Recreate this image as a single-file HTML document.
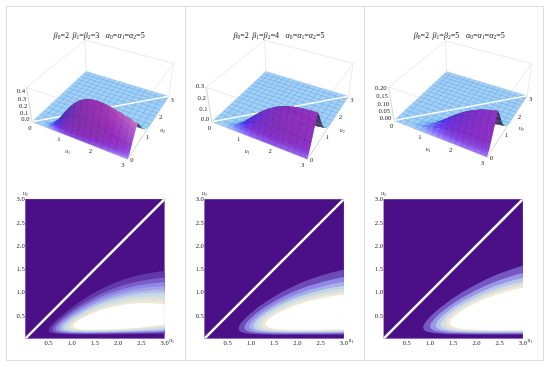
<!DOCTYPE html>
<html><head><meta charset="utf-8"><title>figure</title>
<style>
html,body{margin:0;padding:0;background:#fff;}
body{width:550px;height:367px;overflow:hidden;}
svg{display:block;}
text{font-family:"Liberation Serif","DejaVu Serif",serif;fill:#262626;}
.tk{font-size:6.6px;}
.al{font-size:5.8px;}
.tt{font-size:8.1px;fill:#222;}
.sb{font-size:5.6px;}
.t3{font-size:6.7px;}
</style></head><body>
<svg width="550" height="367" viewBox="0 0 550 367">
<rect width="550" height="367" fill="#fff"/>
<g fill="none" stroke="#dedede" stroke-width="1">
<rect x="6.5" y="6.5" width="537" height="354"/>
<line x1="185.5" y1="6.5" x2="185.5" y2="360.5"/><line x1="364.5" y1="6.5" x2="364.5" y2="360.5"/>
</g>
<line x1="537.8" y1="7" x2="537.8" y2="360" stroke="#f3f3f3" stroke-width="1"/>
<g id="c1"><clipPath id="cp1"><rect x="25.3" y="199.1" width="139.3" height="139.5"/></clipPath>
<rect x="25.3" y="199.1" width="139.3" height="139.5" fill="#4b0f87"/>
<g clip-path="url(#cp1)">
<path d="M67.3,334.2 81,334.4 102,334.4 132.8,334.1 167.4,333.6 167.4,270.6 161.5,271.2 155.8,272 149.9,273 144.6,274 139.3,275.1 133.9,276.5 128.6,278 123.9,279.5 119.1,281.1 114.4,283 109.7,285 104.6,287.3 99.9,289.7 95.2,292.3 90.7,294.8 86,297.8 79.8,301.8 73.6,306.2 67.9,310.5 62.3,314.9 57.6,319 53.7,322.6 52,324.4 50.8,325.8 49.9,327 49.2,328.1 48.8,329 48.6,329.9 48.6,330.5 48.8,331 49.2,331.6 49.5,331.9 50.2,332.3 51.1,332.7 52.2,333 53.4,333.3 57,333.7 61.7,334.1 67.3,334.2Z" fill="#6237a7"/>
<path d="M75.7,333.7 91,333.7 113.2,333.6 139.3,333.2 167.4,332.6 167.4,277.4 160.9,278 155,278.6 149,279.5 143.4,280.4 137.8,281.5 132.5,282.7 127.1,284 122.1,285.5 116.8,287.2 112,289 107.3,290.9 102.3,293.1 97.8,295.2 92.8,297.8 88.1,300.4 83.3,303.2 77.7,306.8 71.8,310.8 66.1,315 61.7,318.5 58,321.7 56.5,323.2 55.1,324.7 54.1,325.8 53.3,327 52.8,327.8 52.5,328.7 52.4,329.3 52.4,329.9 52.7,330.5 53.2,331 53.7,331.4 54.6,331.9 55.7,332.2 56.7,332.4 59.6,332.9 63.8,333.3 69.1,333.5 75.7,333.7Z" fill="#795fc8"/>
<path d="M75.7,333.1 82.7,333.2 91.3,333.2 113.8,333 141.6,332.5 167.4,331.8 167.4,282.1 161.8,282.5 155.8,283 150.2,283.6 144.6,284.4 139.3,285.3 134.2,286.2 129.2,287.4 123.9,288.7 118.8,290.2 114.1,291.7 109.4,293.4 104.9,295.1 100.2,297.2 95.8,299.2 91.3,301.5 86.9,303.8 81.2,307.1 76.2,310.3 70.6,314 65.9,317.5 62,320.6 60.4,322 58.8,323.5 57.7,324.7 56.8,325.8 56,327 55.6,327.8 55.4,328.4 55.4,329 55.5,329.6 55.8,330.2 56.4,330.7 57,331 57.7,331.3 58.7,331.7 61.5,332.2 65,332.6 69.7,332.9 75.7,333.1Z" fill="#9087e8"/>
<path d="M74.3,332.5 81.2,332.7 90.1,332.7 100.8,332.6 113.2,332.5 141,331.8 154.7,331.4 167.4,330.9 167.4,285.9 161.8,286.2 156.4,286.6 151.1,287 146.1,287.6 141,288.3 136,289.1 131.3,290 126.5,291.1 121.8,292.2 117.4,293.5 112.9,294.9 108.5,296.4 104,298.1 99.9,299.8 95.5,301.8 91,303.9 85.7,306.7 80.1,309.9 74.7,313.2 70,316.4 65.9,319.5 62.4,322.3 61.2,323.5 60.1,324.7 59.1,325.8 58.6,326.7 58.2,327.6 58,328.1 58,328.7 58.2,329.1 58.4,329.6 59,330.2 59.5,330.5 60.2,330.8 61.1,331.1 62.3,331.4 65.5,331.9 69.4,332.3 74.3,332.5Z" fill="#a1a2e8"/>
<path d="M84.3,332.2 92.2,332.2 101.7,332.2 123.6,331.7 146.1,331 167.4,330.1 167.4,289.3 161.5,289.5 155.8,289.7 150.2,290.1 144.9,290.7 139.6,291.4 134.5,292.1 129.5,293.1 124.8,294.1 120,295.2 115,296.6 110.3,298.1 105.5,299.8 101.1,301.5 96.6,303.3 92.2,305.3 87.5,307.7 82.1,310.6 77.1,313.5 72.4,316.5 68.2,319.5 65,322 63.7,323.2 62.6,324.4 61.6,325.5 61,326.4 60.6,327.3 60.5,327.8 60.6,328.4 60.8,329 61.3,329.6 61.8,329.9 62.3,330.2 63.2,330.5 64.1,330.8 65.6,331.1 68.8,331.6 73,331.9 78,332.1 84.3,332.2Z" fill="#b2bde9"/>
<path d="M79.7,331.6 87.2,331.8 96.6,331.7 107.6,331.6 120,331.3 132.8,330.9 144.9,330.4 156.1,329.8 167.4,329.1 167.4,292.4 162.1,292.4 157,292.5 152,292.8 147,293.2 141.9,293.6 137.2,294.2 132.8,294.9 128,295.7 123.6,296.7 119.1,297.7 114.7,298.9 110.6,300.1 106.1,301.6 102,303.1 97.8,304.7 93.7,306.5 88.6,308.8 83.6,311.4 78.6,314.3 74.1,317 70.3,319.6 67.2,322 65.9,323.2 64.7,324.4 64,325.2 63.4,326.1 63.2,326.7 63,327.3 63,327.8 63.2,328.4 63.5,328.9 64,329.3 64.7,329.7 65.6,330.1 67.6,330.6 70.6,331 74.4,331.4 79.7,331.6Z" fill="#c2d8e9"/>
<path d="M78.7,331 86.3,331.3 95.8,331.3 107.6,331.1 120.5,330.8 134.2,330.2 146.5,329.6 157,328.9 167.4,328.1 167.4,295.4 162.6,295.3 157.9,295.3 153.2,295.4 148.4,295.6 143.7,295.9 139.3,296.4 134.8,296.9 130.4,297.5 125.9,298.3 121.8,299.2 117.7,300.1 113.5,301.2 109.4,302.4 105.2,303.7 101.4,305.1 97.2,306.7 92.2,308.8 87.5,311.1 82.7,313.5 78.3,316 74.2,318.5 70.9,320.9 69.4,322 68.2,323.1 67.2,324.1 66.4,324.9 65.9,325.8 65.6,326.4 65.4,327 65.4,327.6 65.7,328.1 65.9,328.4 66.4,328.9 67.1,329.3 68.8,329.9 71.5,330.4 74.4,330.8 78.7,331Z" fill="#d2dde2"/>
<path d="M86.2,330.8 94.6,330.8 104.6,330.7 115.9,330.4 128,329.9 138.9,329.3 149.3,328.6 158.4,327.8 167.4,326.9 167.4,298.4 162.6,298.1 157.9,298 153.2,298 148.4,298.1 143.7,298.3 139.3,298.6 134.5,299.1 130.1,299.7 125.6,300.4 121.5,301.2 117.1,302.2 112.9,303.2 108.8,304.4 104.6,305.7 100.5,307.1 96.3,308.7 91.3,310.8 86.6,313 81.8,315.5 77.7,317.9 74,320.3 71.3,322.3 70.3,323.2 69.4,324.1 68.7,324.9 68.2,325.8 68,326.4 67.9,327 68.1,327.6 68.3,327.8 68.8,328.4 69.3,328.7 70,329 71.2,329.4 73.4,329.9 76.8,330.3 81,330.6 86.2,330.8Z" fill="#e1e2db"/>
<path d="M85.4,330.2 94,330.3 104.3,330.2 116.5,329.8 128.9,329.2 140.4,328.4 150.6,327.6 158.7,326.7 167.4,325.5 167.4,301.5 163.2,301 159.1,300.8 155,300.6 150.5,300.5 146.1,300.6 141.6,300.8 137.2,301.1 133,301.5 128.9,302 124.8,302.6 120.6,303.3 116.5,304.2 112.6,305.1 108.5,306.2 104.6,307.4 100.5,308.8 95.8,310.5 91,312.5 86.6,314.6 82.2,316.8 78.3,319.1 75.1,321.2 72.9,322.9 72,323.8 71.3,324.7 70.9,325.2 70.7,325.8 70.6,326.4 70.6,327 70.9,327.4 71.3,327.8 71.8,328.2 72.7,328.6 74.4,329.1 77.2,329.6 80.7,329.9 85.4,330.2Z" fill="#f0e7d5"/>
<path d="M86.6,329.6 90.7,329.7 95.5,329.7 106.7,329.5 119.8,329 132.2,328.2 143.3,327.3 152.3,326.2 157.3,325.5 160.9,324.9 164,324.4 167.4,323.6 167.4,304.9 163.8,304.3 160,303.8 156.1,303.4 152.3,303.2 148.4,303 144.3,303 140.2,303.1 136,303.3 131.9,303.7 128,304.1 123.9,304.7 120,305.3 115.9,306.1 112,307 108.2,308 104.3,309.1 99.3,310.8 94.6,312.6 90,314.5 85.7,316.5 81.8,318.5 78.5,320.6 76.1,322.3 75.1,323.2 74.3,324.1 73.8,324.7 73.5,325.2 73.4,325.8 73.4,326.4 73.7,327 73.9,327.3 74.3,327.6 75,328 75.9,328.3 76.8,328.5 79.3,329 82.4,329.3 86.6,329.6Z" fill="#ffffff"/>
<line x1="25.3" y1="338.6" x2="164.6" y2="199.1" stroke="#fff" stroke-width="2.5"/>
</g>
<text x="48.5" y="345.0" text-anchor="middle" class="tk">0.5</text>
<text x="24.8" y="317.6" text-anchor="end" class="tk">0.5</text>
<text x="71.7" y="345.0" text-anchor="middle" class="tk">1.0</text>
<text x="24.8" y="294.3" text-anchor="end" class="tk">1.0</text>
<text x="94.9" y="345.0" text-anchor="middle" class="tk">1.5</text>
<text x="24.8" y="271.1" text-anchor="end" class="tk">1.5</text>
<text x="118.2" y="345.0" text-anchor="middle" class="tk">2.0</text>
<text x="24.8" y="247.8" text-anchor="end" class="tk">2.0</text>
<text x="141.4" y="345.0" text-anchor="middle" class="tk">2.5</text>
<text x="24.8" y="224.6" text-anchor="end" class="tk">2.5</text>
<text x="164.6" y="345.0" text-anchor="middle" class="tk">3.0</text>
<text x="24.8" y="201.3" text-anchor="end" class="tk">3.0</text>
<text x="22.9" y="194.6" class="al"><tspan font-style="italic">u</tspan><tspan dy="1" font-size="3.9">2</tspan></text>
<text x="169.2" y="341.5" class="al"><tspan font-style="italic">u</tspan><tspan dy="1" font-size="3.9">1</tspan></text></g>
<g id="c2"><clipPath id="cp2"><rect x="204.4" y="199.2" width="139.5" height="139.4"/></clipPath>
<rect x="204.4" y="199.2" width="139.5" height="139.4" fill="#4b0f87"/>
<g clip-path="url(#cp2)">
<path d="M265.3,334.5 277.6,334.7 294.5,334.8 317.9,334.7 346.7,334.5 346.7,269.2 340.2,270.5 333.1,272.2 326.5,274 320.6,275.7 314.4,277.8 308.4,279.9 302.8,282.1 296.6,284.7 291,287.4 285.3,290.2 280,293.1 274.4,296.4 268.7,299.9 263.7,303.2 258.6,306.8 253.9,310.5 250.1,313.7 246.6,316.8 243.8,319.7 241.5,322.3 240.7,323.5 239.9,324.7 239.3,325.8 238.9,326.7 238.7,327.6 238.6,328.4 238.6,329.3 238.8,329.9 239.1,330.5 239.7,331 240.3,331.5 241,331.9 241.8,332.2 242.9,332.6 245.6,333.2 249.2,333.7 253.3,334.1 258.9,334.3 265.3,334.5Z" fill="#6d4bb7"/>
<path d="M274,333.7 285.9,333.8 301.6,333.8 321.2,333.7 346.7,333.5 346.7,276.6 340.2,277.8 333.4,279.2 327.1,280.7 320.6,282.4 314.4,284.2 308.4,286.1 302.5,288.2 297.2,290.3 291.3,292.8 285.9,295.3 280.3,298.1 275,301 269.9,303.9 264.9,307.1 260.4,310.2 256.3,313.3 253,316 250.2,318.6 248,320.9 247,322 246.1,323.2 245.4,324.4 245,325.2 244.6,326.1 244.4,327 244.4,327.9 244.5,328.4 244.7,329 245.2,329.6 245.6,330 246.2,330.5 247.1,330.9 248.1,331.3 250.3,332 253.5,332.5 257.2,332.9 261.6,333.2 267.2,333.5 274,333.7Z" fill="#9087e8"/>
<path d="M274.8,332.8 286.8,333 302.2,333 322.1,332.9 346.7,332.6 346.7,281.5 340.2,282.6 333.9,283.8 328,285 322.1,286.4 316.5,287.9 310.5,289.6 305.2,291.4 299.9,293.2 294.5,295.3 289.2,297.5 284.1,299.8 279.4,302.1 274.4,304.8 269.9,307.4 265.8,310 261.9,312.6 258.4,315.3 255.5,317.7 253,320 251.2,322 250.4,323.2 249.9,324.1 249.4,325 249.2,325.8 249.1,326.7 249.1,327.3 249.3,327.9 249.6,328.4 250.1,329 250.5,329.3 251.2,329.8 252,330.2 253,330.6 254.2,330.9 256.9,331.5 260.1,331.9 264,332.3 269,332.6 274.8,332.8Z" fill="#a9afe9"/>
<path d="M286.1,332.2 297.5,332.3 311.1,332.2 327.7,332.1 346.7,331.8 346.7,285.4 339.9,286.5 333.4,287.6 327.1,288.8 321.2,290.2 315.3,291.7 309.9,293.2 304.3,294.9 298.7,296.8 293,299 288,301 283,303.3 278.2,305.6 273.5,308.2 269,310.8 265.2,313.3 261.5,315.9 258.7,318.3 256.6,320.3 255.1,322 254.5,322.9 253.9,323.8 253.6,324.7 253.4,325.2 253.3,326.1 253.4,326.7 253.6,327.3 254,327.9 254.5,328.4 254.9,328.7 255.7,329.2 256.6,329.5 258.6,330.2 261.4,330.8 264.6,331.2 268.7,331.6 273.5,331.9 279.4,332.1 286.1,332.2Z" fill="#c2d8e9"/>
<path d="M282.8,331.3 294.2,331.5 308.4,331.5 325.9,331.3 346.7,330.9 346.7,288.7 340.5,289.6 334.5,290.5 328.6,291.6 323,292.8 317.6,294 312.3,295.4 307,296.9 302.2,298.4 297.2,300.1 292.4,301.8 288,303.6 283.5,305.6 279.4,307.6 275.2,309.8 271.4,312 267.9,314.2 265,316.2 262.4,318.3 260.3,320.3 258.8,322 257.9,323.5 257.5,324.4 257.4,325 257.4,325.5 257.5,326.1 257.7,326.7 258.1,327.3 258.6,327.7 259.2,328.1 260.1,328.6 261,329 263.2,329.6 265.8,330.1 268.7,330.5 272.9,330.9 277.3,331.1 282.8,331.3Z" fill="#d9e0df"/>
<path d="M295.2,330.8 305.5,330.8 317.6,330.7 331.3,330.5 346.7,330.1 346.7,291.7 340.2,292.5 334.2,293.4 328.6,294.4 322.7,295.5 317.3,296.7 311.7,298.1 306.4,299.6 301.3,301.1 296.3,302.8 291.6,304.6 286.8,306.5 282.4,308.5 278.2,310.6 274.3,312.8 270.8,314.9 267.6,317.1 265.5,318.9 263.7,320.6 262.5,322 262,322.9 261.7,323.5 261.6,324.1 261.5,324.7 261.5,325.2 261.7,325.8 262.1,326.4 262.6,327 263.1,327.3 264,327.8 265.6,328.4 267.9,329 270.8,329.5 274.1,329.9 277.9,330.2 283,330.5 288.6,330.7 295.2,330.8Z" fill="#f0e7d5"/>
<path d="M292.7,329.9 303.1,330 315.9,329.9 330.7,329.6 346.7,329.2 346.7,294.4 341.1,295 335.4,295.8 330.1,296.6 324.8,297.6 319.4,298.7 314.4,299.8 309.6,301 304.9,302.3 300.1,303.8 295.7,305.3 291.3,307 287.1,308.7 283.3,310.4 279.7,312.2 276.1,314.1 273.2,315.9 270.7,317.7 269,319.1 267.5,320.6 266.4,322 265.8,323.2 265.7,323.8 265.7,324.4 265.8,325 266.1,325.5 266.6,326.1 267,326.4 267.5,326.8 268.4,327.2 270.3,327.9 272.8,328.4 275.2,328.8 278.8,329.2 282.7,329.5 287.4,329.7 292.7,329.9Z" fill="#ffffff"/>
<line x1="204.4" y1="338.6" x2="343.9" y2="199.2" stroke="#fff" stroke-width="2.5"/>
</g>
<text x="227.7" y="345.0" text-anchor="middle" class="tk">0.5</text>
<text x="203.9" y="317.6" text-anchor="end" class="tk">0.5</text>
<text x="250.9" y="345.0" text-anchor="middle" class="tk">1.0</text>
<text x="203.9" y="294.3" text-anchor="end" class="tk">1.0</text>
<text x="274.1" y="345.0" text-anchor="middle" class="tk">1.5</text>
<text x="203.9" y="271.1" text-anchor="end" class="tk">1.5</text>
<text x="297.4" y="345.0" text-anchor="middle" class="tk">2.0</text>
<text x="203.9" y="247.9" text-anchor="end" class="tk">2.0</text>
<text x="320.6" y="345.0" text-anchor="middle" class="tk">2.5</text>
<text x="203.9" y="224.6" text-anchor="end" class="tk">2.5</text>
<text x="343.9" y="345.0" text-anchor="middle" class="tk">3.0</text>
<text x="203.9" y="201.4" text-anchor="end" class="tk">3.0</text>
<text x="202.0" y="194.7" class="al"><tspan font-style="italic">u</tspan><tspan dy="1" font-size="3.9">2</tspan></text>
<text x="348.5" y="341.5" class="al"><tspan font-style="italic">u</tspan><tspan dy="1" font-size="3.9">1</tspan></text></g>
<g id="c3"><clipPath id="cp3"><rect x="383.6" y="199.2" width="139.3" height="139.4"/></clipPath>
<rect x="383.6" y="199.2" width="139.3" height="139.4" fill="#4b0f87"/>
<g clip-path="url(#cp3)">
<path d="M478,334.5 498.5,334.6 525.7,334.4 525.7,264.9 518.3,267.1 510.9,269.4 503.8,271.9 496.4,274.8 489.6,277.8 482.8,280.9 476,284.4 469.1,288.2 461.7,292.6 454.9,296.9 448.7,301.3 442.5,305.9 439.5,308.3 436.9,310.5 434.5,312.5 432.1,314.8 430,316.8 428.1,318.9 426.7,320.6 425.4,322.3 424.3,324.1 423.9,325 423.5,325.8 423.3,326.7 423.2,327.3 423.3,328.1 423.4,328.7 423.7,329.3 424.1,329.9 424.7,330.5 425.1,330.8 425.9,331.2 426.9,331.6 429.2,332.3 431.9,332.8 435.4,333.3 439.5,333.6 444.6,333.9 450.8,334.2 458.5,334.3 478,334.5Z" fill="#7457c1"/>
<path d="M469,333.4 479.8,333.5 492.8,333.5 525.7,333.4 525.7,272.3 518.9,274 512.1,276 505.6,278 499,280.3 492.8,282.7 486.6,285.3 480.7,288 474.8,290.8 468.9,294 462.6,297.5 457,300.9 451.7,304.5 446.4,308.3 441.9,311.8 438.1,315.1 436.3,316.8 434.9,318.3 433.1,320.3 431.6,322.3 430.7,324.1 430.4,325 430.3,325.8 430.3,326.7 430.4,327.3 430.6,327.9 431,328.4 431.9,329.3 432.7,329.8 433.5,330.2 435.4,330.9 438.1,331.5 441.3,332 445.2,332.4 449.6,332.7 455.2,333 461.7,333.2 469,333.4Z" fill="#9a97e8"/>
<path d="M473.8,332.5 483.9,332.6 496.1,332.6 525.7,332.5 525.7,277.1 519.2,278.7 512.7,280.5 506.1,282.4 499.9,284.4 494,286.5 488.1,288.9 482.2,291.4 476.5,294 470.6,296.9 465.3,299.8 460,302.9 454.9,306.1 450.2,309.4 446.2,312.5 442.7,315.4 441.2,316.8 439.8,318.3 438,320.3 436.9,322 436.4,322.9 436,323.8 435.8,324.7 435.8,325.2 435.8,325.8 436,326.4 436.2,327 436.6,327.6 437.6,328.4 438.4,328.9 439.3,329.3 441.3,330 444,330.6 446.9,331.1 450.8,331.5 455.2,331.8 460.6,332.1 466.8,332.3 473.8,332.5Z" fill="#b8c8e9"/>
<path d="M475.2,331.6 485.1,331.8 497,331.8 510.6,331.8 525.7,331.6 525.7,281 519.5,282.4 513.5,283.9 507.6,285.5 501.7,287.3 495.8,289.3 490.2,291.4 484.5,293.7 479.5,295.9 474.2,298.4 469.1,300.9 464.1,303.7 459.4,306.5 454.9,309.4 451.1,312.2 447.8,314.8 445,317.4 443.2,319.4 441.9,321.2 441.1,322.6 440.9,323.5 440.8,324.1 440.7,324.7 440.8,325.2 441,325.8 441.4,326.4 442.2,327.3 442.8,327.7 443.6,328.1 445.5,328.9 447.8,329.5 450.8,330.1 454.1,330.5 458.2,330.9 462.9,331.2 468.6,331.4 475.2,331.6Z" fill="#d5dee1"/>
<path d="M476.4,330.8 486,330.9 497.6,331 510.9,331 525.7,330.8 525.7,284.2 519.8,285.5 514.1,286.8 508.2,288.4 502.9,290 497.6,291.7 492.5,293.4 487.2,295.5 482.2,297.5 477.1,299.8 472.4,302.1 467.7,304.5 463.5,306.9 459.4,309.5 455.8,311.9 452.8,314.2 450.1,316.5 448.3,318.3 446.9,320 446,321.5 445.7,322.3 445.5,322.9 445.4,323.5 445.5,324.1 445.6,324.7 445.8,325.2 446.2,325.8 446.8,326.4 448.1,327.2 449.6,327.9 452,328.6 454.6,329.1 457.9,329.6 461.5,330 465.9,330.3 470.6,330.6 476.4,330.8Z" fill="#f0e7d5"/>
<path d="M495.5,330.2 509.7,330.1 525.7,329.9 525.7,287.1 519.8,288.3 513.5,289.8 507.6,291.3 502,292.9 496.7,294.6 491.1,296.6 485.7,298.6 480.7,300.8 475.7,303.1 470.6,305.6 466.2,308 462,310.6 458.4,313 455.5,315.4 454.2,316.5 453,317.7 451.9,318.9 451.3,319.7 450.5,321.2 450.1,322.3 450,322.9 450.1,323.5 450.2,324.1 450.5,324.7 451.3,325.5 452,326 452.6,326.4 453.5,326.8 454.6,327.2 456.9,327.9 459.8,328.4 462.9,328.9 466.8,329.3 471.2,329.6 476.3,329.8 481.9,330 495.5,330.2Z" fill="#ffffff"/>
<line x1="383.6" y1="338.6" x2="522.9" y2="199.2" stroke="#fff" stroke-width="2.5"/>
</g>
<text x="406.8" y="345.0" text-anchor="middle" class="tk">0.5</text>
<text x="383.1" y="317.6" text-anchor="end" class="tk">0.5</text>
<text x="430.0" y="345.0" text-anchor="middle" class="tk">1.0</text>
<text x="383.1" y="294.3" text-anchor="end" class="tk">1.0</text>
<text x="453.2" y="345.0" text-anchor="middle" class="tk">1.5</text>
<text x="383.1" y="271.1" text-anchor="end" class="tk">1.5</text>
<text x="476.5" y="345.0" text-anchor="middle" class="tk">2.0</text>
<text x="383.1" y="247.9" text-anchor="end" class="tk">2.0</text>
<text x="499.7" y="345.0" text-anchor="middle" class="tk">2.5</text>
<text x="383.1" y="224.6" text-anchor="end" class="tk">2.5</text>
<text x="522.9" y="345.0" text-anchor="middle" class="tk">3.0</text>
<text x="383.1" y="201.4" text-anchor="end" class="tk">3.0</text>
<text x="381.2" y="194.7" class="al"><tspan font-style="italic">u</tspan><tspan dy="1" font-size="3.9">2</tspan></text>
<text x="527.5" y="341.5" class="al"><tspan font-style="italic">u</tspan><tspan dy="1" font-size="3.9">1</tspan></text></g>
<g id="s1"><line x1="32.0" y1="121.8" x2="127.7" y2="159.3" stroke="#d6d6d6" stroke-width="0.5"/>
<line x1="127.7" y1="159.3" x2="168.9" y2="96.2" stroke="#d6d6d6" stroke-width="0.5"/>
<line x1="168.9" y1="96.2" x2="86.1" y2="71.3" stroke="#d6d6d6" stroke-width="0.5"/>
<line x1="86.1" y1="71.3" x2="32.0" y2="121.8" stroke="#d6d6d6" stroke-width="0.5"/>
<line x1="32.0" y1="121.8" x2="26.5" y2="87.3" stroke="#d6d6d6" stroke-width="0.5"/>
<line x1="86.1" y1="71.3" x2="85.0" y2="40.1" stroke="#d6d6d6" stroke-width="0.5"/>
<line x1="168.9" y1="96.2" x2="173.4" y2="63.3" stroke="#d6d6d6" stroke-width="0.5"/>
<line x1="26.5" y1="87.3" x2="85.0" y2="40.1" stroke="#d6d6d6" stroke-width="0.5"/>
<line x1="85.0" y1="40.1" x2="173.4" y2="63.3" stroke="#d6d6d6" stroke-width="0.5"/>
<line x1="127.7" y1="159.3" x2="129.8" y2="123.2" stroke="#d6d6d6" stroke-width="0.5"/>
<line x1="26.5" y1="87.3" x2="129.8" y2="123.2" stroke="#d6d6d6" stroke-width="0.5"/>
<line x1="129.8" y1="123.2" x2="173.4" y2="63.3" stroke="#d6d6d6" stroke-width="0.5"/>
<path d="M32,121.8 127.7,159.3 127.9,159.1 73.8,138.1 58.4,132 51.6,129.2 50.4,128.7 50.2,128.5 49.3,127.8 48.8,127.1 48.4,126.4 48.1,125.8 48.1,125.2 48.1,124.6 49,124.1 50.4,123.5 52,122.9 54.1,122.3 59,121.4 64.8,120.6 71.8,120 78.9,119.6 86.6,119.4 94.5,119.5 101.1,119.7 108.3,120.1 114.6,120.7 121.2,121.5 128,122.6 135.1,123.9 141.5,125.2 148.9,126.9 168.9,96.2 86.1,71.3 32,121.8Z" fill="#9dd0fb" fill-rule="evenodd"/>
<line x1="32.0" y1="121.8" x2="168.9" y2="96.2" stroke="#fff" stroke-width="1.5"/>
<defs><linearGradient id="g1_50" gradientUnits="userSpaceOnUse" x1="147.3" x2="149.9" y1="0" y2="0"><stop offset="0" stop-color="#94d5fa"/><stop offset="1" stop-color="#95d6fa"/></linearGradient><linearGradient id="g1_49" gradientUnits="userSpaceOnUse" x1="139.0" x2="149.3" y1="0" y2="0"><stop offset="0" stop-color="#9dd0fb"/><stop offset="0.0493" stop-color="#91d5fa"/><stop offset="1" stop-color="#92d7fa"/></linearGradient><linearGradient id="g1_48" gradientUnits="userSpaceOnUse" x1="131.8" x2="148.7" y1="0" y2="0"><stop offset="0" stop-color="#9dd0fb"/><stop offset="0.0296" stop-color="#9dd0fb"/><stop offset="0.0593" stop-color="#8ed4fa"/><stop offset="1" stop-color="#8fd9fa"/></linearGradient><linearGradient id="g1_47" gradientUnits="userSpaceOnUse" x1="125.6" x2="148.0" y1="0" y2="0"><stop offset="0" stop-color="#9dd0fb"/><stop offset="0.0221" stop-color="#9dd0fb"/><stop offset="0.0442" stop-color="#8ed1fb"/><stop offset="0.0663" stop-color="#8bd4fa"/><stop offset="1" stop-color="#8cdafa"/></linearGradient><linearGradient id="g1_46" gradientUnits="userSpaceOnUse" x1="120.4" x2="147.4" y1="0" y2="0"><stop offset="0" stop-color="#9dd0fb"/><stop offset="0.0182" stop-color="#9dd0fb"/><stop offset="0.0364" stop-color="#89d3fa"/><stop offset="0.482" stop-color="#85d6fa"/><stop offset="1" stop-color="#88dbfa"/></linearGradient><linearGradient id="g1_45" gradientUnits="userSpaceOnUse" x1="115.3" x2="146.8" y1="0" y2="0"><stop offset="0" stop-color="#9dd0fb"/><stop offset="0.0155" stop-color="#9dd0fb"/><stop offset="0.0309" stop-color="#86d2fa"/><stop offset="0.124" stop-color="#83d3fa"/><stop offset="0.522" stop-color="#7fd6fa"/><stop offset="1" stop-color="#84dbfa"/></linearGradient><linearGradient id="g1_44" gradientUnits="userSpaceOnUse" x1="110.7" x2="146.2" y1="0" y2="0"><stop offset="0" stop-color="#9dd0fb"/><stop offset="0.0136" stop-color="#9dd0fb"/><stop offset="0.0272" stop-color="#87cffb"/><stop offset="0.0409" stop-color="#82d1fb"/><stop offset="0.206" stop-color="#7bd2fa"/><stop offset="0.546" stop-color="#78d5fa"/><stop offset="1" stop-color="#7fdaf4"/></linearGradient><linearGradient id="g1_43" gradientUnits="userSpaceOnUse" x1="106.5" x2="145.6" y1="0" y2="0"><stop offset="0" stop-color="#9dd0fb"/><stop offset="0.0123" stop-color="#9dd0fb"/><stop offset="0.0246" stop-color="#80d0fb"/><stop offset="0.174" stop-color="#76d0fb"/><stop offset="0.351" stop-color="#76d0fa"/><stop offset="0.651" stop-color="#77d3ef"/><stop offset="1" stop-color="#7ad9eb"/></linearGradient><linearGradient id="g1_42" gradientUnits="userSpaceOnUse" x1="102.4" x2="145.0" y1="0" y2="0"><stop offset="0" stop-color="#9dd0fb"/><stop offset="0.0112" stop-color="#9dd0fb"/><stop offset="0.0224" stop-color="#7ecffb"/><stop offset="0.102" stop-color="#75cefb"/><stop offset="0.25" stop-color="#75ccfb"/><stop offset="0.438" stop-color="#75cded"/><stop offset="0.63" stop-color="#76cfe5"/><stop offset="1" stop-color="#78d7e2"/></linearGradient><linearGradient id="g1_41" gradientUnits="userSpaceOnUse" x1="98.7" x2="144.4" y1="0" y2="0"><stop offset="0" stop-color="#9dd0fb"/><stop offset="0.0104" stop-color="#9dd0fb"/><stop offset="0.0208" stop-color="#7bcdfb"/><stop offset="0.0522" stop-color="#76cdfb"/><stop offset="0.19" stop-color="#74c9fa"/><stop offset="0.374" stop-color="#73c7e8"/><stop offset="0.385" stop-color="#432b5c"/><stop offset="1" stop-color="#432b5c"/></linearGradient><linearGradient id="g1_40" gradientUnits="userSpaceOnUse" x1="95.1" x2="143.8" y1="0" y2="0"><stop offset="0" stop-color="#9dd0fb"/><stop offset="0.00972" stop-color="#9dd0fb"/><stop offset="0.0194" stop-color="#78ccfb"/><stop offset="0.0291" stop-color="#76ccfb"/><stop offset="0.147" stop-color="#73c6fb"/><stop offset="0.257" stop-color="#72c2eb"/><stop offset="0.267" stop-color="#432b5c"/><stop offset="1" stop-color="#432b5c"/></linearGradient><linearGradient id="g1_39" gradientUnits="userSpaceOnUse" x1="91.5" x2="143.3" y1="0" y2="0"><stop offset="0" stop-color="#9dd0fb"/><stop offset="0.0091" stop-color="#9dd0fb"/><stop offset="0.0182" stop-color="#77ccfb"/><stop offset="0.0273" stop-color="#75cbfb"/><stop offset="0.119" stop-color="#72c3fb"/><stop offset="0.193" stop-color="#71beed"/><stop offset="0.203" stop-color="#432b5c"/><stop offset="1" stop-color="#432b5c"/></linearGradient><linearGradient id="g1_38" gradientUnits="userSpaceOnUse" x1="89.4" x2="142.8" y1="0" y2="0"><stop offset="0" stop-color="#9dd0fb"/><stop offset="0.00878" stop-color="#76cbfb"/><stop offset="0.0971" stop-color="#72c1fb"/><stop offset="0.151" stop-color="#70bcee"/><stop offset="0.16" stop-color="#432b5c"/><stop offset="1" stop-color="#432b5c"/></linearGradient><linearGradient id="g1_37" gradientUnits="userSpaceOnUse" x1="87.6" x2="142.5" y1="0" y2="0"><stop offset="0" stop-color="#9dd0fb"/><stop offset="0.00853" stop-color="#76cbfb"/><stop offset="0.0855" stop-color="#71c1fb"/><stop offset="0.137" stop-color="#70bbef"/><stop offset="0.146" stop-color="#432b5c"/><stop offset="1" stop-color="#432b5c"/></linearGradient><linearGradient id="g1_36" gradientUnits="userSpaceOnUse" x1="86.3" x2="142.3" y1="0" y2="0"><stop offset="0" stop-color="#78cbfb"/><stop offset="0.00833" stop-color="#74cafb"/><stop offset="0.0753" stop-color="#71c0fb"/><stop offset="0.117" stop-color="#6fbaf0"/><stop offset="0.126" stop-color="#432b5c"/><stop offset="1" stop-color="#432b5c"/></linearGradient><linearGradient id="g1_35" gradientUnits="userSpaceOnUse" x1="84.4" x2="142.0" y1="0" y2="0"><stop offset="0" stop-color="#9dd0fb"/><stop offset="0.00809" stop-color="#75cafb"/><stop offset="0.073" stop-color="#71bffb"/><stop offset="0.114" stop-color="#6fb8ef"/><stop offset="0.122" stop-color="#432b5c"/><stop offset="1" stop-color="#432b5c"/></linearGradient><linearGradient id="g1_34" gradientUnits="userSpaceOnUse" x1="82.6" x2="141.7" y1="0" y2="0"><stop offset="0" stop-color="#9dd0fb"/><stop offset="0.00788" stop-color="#77cafb"/><stop offset="0.0709" stop-color="#71befb"/><stop offset="0.103" stop-color="#6fb7f2"/><stop offset="0.111" stop-color="#432b5c"/><stop offset="1" stop-color="#432b5c"/></linearGradient><linearGradient id="g1_33" gradientUnits="userSpaceOnUse" x1="81.3" x2="141.4" y1="0" y2="0"><stop offset="0" stop-color="#9cd2fa"/><stop offset="0.0077" stop-color="#75cafb"/><stop offset="0.0695" stop-color="#70bcfa"/><stop offset="0.0928" stop-color="#6eb6f2"/><stop offset="0.101" stop-color="#432b5c"/><stop offset="1" stop-color="#432b5c"/></linearGradient><linearGradient id="g1_32" gradientUnits="userSpaceOnUse" x1="79.4" x2="141.1" y1="0" y2="0"><stop offset="0" stop-color="#9dd0fb"/><stop offset="0.00751" stop-color="#78cafb"/><stop offset="0.015" stop-color="#74c9fb"/><stop offset="0.0676" stop-color="#70bbfb"/><stop offset="0.0902" stop-color="#6eb5f2"/><stop offset="0.0978" stop-color="#432b5c"/><stop offset="1" stop-color="#432b5c"/></linearGradient><linearGradient id="g1_31" gradientUnits="userSpaceOnUse" x1="78.1" x2="140.8" y1="0" y2="0"><stop offset="0" stop-color="#9ad2fa"/><stop offset="0.00735" stop-color="#76cafb"/><stop offset="0.0589" stop-color="#70bbfb"/><stop offset="0.081" stop-color="#6eb4f3"/><stop offset="0.0884" stop-color="#432b5c"/><stop offset="1" stop-color="#432b5c"/></linearGradient><linearGradient id="g1_30" gradientUnits="userSpaceOnUse" x1="76.3" x2="140.5" y1="0" y2="0"><stop offset="0" stop-color="#9dd0fb"/><stop offset="0.00718" stop-color="#7acbfb"/><stop offset="0.0143" stop-color="#75c9fb"/><stop offset="0.0645" stop-color="#6fb9fb"/><stop offset="0.0789" stop-color="#6eb4f4"/><stop offset="0.0861" stop-color="#432b5c"/><stop offset="1" stop-color="#432b5c"/></linearGradient><linearGradient id="g1_29" gradientUnits="userSpaceOnUse" x1="74.9" x2="140.2" y1="0" y2="0"><stop offset="0" stop-color="#9dd0fb"/><stop offset="0.00703" stop-color="#79cafb"/><stop offset="0.0141" stop-color="#74c8fb"/><stop offset="0.0562" stop-color="#6fbafb"/><stop offset="0.0774" stop-color="#6db1f2"/><stop offset="0.0844" stop-color="#432b5c"/><stop offset="1" stop-color="#432b5c"/></linearGradient><linearGradient id="g1_28" gradientUnits="userSpaceOnUse" x1="73.5" x2="139.9" y1="0" y2="0"><stop offset="0" stop-color="#7ecbfb"/><stop offset="0.0138" stop-color="#74c8fb"/><stop offset="0.0552" stop-color="#6fb8fb"/><stop offset="0.069" stop-color="#6db2f4"/><stop offset="0.0759" stop-color="#432b5c"/><stop offset="1" stop-color="#432b5c"/></linearGradient><linearGradient id="g1_27" gradientUnits="userSpaceOnUse" x1="71.7" x2="139.6" y1="0" y2="0"><stop offset="0" stop-color="#9dd0fb"/><stop offset="0.00675" stop-color="#7dcbfb"/><stop offset="0.0135" stop-color="#77c9fb"/><stop offset="0.0202" stop-color="#73c7fb"/><stop offset="0.0539" stop-color="#6fb9fb"/><stop offset="0.0673" stop-color="#6db2f6"/><stop offset="0.0741" stop-color="#432b5c"/><stop offset="1" stop-color="#432b5c"/></linearGradient><linearGradient id="g1_26" gradientUnits="userSpaceOnUse" x1="70.3" x2="139.3" y1="0" y2="0"><stop offset="0" stop-color="#8dcefb"/><stop offset="0.00662" stop-color="#7dcbfb"/><stop offset="0.0198" stop-color="#73c7fb"/><stop offset="0.0529" stop-color="#6fb7fb"/><stop offset="0.0661" stop-color="#6cb0f5"/><stop offset="0.0727" stop-color="#432b5c"/><stop offset="1" stop-color="#432b5c"/></linearGradient><linearGradient id="g1_25" gradientUnits="userSpaceOnUse" x1="69.0" x2="139.0" y1="0" y2="0"><stop offset="0" stop-color="#83ccfb"/><stop offset="0.0195" stop-color="#73c6fb"/><stop offset="0.052" stop-color="#6eb6fb"/><stop offset="0.065" stop-color="#6caef4"/><stop offset="0.0715" stop-color="#432b5c"/><stop offset="1" stop-color="#432b5c"/></linearGradient><linearGradient id="g1_24" gradientUnits="userSpaceOnUse" x1="67.6" x2="138.7" y1="0" y2="0"><stop offset="0" stop-color="#84ccfb"/><stop offset="0.0192" stop-color="#73c6fb"/><stop offset="0.0511" stop-color="#6eb4fb"/><stop offset="0.0575" stop-color="#6cb0f8"/><stop offset="0.0639" stop-color="#432b5c"/><stop offset="1" stop-color="#432b5c"/></linearGradient><linearGradient id="g1_23" gradientUnits="userSpaceOnUse" x1="66.2" x2="138.4" y1="0" y2="0"><stop offset="0" stop-color="#84ccfb"/><stop offset="0.0189" stop-color="#73c6fb"/><stop offset="0.0503" stop-color="#6db3fb"/><stop offset="0.0565" stop-color="#6caff7"/><stop offset="0.0628" stop-color="#432b5c"/><stop offset="0.992" stop-color="#432b5c"/><stop offset="1" stop-color="#b6f0b2"/></linearGradient><linearGradient id="g1_22" gradientUnits="userSpaceOnUse" x1="64.9" x2="138.1" y1="0" y2="0"><stop offset="0" stop-color="#85ccfb"/><stop offset="0.0186" stop-color="#73c5fb"/><stop offset="0.0494" stop-color="#6db2fb"/><stop offset="0.0556" stop-color="#6cadf7"/><stop offset="0.0617" stop-color="#432b5c"/><stop offset="0.962" stop-color="#432b5c"/><stop offset="0.969" stop-color="#9ce9c1"/><stop offset="0.992" stop-color="#a1ebc5"/><stop offset="1" stop-color="#d0f8b1"/></linearGradient><linearGradient id="g1_21" gradientUnits="userSpaceOnUse" x1="63.5" x2="137.7" y1="0" y2="0"><stop offset="0" stop-color="#86ccfb"/><stop offset="0.0183" stop-color="#73c5fb"/><stop offset="0.0487" stop-color="#6db1fc"/><stop offset="0.0547" stop-color="#6bacf8"/><stop offset="0.0608" stop-color="#432b5c"/><stop offset="0.901" stop-color="#432b5c"/><stop offset="0.909" stop-color="#9de9c1"/><stop offset="0.992" stop-color="#b4f5d2"/><stop offset="1" stop-color="#f7fba7"/></linearGradient><linearGradient id="g1_20" gradientUnits="userSpaceOnUse" x1="62.1" x2="137.4" y1="0" y2="0"><stop offset="0" stop-color="#88cdfb"/><stop offset="0.018" stop-color="#73c6fb"/><stop offset="0.0479" stop-color="#6cb0fc"/><stop offset="0.0539" stop-color="#6babf8"/><stop offset="0.0598" stop-color="#432b5c"/><stop offset="0.836" stop-color="#432b5c"/><stop offset="0.843" stop-color="#9ce8c0"/><stop offset="0.94" stop-color="#c4fadd"/><stop offset="0.97" stop-color="#d6fcea"/><stop offset="0.978" stop-color="#daf8f4"/><stop offset="0.985" stop-color="#eda1d6"/><stop offset="0.993" stop-color="#b95ac7"/><stop offset="1" stop-color="#ffa563"/></linearGradient><linearGradient id="g1_19" gradientUnits="userSpaceOnUse" x1="60.8" x2="136.9" y1="0" y2="0"><stop offset="0" stop-color="#8acdfb"/><stop offset="0.0178" stop-color="#74c6fb"/><stop offset="0.0532" stop-color="#6babf9"/><stop offset="0.059" stop-color="#432b5c"/><stop offset="0.773" stop-color="#432b5c"/><stop offset="0.78" stop-color="#9ce9c2"/><stop offset="0.824" stop-color="#b5f5d4"/><stop offset="0.854" stop-color="#cdfce2"/><stop offset="0.861" stop-color="#d2fce9"/><stop offset="0.868" stop-color="#e6c8f7"/><stop offset="0.876" stop-color="#bb5ac4"/><stop offset="0.883" stop-color="#c060c7"/><stop offset="0.993" stop-color="#c36acf"/><stop offset="1" stop-color="#ff959e"/></linearGradient><linearGradient id="g1_18" gradientUnits="userSpaceOnUse" x1="59.4" x2="136.4" y1="0" y2="0"><stop offset="0" stop-color="#8ccdfb"/><stop offset="0.0234" stop-color="#72c3fb"/><stop offset="0.0525" stop-color="#6baafb"/><stop offset="0.0582" stop-color="#432b5c"/><stop offset="0.704" stop-color="#432b5c"/><stop offset="0.711" stop-color="#99e8c6"/><stop offset="0.747" stop-color="#b8f7dd"/><stop offset="0.755" stop-color="#c5fae3"/><stop offset="0.762" stop-color="#d7faf0"/><stop offset="0.769" stop-color="#b661d2"/><stop offset="0.776" stop-color="#b751be"/><stop offset="0.993" stop-color="#c067cf"/><stop offset="1" stop-color="#eb82b8"/></linearGradient><linearGradient id="g1_17" gradientUnits="userSpaceOnUse" x1="58.0" x2="135.9" y1="0" y2="0"><stop offset="0" stop-color="#8ecdfb"/><stop offset="0.0231" stop-color="#72c4fb"/><stop offset="0.0518" stop-color="#6babfc"/><stop offset="0.0575" stop-color="#69a4f7"/><stop offset="0.0631" stop-color="#432b5c"/><stop offset="0.63" stop-color="#432b5c"/><stop offset="0.637" stop-color="#90e4c9"/><stop offset="0.651" stop-color="#a0edd6"/><stop offset="0.665" stop-color="#b8f6e7"/><stop offset="0.672" stop-color="#d3a8f7"/><stop offset="0.679" stop-color="#a93ab2"/><stop offset="0.694" stop-color="#ae45ba"/><stop offset="0.701" stop-color="#b148ba"/><stop offset="0.993" stop-color="#bc63cf"/><stop offset="1" stop-color="#d875c2"/></linearGradient><linearGradient id="g1_16" gradientUnits="userSpaceOnUse" x1="57.1" x2="135.5" y1="0" y2="0"><stop offset="0" stop-color="#8bccfb"/><stop offset="0.0172" stop-color="#74c4fb"/><stop offset="0.0513" stop-color="#69a5f9"/><stop offset="0.0569" stop-color="#432b5c"/><stop offset="0.562" stop-color="#432b5c"/><stop offset="0.569" stop-color="#8ae2d9"/><stop offset="0.576" stop-color="#99eade"/><stop offset="0.583" stop-color="#c3effa"/><stop offset="0.59" stop-color="#a734ad"/><stop offset="0.597" stop-color="#ab3cb2"/><stop offset="0.604" stop-color="#a539b6"/><stop offset="0.611" stop-color="#a53ab7"/><stop offset="0.766" stop-color="#af49be"/><stop offset="0.993" stop-color="#b960cf"/><stop offset="1" stop-color="#cb6cc7"/></linearGradient><linearGradient id="g1_15" gradientUnits="userSpaceOnUse" x1="55.7" x2="135.0" y1="0" y2="0"><stop offset="0" stop-color="#8dcdfb"/><stop offset="0.0227" stop-color="#72c2fb"/><stop offset="0.0507" stop-color="#69a6fc"/><stop offset="0.0562" stop-color="#432b5c"/><stop offset="0.491" stop-color="#432b5c"/><stop offset="0.498" stop-color="#78d7e9"/><stop offset="0.505" stop-color="#a3defa"/><stop offset="0.512" stop-color="#9930aa"/><stop offset="0.519" stop-color="#9930b4"/><stop offset="0.532" stop-color="#a133b3"/><stop offset="0.539" stop-color="#9e31b4"/><stop offset="0.769" stop-color="#ab45bd"/><stop offset="0.993" stop-color="#b55cce"/><stop offset="1" stop-color="#c264ca"/></linearGradient><linearGradient id="g1_14" gradientUnits="userSpaceOnUse" x1="54.3" x2="134.5" y1="0" y2="0"><stop offset="0" stop-color="#90cdfb"/><stop offset="0.0224" stop-color="#73c3fb"/><stop offset="0.0391" stop-color="#6eb4fb"/><stop offset="0.0556" stop-color="#68a1fa"/><stop offset="0.0611" stop-color="#432b5c"/><stop offset="0.423" stop-color="#432b5c"/><stop offset="0.43" stop-color="#72c3fb"/><stop offset="0.436" stop-color="#aa3fb6"/><stop offset="0.443" stop-color="#9130b0"/><stop offset="0.45" stop-color="#9230b3"/><stop offset="0.559" stop-color="#9e30b3"/><stop offset="0.758" stop-color="#a740bc"/><stop offset="0.993" stop-color="#b158ce"/><stop offset="1" stop-color="#ba5ecc"/></linearGradient><linearGradient id="g1_13" gradientUnits="userSpaceOnUse" x1="53.4" x2="134.0" y1="0" y2="0"><stop offset="0" stop-color="#8eccfb"/><stop offset="0.0222" stop-color="#71c1fb"/><stop offset="0.0497" stop-color="#68a3fc"/><stop offset="0.0551" stop-color="#669bf8"/><stop offset="0.0605" stop-color="#432b5c"/><stop offset="0.362" stop-color="#432b5c"/><stop offset="0.368" stop-color="#7430bb"/><stop offset="0.375" stop-color="#8730b3"/><stop offset="0.381" stop-color="#8c30b2"/><stop offset="0.388" stop-color="#8930b3"/><stop offset="0.488" stop-color="#9630b1"/><stop offset="0.602" stop-color="#9e30b3"/><stop offset="0.773" stop-color="#a43ebc"/><stop offset="0.993" stop-color="#ad54ce"/><stop offset="1" stop-color="#b358cc"/></linearGradient><linearGradient id="g1_12" gradientUnits="userSpaceOnUse" x1="52.5" x2="133.6" y1="0" y2="0"><stop offset="0" stop-color="#8dcbfb"/><stop offset="0.0221" stop-color="#71bffb"/><stop offset="0.0493" stop-color="#679efc"/><stop offset="0.0547" stop-color="#432b5c"/><stop offset="0.297" stop-color="#432b5c"/><stop offset="0.303" stop-color="#5460fe"/><stop offset="0.309" stop-color="#6d30b5"/><stop offset="0.328" stop-color="#7e30b5"/><stop offset="0.334" stop-color="#7d30b5"/><stop offset="0.386" stop-color="#8830b2"/><stop offset="0.491" stop-color="#9430b0"/><stop offset="0.646" stop-color="#9d30b4"/><stop offset="0.849" stop-color="#a341c1"/><stop offset="0.993" stop-color="#a951cd"/><stop offset="1" stop-color="#ad53cd"/></linearGradient><linearGradient id="g1_11" gradientUnits="userSpaceOnUse" x1="51.6" x2="133.1" y1="0" y2="0"><stop offset="0" stop-color="#8bcbfb"/><stop offset="0.0165" stop-color="#73c1fb"/><stop offset="0.0328" stop-color="#6cb1fc"/><stop offset="0.0489" stop-color="#669afc"/><stop offset="0.0542" stop-color="#432b5c"/><stop offset="0.242" stop-color="#432b5c"/><stop offset="0.248" stop-color="#4b3ff8"/><stop offset="0.254" stop-color="#6f30ba"/><stop offset="0.26" stop-color="#6b30bb"/><stop offset="0.278" stop-color="#6c30ba"/><stop offset="0.296" stop-color="#7530b7"/><stop offset="0.359" stop-color="#8230b2"/><stop offset="0.495" stop-color="#9230af"/><stop offset="0.681" stop-color="#9c30b5"/><stop offset="1" stop-color="#a84fcd"/></linearGradient><linearGradient id="g1_10" gradientUnits="userSpaceOnUse" x1="50.2" x2="132.6" y1="0" y2="0"><stop offset="0" stop-color="#90ccfb"/><stop offset="0.0109" stop-color="#84c7fb"/><stop offset="0.0217" stop-color="#71c0fb"/><stop offset="0.0378" stop-color="#6caefc"/><stop offset="0.0537" stop-color="#6596fc"/><stop offset="0.0589" stop-color="#432b5c"/><stop offset="0.201" stop-color="#432b5c"/><stop offset="0.206" stop-color="#4b30df"/><stop offset="0.212" stop-color="#5730c2"/><stop offset="0.306" stop-color="#7730b5"/><stop offset="0.418" stop-color="#8930af"/><stop offset="0.554" stop-color="#9430af"/><stop offset="0.718" stop-color="#9b30b6"/><stop offset="1" stop-color="#a34bcd"/></linearGradient><linearGradient id="g1_9" gradientUnits="userSpaceOnUse" x1="49.2" x2="132.1" y1="0" y2="0"><stop offset="0" stop-color="#90ccfb"/><stop offset="0.0216" stop-color="#71bffb"/><stop offset="0.0376" stop-color="#6bacfc"/><stop offset="0.0585" stop-color="#618bfa"/><stop offset="0.0637" stop-color="#432b5c"/><stop offset="0.158" stop-color="#432b5c"/><stop offset="0.164" stop-color="#4b30ed"/><stop offset="0.169" stop-color="#4b30ce"/><stop offset="0.185" stop-color="#4b30cb"/><stop offset="0.224" stop-color="#5e30c1"/><stop offset="0.276" stop-color="#7030b7"/><stop offset="0.379" stop-color="#8430af"/><stop offset="0.551" stop-color="#9230ae"/><stop offset="0.753" stop-color="#9930b8"/><stop offset="1" stop-color="#9f48cd"/></linearGradient><linearGradient id="g1_8" gradientUnits="userSpaceOnUse" x1="48.3" x2="131.6" y1="0" y2="0"><stop offset="0" stop-color="#90cbfb"/><stop offset="0.0215" stop-color="#71befb"/><stop offset="0.0374" stop-color="#6babfc"/><stop offset="0.0582" stop-color="#6189fd"/><stop offset="0.0633" stop-color="#432b5c"/><stop offset="0.123" stop-color="#432b5c"/><stop offset="0.128" stop-color="#4b30f1"/><stop offset="0.133" stop-color="#4b30de"/><stop offset="0.175" stop-color="#4b30ce"/><stop offset="0.208" stop-color="#5b30c4"/><stop offset="0.282" stop-color="#7330b6"/><stop offset="0.378" stop-color="#8330ae"/><stop offset="0.561" stop-color="#9130ae"/><stop offset="0.781" stop-color="#9730ba"/><stop offset="1" stop-color="#9b45ce"/></linearGradient><linearGradient id="g1_7" gradientUnits="userSpaceOnUse" x1="47.8" x2="131.2" y1="0" y2="0"><stop offset="0" stop-color="#8cc9fb"/><stop offset="0.0214" stop-color="#6fb8fb"/><stop offset="0.0372" stop-color="#68a3fc"/><stop offset="0.063" stop-color="#5b77fc"/><stop offset="0.0681" stop-color="#432b5c"/><stop offset="0.0881" stop-color="#432b5c"/><stop offset="0.0932" stop-color="#4b30f3"/><stop offset="0.0983" stop-color="#4b30f5"/><stop offset="0.161" stop-color="#4b30d3"/><stop offset="0.21" stop-color="#6130c2"/><stop offset="0.278" stop-color="#7530b5"/><stop offset="0.368" stop-color="#8230ae"/><stop offset="0.555" stop-color="#8f30ae"/><stop offset="0.794" stop-color="#9530bc"/><stop offset="1" stop-color="#9843cf"/></linearGradient><linearGradient id="g1_6" gradientUnits="userSpaceOnUse" x1="46.9" x2="130.7" y1="0" y2="0"><stop offset="0" stop-color="#8ec9fb"/><stop offset="0.0213" stop-color="#6fb9fb"/><stop offset="0.0371" stop-color="#69a4fc"/><stop offset="0.0577" stop-color="#5d7ffd"/><stop offset="0.0628" stop-color="#5769fe"/><stop offset="0.068" stop-color="#525afe"/><stop offset="0.0937" stop-color="#4b38ff"/><stop offset="0.104" stop-color="#4b30f8"/><stop offset="0.146" stop-color="#4b30dd"/><stop offset="0.21" stop-color="#6630c3"/><stop offset="0.278" stop-color="#7730b5"/><stop offset="0.361" stop-color="#8230af"/><stop offset="0.552" stop-color="#8d30af"/><stop offset="0.802" stop-color="#9330be"/><stop offset="1" stop-color="#9643d1"/></linearGradient><linearGradient id="g1_5" gradientUnits="userSpaceOnUse" x1="46.4" x2="130.2" y1="0" y2="0"><stop offset="0" stop-color="#8bc7fb"/><stop offset="0.0213" stop-color="#6eb4fb"/><stop offset="0.0318" stop-color="#69a4fc"/><stop offset="0.0528" stop-color="#5d7dfd"/><stop offset="0.0789" stop-color="#5155fe"/><stop offset="0.0997" stop-color="#4b3cfe"/><stop offset="0.115" stop-color="#4b30f2"/><stop offset="0.126" stop-color="#4c30eb"/><stop offset="0.163" stop-color="#5c30d5"/><stop offset="0.218" stop-color="#6d30c1"/><stop offset="0.286" stop-color="#7a30b5"/><stop offset="0.369" stop-color="#8330af"/><stop offset="0.56" stop-color="#8c30b1"/><stop offset="0.796" stop-color="#9130c0"/><stop offset="1" stop-color="#9444d4"/></linearGradient><linearGradient id="g1_4" gradientUnits="userSpaceOnUse" x1="45.4" x2="129.7" y1="0" y2="0"><stop offset="0" stop-color="#8fc9fb"/><stop offset="0.0106" stop-color="#8ac0fb"/><stop offset="0.0371" stop-color="#73a5fc"/><stop offset="0.0582" stop-color="#6188fd"/><stop offset="0.0897" stop-color="#525afe"/><stop offset="0.111" stop-color="#5041fd"/><stop offset="0.137" stop-color="#5930e9"/><stop offset="0.18" stop-color="#6830d2"/><stop offset="0.235" stop-color="#7430c0"/><stop offset="0.304" stop-color="#7e30b6"/><stop offset="0.392" stop-color="#8530b1"/><stop offset="0.563" stop-color="#8c30b4"/><stop offset="0.771" stop-color="#9030c2"/><stop offset="1" stop-color="#9448d8"/></linearGradient><linearGradient id="g1_3" gradientUnits="userSpaceOnUse" x1="44.9" x2="129.3" y1="0" y2="0"><stop offset="0" stop-color="#94c8fb"/><stop offset="0.0213" stop-color="#87bbfb"/><stop offset="0.0373" stop-color="#7dadfc"/><stop offset="0.0638" stop-color="#6c8cfd"/><stop offset="0.085" stop-color="#646ffe"/><stop offset="0.112" stop-color="#604fff"/><stop offset="0.133" stop-color="#623df1"/><stop offset="0.16" stop-color="#6930e0"/><stop offset="0.204" stop-color="#7330cd"/><stop offset="0.26" stop-color="#7c30bf"/><stop offset="0.329" stop-color="#8230b8"/><stop offset="0.418" stop-color="#8730b5"/><stop offset="0.558" stop-color="#8b30b9"/><stop offset="0.72" stop-color="#8e30c4"/><stop offset="1" stop-color="#954fdf"/></linearGradient><linearGradient id="g1_2" gradientUnits="userSpaceOnUse" x1="44.9" x2="128.8" y1="0" y2="0"><stop offset="0" stop-color="#94c8fb"/><stop offset="0.0215" stop-color="#8bbcfb"/><stop offset="0.043" stop-color="#81aafc"/><stop offset="0.0806" stop-color="#747ffd"/><stop offset="0.118" stop-color="#6f56fe"/><stop offset="0.151" stop-color="#703fea"/><stop offset="0.195" stop-color="#7830d6"/><stop offset="0.241" stop-color="#7e30c9"/><stop offset="0.298" stop-color="#8230c1"/><stop offset="0.458" stop-color="#8930bd"/><stop offset="0.631" stop-color="#8d31c5"/><stop offset="0.803" stop-color="#8f41d5"/><stop offset="1" stop-color="#975be9"/></linearGradient><linearGradient id="g1_1" gradientUnits="userSpaceOnUse" x1="44.9" x2="128.4" y1="0" y2="0"><stop offset="0" stop-color="#96c8fb"/><stop offset="0.0217" stop-color="#8fbefb"/><stop offset="0.0434" stop-color="#89affc"/><stop offset="0.125" stop-color="#7d62fe"/><stop offset="0.153" stop-color="#7d50f1"/><stop offset="0.198" stop-color="#7e3ddf"/><stop offset="0.267" stop-color="#8332cf"/><stop offset="0.396" stop-color="#8930c7"/><stop offset="0.579" stop-color="#8c39cf"/><stop offset="0.744" stop-color="#9049dc"/><stop offset="1" stop-color="#9a6cf5"/></linearGradient><linearGradient id="g1_0" gradientUnits="userSpaceOnUse" x1="44.8" x2="128.0" y1="0" y2="0"><stop offset="0" stop-color="#98c9fb"/><stop offset="0.0438" stop-color="#91b6fb"/><stop offset="0.149" stop-color="#8a6bfe"/><stop offset="0.172" stop-color="#895ff6"/><stop offset="0.229" stop-color="#884de6"/><stop offset="0.305" stop-color="#8943dc"/><stop offset="0.412" stop-color="#8b42d9"/><stop offset="0.553" stop-color="#8f4bdf"/><stop offset="0.906" stop-color="#9c77fd"/><stop offset="1" stop-color="#9f84fd"/></linearGradient></defs>
<g><path d="M147,124.9 149.6,125.7 150.4,124.5 147.9,123.6Z" fill="url(#g1_50)"/>
<path d="M138.7,123.2 149,126.4 149.8,125.4 139.6,122Z" fill="url(#g1_49)"/>
<path d="M131.4,121.9 148.4,127.1 149.2,126.2 138.4,122.8 132.3,120.7Z" fill="url(#g1_48)"/>
<path d="M125.2,121 137.9,124.7 147.7,127.8 148.6,126.9 131.7,121.7 126.2,119.8Z" fill="url(#g1_47)"/>
<path d="M120.1,120.4 135.7,124.8 147.1,128.3 147.9,127.6 126,120.9 121,119.2Z" fill="url(#g1_46)"/>
<path d="M114.9,119.8 133.5,124.8 146.5,128.7 147.3,128.1 135.9,124.6 120.3,120.1 115.9,118.6Z" fill="url(#g1_45)"/>
<path d="M110.3,119.4 131.3,124.8 138.5,126.8 145.9,129.1 146.7,128.6 133.7,124.7 115.7,119.7 111.3,118.2Z" fill="url(#g1_44)"/>
<path d="M106.1,119.1 122.9,123 129,124.6 136.8,126.7 145.3,129.3 146.1,129 139.3,126.9 132,124.8 111,119.3 107.2,117.9Z" fill="url(#g1_43)"/>
<path d="M102,118.9 107.3,120.1 120.7,122.8 127.3,124.4 135.7,126.6 144.7,129.3 145.5,129.2 138.6,127.1 131.9,125.2 124.2,123.2 107.4,119.1 103.1,117.7Z" fill="url(#g1_42)"/>
<path d="M98.3,118.8 104.1,120 118.5,122.5 125.1,123.9 129.8,125 134.5,126.3 144.1,129.3 144.9,129.3 137,126.9 129.6,124.9 121.5,122.9 104.7,119.3 102.8,118.8 99.4,117.6Z" fill="url(#g1_41)"/>
<path d="M94.7,118.7 100.9,119.9 116.2,122 123.4,123.4 128.1,124.4 132.8,125.7 138.2,127.3 143.5,129 144.3,129.3 135.8,126.7 127.4,124.4 119.2,122.6 102,119.3 99.1,118.7 95.8,117.5Z" fill="url(#g1_40)"/>
<path d="M91,118.6 93.9,119.2 96.7,119.6 112.4,121.2 117,121.8 121.2,122.5 126.4,123.7 131.7,125.1 137,126.7 143,128.7 143.8,129.1 134.1,126.1 129.4,124.8 125.2,123.8 121.1,123 116.5,122.1 103.1,120.1 98.8,119.3 95.5,118.6 92.1,117.5Z" fill="url(#g1_39)"/>
<path d="M89.2,118.6 92,119.2 95.4,119.6 111.1,120.8 115.6,121.4 120.3,122.1 125.5,123.2 130.8,124.6 136.7,126.4 142.7,128.5 143.1,128.8 137.7,126.9 132.3,125.3 127,123.9 122.3,122.8 117.7,122 113.1,121.3 100.2,120 96.4,119.5 91.7,118.6 89.8,118Z" fill="url(#g1_38)"/>
<path d="M87.4,118.6 90.2,119.1 93.5,119.6 97.3,119.8 105.7,120.2 110.2,120.4 114.8,120.9 119.4,121.6 124.7,122.7 130.5,124.2 136.4,126.1 142.4,128.2 142.8,128.5 136.8,126.5 131.5,124.9 126.2,123.5 120.9,122.3 116.3,121.5 111.7,121 98.9,119.9 95,119.5 90.3,118.7 89.4,118.5 88,118Z" fill="url(#g1_37)"/>
<path d="M86,118.7 88.8,119.2 92.1,119.5 96,119.7 104.3,119.8 108.8,120 113.4,120.4 118,121 123.3,122 129.1,123.5 135.6,125.5 142.1,127.9 142.5,128.3 136.5,126.2 130.6,124.4 125.3,123 120.1,121.9 115.4,121.1 110.8,120.6 106.3,120.3 97.5,119.8 93.7,119.5 89.4,118.9 87.5,118.5 86.6,118.1Z" fill="url(#g1_36)"/>
<path d="M84.2,118.7 87.5,119.2 90.8,119.5 94.1,119.6 102.9,119.4 107.4,119.5 112.5,119.8 117.1,120.4 122.9,121.5 128.8,123.1 135.3,125.2 141.8,127.6 142.2,128 135.7,125.7 129.8,123.8 123.9,122.3 118.7,121.2 114,120.6 109.4,120.2 104.9,119.9 96.1,119.8 92.3,119.5 89.9,119.3 87.6,118.9 86.2,118.6 84.8,118.1Z" fill="url(#g1_35)"/>
<path d="M82.4,118.7 85.7,119.2 89.4,119.5 92.7,119.5 102,119 106.5,119 111.6,119.2 116.3,119.7 122,120.8 127.9,122.4 134.4,124.5 141.5,127.3 141.9,127.7 135.4,125.3 128.9,123.2 123,121.7 117.8,120.7 113.1,120 108,119.7 103.5,119.6 94.7,119.6 90.5,119.5 88.1,119.2 85.8,118.9 84.4,118.6 83,118.1Z" fill="url(#g1_34)"/>
<path d="M81,118.7 84.3,119.3 88,119.5 91.3,119.4 100.6,118.6 105.1,118.4 110.2,118.5 114.8,119 117.5,119.4 120.6,120 123.8,120.8 127.1,121.7 133.6,123.9 141.3,126.9 141.6,127.4 134.5,124.7 128.6,122.7 122.7,121.2 116.9,120 112.2,119.4 107.1,119.2 102.6,119.2 92.9,119.5 89.1,119.5 86.7,119.3 84.9,119 83,118.7 81.6,118.2Z" fill="url(#g1_33)"/>
<path d="M79.2,118.7 82.5,119.3 86.2,119.5 89.9,119.2 99.2,118.1 103.7,117.8 108.8,117.8 113.9,118.2 116.6,118.6 119.8,119.2 123,120 126.2,120.9 129.4,122 133.3,123.4 141,126.6 141.4,127.1 133.7,124 127.2,121.9 121.3,120.3 115.5,119.3 110.8,118.8 105.7,118.6 101.2,118.7 91.5,119.4 87.7,119.5 85.4,119.3 83,119 81.2,118.6 79.8,118.2Z" fill="url(#g1_32)"/>
<path d="M77.9,118.8 81.1,119.4 82.9,119.5 84.8,119.5 88.6,119.1 97.7,117.6 102.2,117.1 107.3,117 109.9,117.1 112.5,117.3 115.7,117.7 118.9,118.4 122.1,119.2 125.3,120.1 128.6,121.2 132.4,122.7 140.7,126.2 141.1,126.7 133.4,123.6 126.9,121.3 123.6,120.4 120.4,119.6 117.2,118.9 114.6,118.5 109.4,118 104.3,118 99.8,118.3 90.1,119.3 86.3,119.5 84,119.4 82.1,119.2 79.8,118.7 78.4,118.3Z" fill="url(#g1_31)"/>
<path d="M76,118.8 77.9,119.2 79.7,119.4 81.6,119.5 83.4,119.4 87.2,119 96.3,117.1 100.8,116.4 103.8,116.2 106.4,116.1 109,116.2 111.6,116.4 114.8,116.9 118,117.5 121.2,118.3 124.4,119.3 128.3,120.6 132.1,122.1 140.4,125.8 140.8,126.3 133.1,123.1 129.2,121.6 126,120.5 122.7,119.6 119.5,118.8 116.3,118.1 113.2,117.6 110.6,117.4 108,117.2 102.9,117.3 98.4,117.8 88.7,119.2 85,119.5 82.6,119.4 80.3,119.2 78,118.7 76.6,118.2Z" fill="url(#g1_30)"/>
<path d="M74.7,118.9 76.5,119.3 78.3,119.5 80.2,119.5 82,119.4 85.8,118.8 94.9,116.6 99.4,115.7 102.4,115.4 105,115.2 107.6,115.3 110.2,115.4 113.4,115.8 116.6,116.4 119.8,117.2 123.6,118.4 127.4,119.8 131.2,121.3 135.6,123.3 140.1,125.4 140.5,125.9 132.2,122.3 128.4,120.8 125.1,119.7 121.9,118.7 118.6,117.9 115.4,117.2 112.3,116.8 109.7,116.5 107.1,116.4 104.5,116.5 101.4,116.7 97,117.3 87.3,119.1 83.6,119.5 81.3,119.5 78.9,119.3 76.6,118.8 75.3,118.4Z" fill="url(#g1_29)"/>
<path d="M73.3,119.1 75.1,119.4 77,119.6 78.8,119.6 80.6,119.4 84.4,118.7 93.4,116 98.4,114.9 101.5,114.5 104,114.3 106.6,114.3 109.3,114.4 112.4,114.8 115.6,115.4 118.9,116.3 122.7,117.5 126.5,118.9 130.4,120.5 134.8,122.6 139.8,125 140.2,125.6 131.9,121.8 128,120.2 124.2,118.8 120.4,117.7 117.2,116.8 114,116.2 110.8,115.8 108.2,115.6 105.6,115.5 103.1,115.7 100,116 95.5,116.7 85.9,118.9 82.2,119.5 79.9,119.5 78,119.4 75.7,119 73.9,118.5Z" fill="url(#g1_28)"/>
<path d="M71.5,119.1 73.3,119.4 75.1,119.6 77,119.7 78.8,119.5 80.6,119.1 83,118.5 92,115.4 94.5,114.7 97,114.1 100,113.5 102.6,113.3 105.2,113.2 108.3,113.4 111.5,113.8 114.7,114.4 118,115.3 121.8,116.5 125.6,118 130,119.9 134.5,122.1 139.5,124.7 139.9,125.2 135.4,123 131,121 127.2,119.4 123.3,117.9 119.5,116.7 116.3,115.9 113.1,115.2 109.9,114.8 107.3,114.6 104.7,114.6 102.1,114.8 99.1,115.1 94.1,116.2 84.5,118.8 82.2,119.3 80.3,119.5 78,119.6 76.2,119.5 73.9,119 72.1,118.5Z" fill="url(#g1_27)"/>
<path d="M70.1,119.2 71.9,119.6 73.8,119.7 75.6,119.7 77.4,119.5 79.2,119.1 81.5,118.4 90.6,114.8 93,113.9 95.5,113.2 98.5,112.6 101.1,112.3 103.7,112.1 106.9,112.2 110.1,112.6 113.8,113.3 117.1,114.2 120.9,115.5 124.7,117.1 129.2,119.1 133.6,121.3 139.2,124.3 139.6,124.8 134.6,122.3 130.1,120.1 125.7,118.3 121.9,116.8 118.1,115.6 114.9,114.7 111.7,114.1 108.5,113.7 105.8,113.6 103.2,113.6 100.7,113.8 97.6,114.3 95.1,114.9 92.7,115.6 83.1,118.7 80.8,119.2 79,119.5 76.7,119.6 74.8,119.5 72.6,119.2 70.7,118.6Z" fill="url(#g1_26)"/>
<path d="M68.8,119.3 70.6,119.7 72.4,119.8 74.2,119.8 76,119.5 77.8,119 79.7,118.4 89.6,113.9 92,113 94.5,112.2 97.6,111.5 100.2,111.1 102.8,111 105.9,111.1 109.1,111.4 112.9,112.2 116.2,113.2 120,114.5 123.8,116.2 128.3,118.3 133.3,120.9 138.9,124 139.3,124.5 134.3,121.8 129.8,119.6 125.4,117.6 121.6,116 117.7,114.7 114.5,113.8 110.7,113 107.5,112.6 104.4,112.5 101.8,112.6 99.2,112.9 96.2,113.5 93.7,114.1 91.2,114.9 81.7,118.5 79.4,119.2 77.6,119.5 75.3,119.7 73.5,119.6 71.2,119.3 69.4,118.7Z" fill="url(#g1_25)"/>
<path d="M67.4,119.4 69.2,119.8 71,119.9 72.8,119.9 74.6,119.5 76.4,119 78.3,118.3 80.6,117.2 88.1,113.3 90.6,112.2 93.1,111.3 96.1,110.5 98.7,110 101.3,109.8 104.4,109.8 107.6,110.2 111.4,111 115.2,112.1 119.1,113.5 123.5,115.5 127.9,117.7 132.9,120.5 138.6,123.8 139,124.1 133.4,121 128.4,118.5 124,116.4 120.1,114.8 116.3,113.5 113,112.6 109.3,111.8 106.1,111.5 102.9,111.4 100.3,111.5 97.7,111.9 94.7,112.6 92.2,113.4 89.8,114.3 80.3,118.4 78.5,119 76.6,119.5 74.4,119.8 72.6,119.8 70.3,119.5 68,118.9Z" fill="url(#g1_24)"/>
<path d="M66,119.5 68.3,120 70.1,120 71.9,119.9 73.7,119.4 75.5,118.8 77.3,117.9 86.7,112.6 89.1,111.4 91.6,110.3 94.6,109.4 97.2,108.9 99.8,108.6 103,108.6 106.2,108.9 109.9,109.6 113.8,110.8 117.6,112.3 122,114.3 126.5,116.6 132.1,119.8 138.2,123.6 138.7,123.8 133.1,120.6 128,117.9 123.6,115.7 119.7,114 115.9,112.6 112.1,111.4 108.3,110.6 105.1,110.3 102,110.2 99.4,110.4 96.8,110.8 93.7,111.6 91.2,112.4 88.8,113.4 78.9,118.2 77.1,118.9 75.3,119.5 73,119.9 71.2,119.9 68.9,119.6 66.6,119Z" fill="url(#g1_23)"/>
<path d="M64.6,119.7 66.9,120.1 68.7,120.2 70.5,120 72.3,119.5 74.1,118.7 75.9,117.8 85.2,111.9 87.6,110.5 90.1,109.4 93.1,108.3 96.2,107.6 98.8,107.3 102,107.3 105.2,107.6 109,108.5 112.8,109.7 117.2,111.5 121.7,113.7 126.1,116.1 131.7,119.5 137.9,123.5 138.3,123.6 132.2,119.9 127.1,117.1 122.7,114.8 118.3,112.8 114.4,111.3 110.6,110.1 106.8,109.4 103.6,109 100.5,109 97.9,109.2 95.3,109.7 92.2,110.6 89.8,111.6 87.3,112.7 77.5,118.1 75.7,118.9 73.9,119.5 71.6,119.9 69.8,120 67.5,119.7 65.3,119.1Z" fill="url(#g1_22)"/>
<path d="M63.3,119.8 65.5,120.2 67.3,120.3 69.1,120.1 70.9,119.5 72.7,118.7 74.5,117.7 83.7,111.1 86.1,109.7 88.6,108.4 91.6,107.2 94.7,106.4 97.3,106 100.5,106 103.7,106.3 107.5,107.1 111.3,108.4 115.7,110.3 120.2,112.5 125.2,115.4 130.8,119 137.5,123.5 138,123.5 131.8,119.6 126.2,116.3 121.8,113.9 117.4,111.8 113.5,110.2 109.7,109 105.9,108.1 102.7,107.7 99.5,107.7 96.9,108 93.8,108.6 90.8,109.6 88.3,110.7 85.8,112 78.3,116.7 76.1,118 74.3,118.9 72.5,119.6 70.2,120 68.4,120.1 66.2,119.9 63.9,119.2Z" fill="url(#g1_21)"/>
<path d="M61.9,119.9 64.2,120.4 65.9,120.4 67.7,120.2 69.5,119.6 71.3,118.7 73,117.6 75.3,115.9 82.2,110.4 85.1,108.5 87.6,107.1 90.6,105.9 93.2,105.2 96.3,104.7 99.5,104.7 101.1,104.8 103.2,105.2 105.4,105.7 107.6,106.3 112,108 116.4,110.2 122.6,113.8 129.9,118.7 131.5,119.9 137.1,124.7 137.7,123.5 131.5,119.4 125.9,115.9 120.9,113 116.4,110.8 112,108.9 108.2,107.6 104.4,106.8 101.2,106.4 98,106.4 95.4,106.8 92.3,107.5 89.3,108.7 86.8,109.9 84.4,111.3 76.9,116.5 74.6,117.9 72.9,118.9 71.1,119.6 68.8,120.2 67.1,120.3 64.8,120 62.5,119.4Z" fill="url(#g1_20)"/>
<path d="M60.5,120.1 62.8,120.5 64.6,120.6 66.3,120.3 68.1,119.7 69.9,118.7 71.6,117.5 73.8,115.7 80.7,109.8 83.6,107.6 86,106.2 89.1,104.8 92.1,103.8 93.7,103.5 95.3,103.4 98.5,103.4 100.6,103.7 102.8,104.1 105,104.7 107.2,105.5 111.6,107.4 116.6,110.2 120,112.3 122.7,114.2 129.4,120.2 136.6,126.3 137.3,124.1 134.5,121.7 127.7,117.1 121.6,113.2 116,110.1 111.6,108.1 107.8,106.6 103.9,105.6 101.8,105.3 100.2,105.1 97,105.1 93.8,105.5 91.3,106.2 88.2,107.4 85.8,108.7 82.9,110.6 75.5,116.2 73.2,117.8 71.4,118.9 69.7,119.7 67.5,120.3 65.7,120.4 63.4,120.1 61.2,119.5Z" fill="url(#g1_19)"/>
<path d="M59.2,120.2 61.4,120.7 62.7,120.8 63.6,120.7 65.4,120.3 66.3,120 67.6,119.3 69.3,118.2 71.1,116.8 77.8,110.4 80.6,107.9 83.5,105.8 86.5,104.1 89,103.1 91.6,102.4 94.3,102.1 95.9,102.1 97.5,102.2 99.1,102.4 101.3,102.9 102.9,103.3 105.1,104.1 107.3,105.1 109.5,106.1 111.7,107.4 114,108.7 114.5,109.1 120.6,114.7 126.7,120.1 131.2,123.9 136.2,128 136.8,125.8 130.7,120.5 125.7,116.1 121.8,113.4 117.3,110.6 112.3,107.9 109.5,106.6 107.3,105.8 105.1,105 103,104.5 100.8,104 99.2,103.9 96,103.8 92.8,104.2 89.7,105.1 86.7,106.4 84.3,107.9 81.4,109.9 74,116 71.8,117.8 70,118.9 68.3,119.8 67,120.2 66.1,120.4 64.3,120.5 62.1,120.3 59.8,119.6Z" fill="url(#g1_18)"/>
<path d="M57.8,120.3 60,120.8 61.4,120.9 62.3,120.9 64,120.5 64.9,120.2 66.2,119.5 67.9,118.2 69.6,116.7 76.3,109.9 79.1,107.2 82,104.9 85,103.1 87.5,102 90.1,101.3 92.7,100.9 94.3,100.9 95.9,101 98.6,101.5 101.3,102.3 104.6,103.7 106.9,104.9 116.8,113.9 123.5,119.7 129.6,124.8 135.7,129.7 136.3,127.4 128.5,120.9 123,116 117.4,110.9 116.3,110.1 113.6,108.4 111.3,107.1 106.9,105 104.7,104.2 102.5,103.5 100.3,103 98.2,102.6 95,102.5 93.4,102.7 91.8,102.9 90.3,103.3 88.7,103.8 85.7,105.2 83.2,106.7 80.3,108.8 78,110.9 72.6,115.9 70.4,117.7 68.6,119 66.9,119.9 65.1,120.5 64.2,120.6 62.9,120.7 60.7,120.4 58.4,119.8Z" fill="url(#g1_17)"/>
<path d="M56.9,120.6 59.1,121.1 60.4,121.1 61.3,121 63.1,120.5 63.9,120.1 65.2,119.3 66.9,118 68.6,116.3 74.8,109.4 77.6,106.6 80.5,104.1 81.9,103.1 83.4,102.2 85.9,101 88.5,100.3 91.1,99.9 92.7,99.9 94.4,100.1 96,100.4 97.6,100.8 99.2,101.5 99.8,101.9 105.3,106.5 122.4,121.2 129.1,126.7 135.2,131.4 135.9,129.1 130.3,124.6 124.2,119.4 109.2,106.1 105.9,104.3 102.6,102.9 99.3,101.9 96.6,101.5 95,101.3 93.4,101.3 91.8,101.5 90.3,101.7 88.7,102.2 87.2,102.7 85.7,103.4 84.2,104.2 81.7,105.8 78.8,108.2 76.5,110.3 71.1,115.8 69.4,117.4 67.2,119.1 65.5,120 63.7,120.7 62,120.9 59.8,120.7 57.5,120Z" fill="url(#g1_16)"/>
<path d="M55.5,120.8 57.7,121.3 59.5,121.3 61.2,120.9 63,120.1 64.7,118.9 66.4,117.3 68.1,115.4 72.9,109.6 75.1,107 77.5,104.7 79.9,102.7 81.4,101.7 82.9,100.9 84.4,100.2 85.9,99.7 87.5,99.4 89.1,99.2 90.1,99.2 91.7,99.4 92.3,99.5 92.8,99.8 96.1,102.1 99.4,104.6 103.8,108.1 122,123.3 128.6,128.6 134.8,133.2 135.4,130.8 128.7,125.6 122,120 102.2,102.7 100.5,101.9 98.9,101.3 96.7,100.7 95.1,100.4 93.5,100.3 91.9,100.3 90.3,100.4 88.7,100.7 87.1,101.1 85.6,101.7 84.1,102.4 82.6,103.3 80.2,105 77.3,107.6 75,109.9 70.1,115.3 68,117.4 65.8,119.2 64.1,120.2 62.4,120.8 60.6,121.1 59.7,121 58.4,120.8 56.1,120.2Z" fill="url(#g1_15)"/>
<path d="M54.1,120.9 56.3,121.5 57.7,121.5 58.5,121.5 60.3,121 62,120.1 63.7,118.7 65.4,117 67.1,115 72.7,107.8 75,105.2 76.9,103.4 79.3,101.5 81.3,100.3 82.8,99.7 83.9,99.4 84.9,99.1 85.9,99 88.6,100.4 91.3,102 94,103.8 97.3,106.1 102.8,110.4 121.5,125.4 128.1,130.5 134.3,135 134.9,132.6 128.8,127.9 122.1,122.6 103.9,107.2 98.4,102.8 95.7,100.7 94.6,100 93,99.6 90.3,99.4 88.7,99.5 87.1,99.8 85.6,100.2 84.1,100.8 82.6,101.6 81.1,102.5 78.6,104.4 75.8,107 73.5,109.5 68.7,115.2 66.6,117.5 64.9,119 63.1,120.2 61.4,120.9 60.5,121.2 59.2,121.3 58.3,121.2 57,121 54.7,120.3Z" fill="url(#g1_14)"/>
<path d="M53.2,121.2 55.4,121.7 56.7,121.8 57.6,121.7 59.3,121.1 61,120.1 62.7,118.6 64.4,116.7 70.8,108.2 72.6,106 74,104.5 75.9,102.7 77.3,101.6 79.3,100.5 79.8,100.3 80.3,100.3 83.4,101.2 86.6,102.6 90.4,104.7 94.2,107.1 101.2,112.3 121.6,128 127.7,132.5 133.8,136.8 134.4,134.3 128.3,129.8 121.6,124.7 103.5,109.9 98,105.5 93.1,102 88.2,99 87.1,99 85.6,99.2 84.5,99.4 83,100 80.5,101.2 78.1,103 76.2,104.7 73.8,107.2 71.6,109.8 67.3,115.3 65.6,117.2 63.9,118.9 62.2,120.2 60.5,121 59.6,121.3 58.3,121.5 57.4,121.4 56.1,121.3 53.8,120.6Z" fill="url(#g1_13)"/>
<path d="M52.2,121.5 54,121.9 55.8,122 56.7,121.9 57.5,121.6 59.2,120.8 60.9,119.4 62.5,117.6 64.2,115.5 69.8,107.8 71.6,105.6 73.4,103.8 74.4,103 74.9,103 76.9,102.9 79.4,103.3 82.5,104.1 85.7,105.5 89.4,107.4 93.2,109.8 100.2,114.7 121.1,130.2 127.2,134.5 133.3,138.6 134,136.1 127.8,131.8 121.7,127.2 115.1,122.1 101.9,111.7 95.4,106.8 91.6,104.3 87.8,102.1 84.6,100.6 82,99.6 80.5,100.1 78.5,101.2 76.5,102.7 74.6,104.4 73.3,105.9 71.4,108 66.3,114.9 64.6,117 62.9,118.8 61.2,120.2 59.5,121.2 58.7,121.5 57.3,121.7 56.5,121.7 55.1,121.5 52.9,120.9Z" fill="url(#g1_12)"/>
<path d="M51.3,121.8 53.5,122.3 55.3,122.2 56.1,122 57,121.6 58.7,120.6 59.9,119.4 61.6,117.5 67.4,109.4 69.2,107.3 69.7,107 72.1,106.2 74,106 76.5,106 79.1,106.4 82.2,107.3 85.3,108.6 89.1,110.6 92.8,112.9 99.8,117.6 120,132 126.7,136.5 132.8,140.5 133.5,138 127.3,133.8 121.2,129.4 100.4,113.7 93.3,108.7 89.6,106.3 85.8,104.4 82.7,103 79.5,102.2 76.5,101.8 75.5,102.4 74.1,103.5 72.2,105.4 70.4,107.5 64.8,115.2 63.2,117.3 61.5,119.1 59.8,120.5 58.1,121.5 57.3,121.7 56.4,121.9 55.5,121.9 54.2,121.8 52,121.2Z" fill="url(#g1_11)"/>
<path d="M49.9,122 52.2,122.5 53.9,122.5 54.8,122.4 55.6,122.1 56.9,121.4 58.1,120.4 59.8,118.6 64.7,112 66.1,111.1 67.9,110.2 70.3,109.4 71.7,109.1 73.2,109 75.7,109 78.7,109.6 81.8,110.6 85,111.9 88.7,113.8 92.4,116 99.4,120.5 119.6,134.2 126.2,138.5 132.4,142.3 133,139.8 126.9,135.8 120.8,131.6 100,116.6 92.9,111.8 89.2,109.5 85.5,107.5 82.3,106.2 79.2,105.3 77.2,105 75.1,104.9 73.7,105 71.2,105.4 70.3,106.3 68.5,108.5 63.4,115.6 61.8,117.7 60.1,119.5 58.9,120.6 57.2,121.6 56.3,122 55,122.2 53.3,122.1 50.6,121.3Z" fill="url(#g1_10)"/>
<path d="M49,122.3 50.8,122.7 52.5,122.9 53.8,122.7 55.1,122.1 56.4,121.3 57.6,120.3 58.8,118.9 60.9,116.5 62.6,115.2 64.4,114.2 66.2,113.3 67.6,112.8 70,112.2 72.4,112 74.9,112.1 77.9,112.7 81,113.7 84.1,115 87.8,116.8 91.5,118.9 98.4,123.1 119.1,136.5 125.7,140.6 131.9,144.2 132.5,141.7 126.4,137.8 119.7,133.4 99.5,119.5 92.5,114.9 88.8,112.7 85.1,110.8 82,109.4 78.9,108.5 75.8,107.9 73.3,107.9 71.9,108.1 70.4,108.4 68,109.3 66.7,110 66.2,110.4 60.4,118.3 58.7,120.1 57.1,121.4 56.2,121.9 55.4,122.2 54.5,122.4 53.7,122.5 51.9,122.3 49.6,121.6Z" fill="url(#g1_9)"/>
<path d="M48.1,122.6 49.4,122.9 50.7,123.2 52,123.2 53.3,122.9 55,122 57.5,120 61.8,117.5 64.5,116.3 67.3,115.4 69.7,115.1 72.1,115 74.6,115.3 77.6,116 80.7,117 83.8,118.3 87.4,120.1 91.1,122.1 97.5,125.8 118.1,138.5 124.7,142.3 131.4,146.1 132.1,143.6 125.9,139.9 119.3,135.7 98.6,122.1 91.6,117.7 87.9,115.6 84.2,113.8 81.1,112.5 78.5,111.7 75.5,111.1 73,110.9 71.5,111 70.1,111.2 67.7,111.9 65.4,112.9 62.3,114.8 59.8,118 58.2,119.9 56.5,121.3 55.3,122.1 54,122.6 53.1,122.7 52.3,122.8 50.5,122.5 48.7,122Z" fill="url(#g1_8)"/>
<path d="M47.6,123 49.8,123.5 51.1,123.5 52,123.4 55.4,122.1 61.9,119.3 64.2,118.6 66.5,118.2 68.9,118 71.8,118.1 74.3,118.5 77.3,119.3 79.8,120.1 82.9,121.4 86.5,123.1 90.2,125 97.1,128.8 117.6,140.7 130.9,148 131.6,145.5 124.9,141.6 118.2,137.6 98.2,125.1 91.2,121 87.5,118.9 83.9,117.1 80.8,115.8 77.7,114.8 74.7,114.2 72.2,114 69.8,114.1 67.4,114.5 64.6,115.4 61.5,117.1 58.5,119 56,121.4 54.8,122.2 53.9,122.6 52.6,123 51.3,123.1 50,122.9 48.2,122.4Z" fill="url(#g1_7)"/>
<path d="M46.6,123.3 48,123.7 49.3,123.9 52.3,123.8 54.9,123.3 61.6,121.4 63.9,121 66.2,120.8 68.6,120.8 71,121.1 73.5,121.5 76.5,122.3 79,123.2 82,124.4 85.7,126.1 89.3,127.9 96.1,131.5 116.6,142.7 130.5,149.9 131.1,147.4 117.8,139.9 97.2,127.8 90.3,123.9 86.7,121.9 83,120.2 79.9,119 77.4,118.1 74.4,117.4 71.9,117 69.5,116.9 67.1,117.2 64.8,117.7 62,118.6 55.1,121.9 53.8,122.6 52.6,123.2 51.7,123.3 50.4,123.4 49.1,123.2 47.3,122.7Z" fill="url(#g1_6)"/>
<path d="M46.1,123.8 49.2,124.5 51.9,124.6 54.1,124.4 61.2,123.4 63.6,123.3 65.9,123.3 68.3,123.6 70.7,124 73.2,124.6 76.1,125.5 81.7,127.6 88.9,130.9 116.1,144.9 130,151.7 130.6,149.3 117.3,142.2 96.3,130.5 89.4,126.8 85.8,124.9 82.2,123.3 79.1,122.1 76.6,121.2 73.6,120.4 71.1,120 68.7,119.8 66.3,119.9 64,120.1 61.7,120.7 55.1,122.9 52.5,123.5 50.8,123.8 49.5,123.8 48.1,123.6 46.8,123.2Z" fill="url(#g1_5)"/>
<path d="M45.2,124.1 48.3,125 51,125.4 53.7,125.5 60.4,125.4 62.8,125.5 65.1,125.7 67.5,126.1 69.9,126.6 72.4,127.3 75.3,128.3 80.9,130.4 88,133.6 115.1,146.7 129.5,153.5 130.1,151.1 116.3,144.1 95.3,133.1 89.1,129.9 81.8,126.5 78.8,125.3 76.3,124.4 73.3,123.5 70.8,123 68.4,122.6 66,122.4 63.7,122.5 61.4,122.7 54.2,124.1 51.6,124.3 49.9,124.3 48.5,124.2 47.2,123.9 45.9,123.5Z" fill="url(#g1_4)"/>
<path d="M44.7,124.7 47.8,125.6 50.5,126.2 60.1,127.2 64.8,128 69.6,129.2 74.5,130.8 80,132.9 86.6,135.8 114.1,148.4 129.1,155.1 129.7,152.9 115.3,146 88.2,132.6 81,129.4 75.4,127.2 70.5,125.8 68.1,125.3 65.7,124.9 63.3,124.7 61,124.7 53.8,125.1 51.2,125.1 48.5,124.8 45.4,124Z" fill="url(#g1_3)"/>
<path d="M44.6,125.3 47.4,126.2 50.1,126.9 59.2,128.7 63.5,129.7 68.3,131.1 73.7,133 79.1,135.1 85.2,137.7 112.6,149.7 128.6,156.5 129.2,154.5 114.3,147.7 87.3,135.1 80.6,132.2 75.1,130 69.7,128.3 64.9,127.2 60.2,126.6 53.4,126.2 50.7,125.9 48,125.4 45.3,124.6Z" fill="url(#g1_2)"/>
<path d="M44.6,126 49.1,127.5 58.4,130 62.6,131.3 67.4,132.9 72.3,134.7 83.3,139.1 110.5,150.5 128.2,157.8 128.8,156.1 113.3,149.3 85.9,137.1 79.8,134.5 74.3,132.4 68.9,130.5 64.1,129.2 59.4,128.2 50.2,126.6 47.5,126 45.3,125.3Z" fill="url(#g1_1)"/>
<path d="M44.6,126.7 127.7,159.3 128.3,157.4 111.2,150.2 83.9,138.6 72.9,134.2 67.6,132.2 62.8,130.7 58.5,129.5 49.8,127.4 45.2,126Z" fill="url(#g1_0)"/></g>
<path d="M37.3,123.9 40.5,120.8M42.1,119.3 90.8,72.7M36,118 40.3,119.6M42.4,120.5 46.7,122.1 48.9,122.8 50.6,123.2 52,123.2 53.4,122.8 54.4,122.4 55.7,121.5 57.4,120.1 61.9,117.4 64.1,116.4 66.3,115.7 67.4,115.4 68.9,115.1 71.6,115 74.4,115.3 77.6,116 80.5,116.9 83.8,118.3 87.1,119.9 90.9,122 97.7,126 118.1,138.5 124.7,142.3 131.4,146.1M42.7,126 49.8,119.1M51.3,117.6 95.6,74.1M40,114.3 49.5,117.9M51.6,118.7 56.7,120.6M95.9,100.4 98,101 99.4,101.5 105.1,106.3 116.6,116.2 122.8,121.5 129,126.6 135.2,131.4M48.2,128.1 48.5,127.6 51.2,123.7 53.6,122.2 54.9,121.2 56.5,119.9 58.9,117.4M60.4,115.9 100.4,75.6M43.8,110.8 58.6,116.2M135.4,121.9 138.6,123.8M53.8,130.3 54,129.3 55.1,126.4 57.1,120.3M83.8,99.3 105.3,77.1M47.6,107.3 63.6,113.1M59.5,132.5 59.6,131 60,129.5 60.6,126.9 62.8,114.2M90.9,99.1 110.2,78.6M51.2,103.8 66.8,109.4M65.2,134.8 65.3,132.9 65.9,130.1 66.6,125.3 68.6,108.3M96.6,100.5 115.2,80.1M54.8,100.5 70.3,106M142.2,128.1 145.6,129.2M71,137.1 71.2,135.1 71.7,132 72.3,128 74.4,106.9 74.8,103.8 75,102.7M102,102.3 120.3,81.6M58.2,97.3 74.3,102.8M139.7,124.9 148,127.5M76.9,139.4 77.1,137.4 77.7,134.2 78.4,128.6 80.5,107.9 81.5,99.7M106.8,104.7 125.4,83.1M61.6,94.1 79.6,100.2M126,116 150.5,124.4M82.9,141.7 83.1,139.9 83.7,136.7 84.5,131.1 87,108.8 88.2,99M112.7,106.1 130.6,84.7M64.9,91 89.1,99.1M108.1,105.5 111,106.5M113.3,107.2 153.1,120.5M89,144.1 89.2,142.4 89.9,139.4 90.7,134 93.6,110.9 95.2,100.1M116.6,110.1 120,105.9M121.1,104.6 135.9,86.3M68.2,88 119.4,104.9M121.7,105.6 155.5,116.8M95.2,146.6 95.5,145 96.1,142.1 97,137.1 100.1,115.5 101.8,105.1 102.2,102.6 102.5,102.8M121.6,113 128.3,104.4M129.4,103 141.2,87.9M71.3,85.1 127.7,103.3M130,104.1 157.9,113.1M101.5,149 101.8,147.6 102.7,143.9 103.4,140.3 106.7,120.3 108.6,109.3 109.1,106.8 109.3,106.1 109.6,106.2M126.4,116.2 136.5,102.8M137.5,101.5 146.6,89.5M74.4,82.2 135.9,101.8M138.2,102.5 160.2,109.6M107.9,151.5 108.2,150.3 109.1,146.8 109.8,143.5 113.7,122.6 116.2,110.4 116.5,110.1 116.9,110.4M131.6,119.2 144.7,101.3M145.6,100 152.1,91.2M77.4,79.4 144,100.3M146.3,101 162.5,106.1M114.4,154.1 114.7,153 115.6,149.7 116.3,146.7 120.4,127.6 123.1,115.4 123.4,114.5 123.6,114.5 124,114.7M136.7,122.5 152.7,99.8M153.6,98.5 157.6,92.8M80.4,76.6 152,98.8M154.3,99.5 164.7,102.7M121,156.6 122.2,152.7 122.9,149.9 127.3,131.4 130.3,119.4 130.5,119 130.7,119 131.1,119.1 131.5,119.4M140.8,126.4 142.1,125.2 143.5,123.6 160.7,98.3M161.5,97 163.3,94.5M83.3,73.9 160,97.3M162.2,98 166.8,99.4" stroke="#0b1f4a" stroke-opacity="0.32" stroke-width="0.4" fill="none"/>
<line x1="32.0" y1="121.8" x2="127.7" y2="159.3" stroke="#c2c2c2" stroke-width="0.5"/>
<line x1="127.7" y1="159.3" x2="168.9" y2="96.2" stroke="#c2c2c2" stroke-width="0.5"/>
<line x1="32.0" y1="121.8" x2="26.5" y2="87.3" stroke="#c2c2c2" stroke-width="0.5"/>
<line x1="127.7" y1="159.3" x2="129.8" y2="123.2" stroke="#ffffff" stroke-width="0.4" stroke-opacity="0.1"/>
<line x1="26.5" y1="87.3" x2="129.8" y2="123.2" stroke="#ffffff" stroke-width="0.4" stroke-opacity="0.1"/>
<line x1="129.8" y1="123.2" x2="173.4" y2="63.3" stroke="#ffffff" stroke-width="0.4" stroke-opacity="0.1"/>
<text x="29.8" y="129.5" text-anchor="middle" class="t3">0</text>
<text x="131.9" y="162.1" text-anchor="middle" class="t3">0</text>
<text x="58.9" y="140.9" text-anchor="middle" class="t3">1</text>
<text x="147.4" y="138.9" text-anchor="middle" class="t3">1</text>
<text x="90.4" y="153.2" text-anchor="middle" class="t3">2</text>
<text x="160.7" y="119.4" text-anchor="middle" class="t3">2</text>
<text x="122.9" y="166.7" text-anchor="middle" class="t3">3</text>
<text x="172.2" y="101.5" text-anchor="middle" class="t3">3</text>
<text x="67.6" y="153.0" text-anchor="middle" class="al"><tspan font-style="italic">u</tspan><tspan dy="1" font-size="3.9">1</tspan></text>
<text x="162.6" y="131.6" text-anchor="middle" class="al"><tspan font-style="italic">u</tspan><tspan dy="1" font-size="3.9">2</tspan></text>
<text x="29.5" y="121.2" text-anchor="end" class="t3">0.0</text>
<text x="28.4" y="114.5" text-anchor="end" class="t3">0.1</text>
<text x="27.3" y="107.6" text-anchor="end" class="t3">0.2</text>
<text x="26.2" y="100.5" text-anchor="end" class="t3">0.3</text>
<text x="25.1" y="93.2" text-anchor="end" class="t3">0.4</text>
<text x="53.6" y="37.7" class="tt"><tspan font-style="italic">β</tspan><tspan class="sb" dy="1.4">0</tspan><tspan dy="-1.4">=</tspan>2</text><text x="72.4" y="37.7" class="tt"><tspan font-style="italic">β</tspan><tspan class="sb" dy="1.4">1</tspan><tspan dy="-1.4">=</tspan><tspan font-style="italic">β</tspan><tspan class="sb" dy="1.4">2</tspan><tspan dy="-1.4">=</tspan>3</text><text x="105.8" y="37.7" class="tt"><tspan font-style="italic">α</tspan><tspan class="sb" dy="1.4">0</tspan><tspan dy="-1.4">=</tspan><tspan font-style="italic">α</tspan><tspan class="sb" dy="1.4">1</tspan><tspan dy="-1.4">=</tspan><tspan font-style="italic">α</tspan><tspan class="sb" dy="1.4">2</tspan><tspan dy="-1.4">=</tspan>5</text></g>
<g id="s2"><line x1="211.7" y1="121.8" x2="307.4" y2="159.3" stroke="#d6d6d6" stroke-width="0.5"/>
<line x1="307.4" y1="159.3" x2="348.6" y2="96.2" stroke="#d6d6d6" stroke-width="0.5"/>
<line x1="348.6" y1="96.2" x2="265.8" y2="71.3" stroke="#d6d6d6" stroke-width="0.5"/>
<line x1="265.8" y1="71.3" x2="211.7" y2="121.8" stroke="#d6d6d6" stroke-width="0.5"/>
<line x1="211.7" y1="121.8" x2="206.2" y2="87.3" stroke="#d6d6d6" stroke-width="0.5"/>
<line x1="265.8" y1="71.3" x2="264.7" y2="40.1" stroke="#d6d6d6" stroke-width="0.5"/>
<line x1="348.6" y1="96.2" x2="353.1" y2="63.3" stroke="#d6d6d6" stroke-width="0.5"/>
<line x1="206.2" y1="87.3" x2="264.7" y2="40.1" stroke="#d6d6d6" stroke-width="0.5"/>
<line x1="264.7" y1="40.1" x2="353.1" y2="63.3" stroke="#d6d6d6" stroke-width="0.5"/>
<line x1="307.4" y1="159.3" x2="309.5" y2="123.2" stroke="#d6d6d6" stroke-width="0.5"/>
<line x1="206.2" y1="87.3" x2="309.5" y2="123.2" stroke="#d6d6d6" stroke-width="0.5"/>
<line x1="309.5" y1="123.2" x2="353.1" y2="63.3" stroke="#d6d6d6" stroke-width="0.5"/>
<path d="M211.7,121.8 307.4,159.3 307.5,159.2 245.1,134.8 237.2,131.6 232.8,129.8 232.3,129.6 232,129.3 231.4,128.6 230.9,127.8 230.6,127.1 230.5,126.5 230.5,125.9 230.6,125.4 231.4,124.8 232.8,124.2 234.7,123.5 236.4,123 240.5,122.1 245.5,121.3 251.7,120.5 257.7,120.1 264.3,119.8 271.6,119.8 278.3,119.9 285.2,120.2 292.4,120.6 299.4,121.3 306.1,122.1 313.7,123.1 321.7,124.4 329.3,125.8 348.6,96.2 265.8,71.3 211.7,121.8Z" fill="#9dd0fb" fill-rule="evenodd"/>
<line x1="211.7" y1="121.8" x2="348.6" y2="96.2" stroke="#fff" stroke-width="1.5"/>
<defs><linearGradient id="g2_51" gradientUnits="userSpaceOnUse" x1="328.7" x2="330.2" y1="0" y2="0"><stop offset="0" stop-color="#9dd0fb"/><stop offset="0.332" stop-color="#91d5fa"/><stop offset="1" stop-color="#91d5fa"/></linearGradient><linearGradient id="g2_50" gradientUnits="userSpaceOnUse" x1="321.4" x2="329.6" y1="0" y2="0"><stop offset="0" stop-color="#9dd0fb"/><stop offset="0.0617" stop-color="#9dd0fb"/><stop offset="0.124" stop-color="#8fd4fa"/><stop offset="1" stop-color="#8ed6fa"/></linearGradient><linearGradient id="g2_49" gradientUnits="userSpaceOnUse" x1="315.2" x2="329.0" y1="0" y2="0"><stop offset="0" stop-color="#9dd0fb"/><stop offset="0.0363" stop-color="#9dd0fb"/><stop offset="0.0727" stop-color="#8ed4fa"/><stop offset="1" stop-color="#8ad6fa"/></linearGradient><linearGradient id="g2_48" gradientUnits="userSpaceOnUse" x1="309.5" x2="328.4" y1="0" y2="0"><stop offset="0" stop-color="#9dd0fb"/><stop offset="0.0263" stop-color="#9dd0fb"/><stop offset="0.0527" stop-color="#8dd3fa"/><stop offset="1" stop-color="#85d7fa"/></linearGradient><linearGradient id="g2_47" gradientUnits="userSpaceOnUse" x1="304.3" x2="327.8" y1="0" y2="0"><stop offset="0" stop-color="#9dd0fb"/><stop offset="0.021" stop-color="#9bd4fa"/><stop offset="0.0421" stop-color="#8bd3fa"/><stop offset="1" stop-color="#7fd6fa"/></linearGradient><linearGradient id="g2_46" gradientUnits="userSpaceOnUse" x1="299.1" x2="327.2" y1="0" y2="0"><stop offset="0" stop-color="#9dd0fb"/><stop offset="0.0175" stop-color="#9dd0fb"/><stop offset="0.035" stop-color="#8ad2fa"/><stop offset="0.481" stop-color="#7fd4fa"/><stop offset="1" stop-color="#79d5fa"/></linearGradient><linearGradient id="g2_45" gradientUnits="userSpaceOnUse" x1="294.5" x2="326.6" y1="0" y2="0"><stop offset="0" stop-color="#9dd0fb"/><stop offset="0.0152" stop-color="#9dd0fb"/><stop offset="0.0304" stop-color="#89d2fb"/><stop offset="0.215" stop-color="#81d2fa"/><stop offset="0.576" stop-color="#77d2fa"/><stop offset="0.721" stop-color="#77d3fa"/><stop offset="1" stop-color="#77d3f3"/></linearGradient><linearGradient id="g2_44" gradientUnits="userSpaceOnUse" x1="290.4" x2="326.0" y1="0" y2="0"><stop offset="0" stop-color="#9dd0fb"/><stop offset="0.0136" stop-color="#99d3fa"/><stop offset="0.0272" stop-color="#87d1fb"/><stop offset="0.346" stop-color="#76d1fb"/><stop offset="0.53" stop-color="#76d0fb"/><stop offset="1" stop-color="#76d0e9"/></linearGradient><linearGradient id="g2_43" gradientUnits="userSpaceOnUse" x1="286.2" x2="325.4" y1="0" y2="0"><stop offset="0" stop-color="#9dd0fb"/><stop offset="0.0246" stop-color="#86d0fb"/><stop offset="0.236" stop-color="#76cffb"/><stop offset="0.415" stop-color="#75cefb"/><stop offset="0.864" stop-color="#75cce4"/><stop offset="0.877" stop-color="#432b5c"/><stop offset="1" stop-color="#432b5c"/></linearGradient><linearGradient id="g2_42" gradientUnits="userSpaceOnUse" x1="282.1" x2="324.8" y1="0" y2="0"><stop offset="0" stop-color="#9dd0fb"/><stop offset="0.0112" stop-color="#9dd0fb"/><stop offset="0.0224" stop-color="#86d0fb"/><stop offset="0.169" stop-color="#76cefb"/><stop offset="0.331" stop-color="#75cbfb"/><stop offset="0.604" stop-color="#74c8e7"/><stop offset="0.616" stop-color="#432b5c"/><stop offset="1" stop-color="#432b5c"/></linearGradient><linearGradient id="g2_41" gradientUnits="userSpaceOnUse" x1="278.4" x2="324.3" y1="0" y2="0"><stop offset="0" stop-color="#9dd0fb"/><stop offset="0.0104" stop-color="#8acefb"/><stop offset="0.0208" stop-color="#85cffb"/><stop offset="0.136" stop-color="#75cdfb"/><stop offset="0.275" stop-color="#74c9fb"/><stop offset="0.449" stop-color="#73c5e9"/><stop offset="0.46" stop-color="#432b5c"/><stop offset="1" stop-color="#432b5c"/></linearGradient><linearGradient id="g2_40" gradientUnits="userSpaceOnUse" x1="274.8" x2="323.7" y1="0" y2="0"><stop offset="0" stop-color="#9dd0fb"/><stop offset="0.00968" stop-color="#86cffb"/><stop offset="0.107" stop-color="#75ccfb"/><stop offset="0.236" stop-color="#73c6fa"/><stop offset="0.357" stop-color="#72c2eb"/><stop offset="0.367" stop-color="#432b5c"/><stop offset="1" stop-color="#432b5c"/></linearGradient><linearGradient id="g2_39" gradientUnits="userSpaceOnUse" x1="271.2" x2="323.2" y1="0" y2="0"><stop offset="0" stop-color="#9dd0fb"/><stop offset="0.00906" stop-color="#97d1fb"/><stop offset="0.0181" stop-color="#85cffb"/><stop offset="0.0909" stop-color="#75cbfb"/><stop offset="0.202" stop-color="#72c4fb"/><stop offset="0.286" stop-color="#71bfed"/><stop offset="0.296" stop-color="#432b5c"/><stop offset="1" stop-color="#432b5c"/></linearGradient><linearGradient id="g2_38" gradientUnits="userSpaceOnUse" x1="269.1" x2="322.8" y1="0" y2="0"><stop offset="0" stop-color="#87cffb"/><stop offset="0.0703" stop-color="#75cbfb"/><stop offset="0.168" stop-color="#72c3fb"/><stop offset="0.249" stop-color="#70bded"/><stop offset="0.259" stop-color="#432b5c"/><stop offset="1" stop-color="#432b5c"/></linearGradient><linearGradient id="g2_37" gradientUnits="userSpaceOnUse" x1="267.8" x2="322.5" y1="0" y2="0"><stop offset="0" stop-color="#86cefb"/><stop offset="0.0601" stop-color="#75cbfb"/><stop offset="0.156" stop-color="#72c2fb"/><stop offset="0.217" stop-color="#70bcef"/><stop offset="0.226" stop-color="#432b5c"/><stop offset="1" stop-color="#432b5c"/></linearGradient><linearGradient id="g2_36" gradientUnits="userSpaceOnUse" x1="266.0" x2="322.2" y1="0" y2="0"><stop offset="0" stop-color="#87cefb"/><stop offset="0.0583" stop-color="#75cafb"/><stop offset="0.151" stop-color="#71c1fb"/><stop offset="0.202" stop-color="#70bbf0"/><stop offset="0.211" stop-color="#432b5c"/><stop offset="1" stop-color="#432b5c"/></linearGradient><linearGradient id="g2_35" gradientUnits="userSpaceOnUse" x1="264.1" x2="322.0" y1="0" y2="0"><stop offset="0" stop-color="#88cffb"/><stop offset="0.0647" stop-color="#74c9fb"/><stop offset="0.146" stop-color="#71bffb"/><stop offset="0.196" stop-color="#6fb9ef"/><stop offset="0.204" stop-color="#432b5c"/><stop offset="1" stop-color="#432b5c"/></linearGradient><linearGradient id="g2_34" gradientUnits="userSpaceOnUse" x1="262.8" x2="321.7" y1="0" y2="0"><stop offset="0" stop-color="#87cefb"/><stop offset="0.0554" stop-color="#74c9fb"/><stop offset="0.135" stop-color="#71befb"/><stop offset="0.176" stop-color="#6fb9f0"/><stop offset="0.184" stop-color="#432b5c"/><stop offset="1" stop-color="#432b5c"/></linearGradient><linearGradient id="g2_33" gradientUnits="userSpaceOnUse" x1="261.0" x2="321.5" y1="0" y2="0"><stop offset="0" stop-color="#89cefb"/><stop offset="0.0538" stop-color="#74c9fb"/><stop offset="0.131" stop-color="#70bdfb"/><stop offset="0.171" stop-color="#6eb7f0"/><stop offset="0.178" stop-color="#432b5c"/><stop offset="1" stop-color="#432b5c"/></linearGradient><linearGradient id="g2_32" gradientUnits="userSpaceOnUse" x1="259.6" x2="321.2" y1="0" y2="0"><stop offset="0" stop-color="#89cefb"/><stop offset="0.0528" stop-color="#74c8fb"/><stop offset="0.121" stop-color="#70bdfb"/><stop offset="0.152" stop-color="#6eb7f2"/><stop offset="0.16" stop-color="#432b5c"/><stop offset="1" stop-color="#432b5c"/></linearGradient><linearGradient id="g2_31" gradientUnits="userSpaceOnUse" x1="258.2" x2="321.0" y1="0" y2="0"><stop offset="0" stop-color="#88cefb"/><stop offset="0.0443" stop-color="#74c9fb"/><stop offset="0.111" stop-color="#70bcfb"/><stop offset="0.141" stop-color="#6eb6f2"/><stop offset="0.149" stop-color="#432b5c"/><stop offset="1" stop-color="#432b5c"/></linearGradient><linearGradient id="g2_30" gradientUnits="userSpaceOnUse" x1="256.4" x2="320.7" y1="0" y2="0"><stop offset="0" stop-color="#8bcefb"/><stop offset="0.0504" stop-color="#74c8fb"/><stop offset="0.116" stop-color="#6fbafb"/><stop offset="0.137" stop-color="#6eb5f3"/><stop offset="0.145" stop-color="#432b5c"/><stop offset="1" stop-color="#432b5c"/></linearGradient><linearGradient id="g2_29" gradientUnits="userSpaceOnUse" x1="255.1" x2="320.4" y1="0" y2="0"><stop offset="0" stop-color="#8acefb"/><stop offset="0.0423" stop-color="#74c8fb"/><stop offset="0.106" stop-color="#6fbafb"/><stop offset="0.135" stop-color="#6db2f1"/><stop offset="0.142" stop-color="#432b5c"/><stop offset="1" stop-color="#432b5c"/></linearGradient><linearGradient id="g2_28" gradientUnits="userSpaceOnUse" x1="253.7" x2="320.2" y1="0" y2="0"><stop offset="0" stop-color="#8acefb"/><stop offset="0.0416" stop-color="#73c8fb"/><stop offset="0.104" stop-color="#6fb8fb"/><stop offset="0.125" stop-color="#6db2f2"/><stop offset="0.132" stop-color="#432b5c"/><stop offset="1" stop-color="#432b5c"/></linearGradient><linearGradient id="g2_27" gradientUnits="userSpaceOnUse" x1="251.9" x2="319.9" y1="0" y2="0"><stop offset="0" stop-color="#8dcefb"/><stop offset="0.0473" stop-color="#73c7fb"/><stop offset="0.102" stop-color="#6fb8fb"/><stop offset="0.122" stop-color="#6db2f4"/><stop offset="0.129" stop-color="#432b5c"/><stop offset="1" stop-color="#432b5c"/></linearGradient><linearGradient id="g2_26" gradientUnits="userSpaceOnUse" x1="250.5" x2="319.7" y1="0" y2="0"><stop offset="0" stop-color="#8ecefb"/><stop offset="0.0465" stop-color="#73c6fb"/><stop offset="0.0997" stop-color="#6eb6fb"/><stop offset="0.12" stop-color="#6caff3"/><stop offset="0.126" stop-color="#432b5c"/><stop offset="1" stop-color="#432b5c"/></linearGradient><linearGradient id="g2_25" gradientUnits="userSpaceOnUse" x1="249.1" x2="319.4" y1="0" y2="0"><stop offset="0" stop-color="#8ecefb"/><stop offset="0.0457" stop-color="#73c6fb"/><stop offset="0.098" stop-color="#6eb5fb"/><stop offset="0.111" stop-color="#6cb0f5"/><stop offset="0.118" stop-color="#432b5c"/><stop offset="1" stop-color="#432b5c"/></linearGradient><linearGradient id="g2_24" gradientUnits="userSpaceOnUse" x1="247.8" x2="319.1" y1="0" y2="0"><stop offset="0" stop-color="#8ecefb"/><stop offset="0.0449" stop-color="#73c5fb"/><stop offset="0.0963" stop-color="#6db3fb"/><stop offset="0.109" stop-color="#6caef5"/><stop offset="0.116" stop-color="#432b5c"/><stop offset="1" stop-color="#432b5c"/></linearGradient><linearGradient id="g2_23" gradientUnits="userSpaceOnUse" x1="246.4" x2="318.8" y1="0" y2="0"><stop offset="0" stop-color="#8fcefb"/><stop offset="0.0441" stop-color="#73c5fb"/><stop offset="0.0946" stop-color="#6db2fb"/><stop offset="0.107" stop-color="#6bacf4"/><stop offset="0.114" stop-color="#432b5c"/><stop offset="1" stop-color="#432b5c"/></linearGradient><linearGradient id="g2_22" gradientUnits="userSpaceOnUse" x1="245.0" x2="318.5" y1="0" y2="0"><stop offset="0" stop-color="#90cefb"/><stop offset="0.0434" stop-color="#73c5fb"/><stop offset="0.0931" stop-color="#6cb0fb"/><stop offset="0.106" stop-color="#6baaf4"/><stop offset="0.112" stop-color="#432b5c"/><stop offset="1" stop-color="#432b5c"/></linearGradient><linearGradient id="g2_21" gradientUnits="userSpaceOnUse" x1="244.1" x2="318.2" y1="0" y2="0"><stop offset="0" stop-color="#8dcdfb"/><stop offset="0.0369" stop-color="#73c5fb"/><stop offset="0.086" stop-color="#6caffc"/><stop offset="0.0983" stop-color="#6aa9f5"/><stop offset="0.104" stop-color="#432b5c"/><stop offset="1" stop-color="#432b5c"/></linearGradient><linearGradient id="g2_20" gradientUnits="userSpaceOnUse" x1="242.8" x2="317.9" y1="0" y2="0"><stop offset="0" stop-color="#8fcdfb"/><stop offset="0.0363" stop-color="#73c5fb"/><stop offset="0.0847" stop-color="#6caefc"/><stop offset="0.0967" stop-color="#6aa8f5"/><stop offset="0.103" stop-color="#432b5c"/><stop offset="0.992" stop-color="#432b5c"/><stop offset="1" stop-color="#a7efd0"/></linearGradient><linearGradient id="g2_19" gradientUnits="userSpaceOnUse" x1="241.4" x2="317.4" y1="0" y2="0"><stop offset="0" stop-color="#90cdfb"/><stop offset="0.0358" stop-color="#74c5fb"/><stop offset="0.0835" stop-color="#6cadfc"/><stop offset="0.0954" stop-color="#69a7f6"/><stop offset="0.101" stop-color="#432b5c"/><stop offset="0.855" stop-color="#432b5c"/><stop offset="0.862" stop-color="#76d2e0"/><stop offset="0.885" stop-color="#7ddaf2"/><stop offset="0.893" stop-color="#7ed9f9"/><stop offset="0.901" stop-color="#9bdbfa"/><stop offset="0.908" stop-color="#933ccc"/><stop offset="0.916" stop-color="#9630af"/><stop offset="0.923" stop-color="#9533c0"/><stop offset="0.992" stop-color="#9635c1"/><stop offset="1" stop-color="#b54ab7"/></linearGradient><linearGradient id="g2_18" gradientUnits="userSpaceOnUse" x1="240.0" x2="316.9" y1="0" y2="0"><stop offset="0" stop-color="#91cefb"/><stop offset="0.0413" stop-color="#72c3fb"/><stop offset="0.0942" stop-color="#69a6f8"/><stop offset="0.1" stop-color="#432b5c"/><stop offset="0.745" stop-color="#432b5c"/><stop offset="0.753" stop-color="#75ccec"/><stop offset="0.76" stop-color="#75cdf7"/><stop offset="0.768" stop-color="#80d1fb"/><stop offset="0.775" stop-color="#823ddb"/><stop offset="0.783" stop-color="#9030b4"/><stop offset="0.79" stop-color="#8d30be"/><stop offset="0.797" stop-color="#9330be"/><stop offset="0.805" stop-color="#9030bf"/><stop offset="0.992" stop-color="#9533c0"/><stop offset="1" stop-color="#a03bbd"/></linearGradient><linearGradient id="g2_17" gradientUnits="userSpaceOnUse" x1="239.1" x2="316.4" y1="0" y2="0"><stop offset="0" stop-color="#90cdfb"/><stop offset="0.0352" stop-color="#72c3fb"/><stop offset="0.0877" stop-color="#69a6fa"/><stop offset="0.0935" stop-color="#432b5c"/><stop offset="0.639" stop-color="#432b5c"/><stop offset="0.646" stop-color="#6fbaf2"/><stop offset="0.653" stop-color="#70befb"/><stop offset="0.66" stop-color="#7859fc"/><stop offset="0.668" stop-color="#8a30b8"/><stop offset="0.682" stop-color="#8c30bf"/><stop offset="0.992" stop-color="#9432c0"/><stop offset="1" stop-color="#9a36be"/></linearGradient><linearGradient id="g2_16" gradientUnits="userSpaceOnUse" x1="237.7" x2="315.8" y1="0" y2="0"><stop offset="0" stop-color="#91cdfb"/><stop offset="0.0406" stop-color="#72c2fb"/><stop offset="0.0866" stop-color="#69a5fc"/><stop offset="0.0924" stop-color="#68a2f8"/><stop offset="0.0981" stop-color="#432b5c"/><stop offset="0.552" stop-color="#432b5c"/><stop offset="0.559" stop-color="#69a6fc"/><stop offset="0.566" stop-color="#653ef0"/><stop offset="0.573" stop-color="#8230b9"/><stop offset="0.58" stop-color="#8830bf"/><stop offset="0.594" stop-color="#8430c0"/><stop offset="0.693" stop-color="#8c30be"/><stop offset="0.993" stop-color="#9331bf"/><stop offset="1" stop-color="#9733be"/></linearGradient><linearGradient id="g2_15" gradientUnits="userSpaceOnUse" x1="236.8" x2="315.3" y1="0" y2="0"><stop offset="0" stop-color="#90cdfb"/><stop offset="0.0346" stop-color="#72c2fb"/><stop offset="0.0804" stop-color="#69a6fc"/><stop offset="0.0917" stop-color="#679ef7"/><stop offset="0.0974" stop-color="#432b5c"/><stop offset="0.474" stop-color="#432b5c"/><stop offset="0.48" stop-color="#5535f1"/><stop offset="0.487" stop-color="#8230b1"/><stop offset="0.494" stop-color="#7730c3"/><stop offset="0.508" stop-color="#8030c2"/><stop offset="0.514" stop-color="#7d30c2"/><stop offset="0.528" stop-color="#8230c1"/><stop offset="0.71" stop-color="#8c30bd"/><stop offset="1" stop-color="#9531be"/></linearGradient><linearGradient id="g2_14" gradientUnits="userSpaceOnUse" x1="235.9" x2="314.8" y1="0" y2="0"><stop offset="0" stop-color="#8fccfb"/><stop offset="0.0344" stop-color="#71c1fb"/><stop offset="0.0855" stop-color="#679efb"/><stop offset="0.0911" stop-color="#432b5c"/><stop offset="0.398" stop-color="#432b5c"/><stop offset="0.405" stop-color="#5c7bfd"/><stop offset="0.411" stop-color="#7d30bb"/><stop offset="0.418" stop-color="#7a30c3"/><stop offset="0.424" stop-color="#7530c6"/><stop offset="0.431" stop-color="#7730c6"/><stop offset="0.532" stop-color="#8230c0"/><stop offset="0.642" stop-color="#8830bd"/><stop offset="1" stop-color="#9330be"/></linearGradient><linearGradient id="g2_13" gradientUnits="userSpaceOnUse" x1="234.5" x2="314.2" y1="0" y2="0"><stop offset="0" stop-color="#92cdfb"/><stop offset="0.0396" stop-color="#71bffb"/><stop offset="0.0901" stop-color="#669bfb"/><stop offset="0.0956" stop-color="#432b5c"/><stop offset="0.342" stop-color="#432b5c"/><stop offset="0.349" stop-color="#5430d1"/><stop offset="0.355" stop-color="#6630cd"/><stop offset="0.368" stop-color="#6f30cb"/><stop offset="0.374" stop-color="#6c30cb"/><stop offset="0.393" stop-color="#7130c9"/><stop offset="0.491" stop-color="#7e30c1"/><stop offset="0.702" stop-color="#8b30bb"/><stop offset="1" stop-color="#9230bd"/></linearGradient><linearGradient id="g2_12" gradientUnits="userSpaceOnUse" x1="233.5" x2="313.7" y1="0" y2="0"><stop offset="0" stop-color="#91ccfb"/><stop offset="0.0169" stop-color="#84c8fb"/><stop offset="0.0338" stop-color="#73c1fb"/><stop offset="0.0839" stop-color="#669dfc"/><stop offset="0.095" stop-color="#6494f8"/><stop offset="0.101" stop-color="#432b5c"/><stop offset="0.286" stop-color="#432b5c"/><stop offset="0.292" stop-color="#6e37e4"/><stop offset="0.298" stop-color="#6330d1"/><stop offset="0.31" stop-color="#5e30d3"/><stop offset="0.335" stop-color="#6930cf"/><stop offset="0.495" stop-color="#7f30c0"/><stop offset="0.704" stop-color="#8a30bb"/><stop offset="1" stop-color="#9130bd"/></linearGradient><linearGradient id="g2_11" gradientUnits="userSpaceOnUse" x1="232.6" x2="313.2" y1="0" y2="0"><stop offset="0" stop-color="#91ccfb"/><stop offset="0.0168" stop-color="#84c7fb"/><stop offset="0.0336" stop-color="#72c0fb"/><stop offset="0.0944" stop-color="#6391fa"/><stop offset="0.0999" stop-color="#432b5c"/><stop offset="0.238" stop-color="#432b5c"/><stop offset="0.244" stop-color="#7039e4"/><stop offset="0.249" stop-color="#5530db"/><stop offset="0.267" stop-color="#5630db"/><stop offset="0.291" stop-color="#6030d6"/><stop offset="0.34" stop-color="#6c30cd"/><stop offset="0.499" stop-color="#8030bf"/><stop offset="0.707" stop-color="#8a30ba"/><stop offset="1" stop-color="#9030be"/></linearGradient><linearGradient id="g2_10" gradientUnits="userSpaceOnUse" x1="231.7" x2="312.6" y1="0" y2="0"><stop offset="0" stop-color="#91ccfb"/><stop offset="0.0167" stop-color="#84c7fb"/><stop offset="0.0334" stop-color="#71bffb"/><stop offset="0.0992" stop-color="#618bfa"/><stop offset="0.105" stop-color="#432b5c"/><stop offset="0.192" stop-color="#432b5c"/><stop offset="0.197" stop-color="#4e4bff"/><stop offset="0.203" stop-color="#4b30ec"/><stop offset="0.214" stop-color="#4b30e9"/><stop offset="0.309" stop-color="#6730d2"/><stop offset="0.433" stop-color="#7b30c3"/><stop offset="0.655" stop-color="#8830bb"/><stop offset="1" stop-color="#8f30be"/></linearGradient><linearGradient id="g2_9" gradientUnits="userSpaceOnUse" x1="230.7" x2="312.1" y1="0" y2="0"><stop offset="0" stop-color="#91ccfb"/><stop offset="0.0166" stop-color="#84c7fb"/><stop offset="0.0332" stop-color="#72befb"/><stop offset="0.109" stop-color="#5e81fb"/><stop offset="0.115" stop-color="#432b5c"/><stop offset="0.147" stop-color="#432b5c"/><stop offset="0.153" stop-color="#5667fa"/><stop offset="0.158" stop-color="#5461fe"/><stop offset="0.163" stop-color="#4b38fc"/><stop offset="0.186" stop-color="#4b30f3"/><stop offset="0.203" stop-color="#4b30ed"/><stop offset="0.308" stop-color="#6a30d2"/><stop offset="0.456" stop-color="#7e30c1"/><stop offset="0.678" stop-color="#8930bb"/><stop offset="1" stop-color="#8e30bf"/></linearGradient><linearGradient id="g2_8" gradientUnits="userSpaceOnUse" x1="229.8" x2="311.6" y1="0" y2="0"><stop offset="0" stop-color="#92ccfb"/><stop offset="0.0385" stop-color="#6fbafb"/><stop offset="0.114" stop-color="#5c7afd"/><stop offset="0.12" stop-color="#5a75fd"/><stop offset="0.125" stop-color="#5769fe"/><stop offset="0.13" stop-color="#4c45ff"/><stop offset="0.141" stop-color="#4d49ff"/><stop offset="0.163" stop-color="#4b3dfe"/><stop offset="0.186" stop-color="#4b35f5"/><stop offset="0.203" stop-color="#5130ef"/><stop offset="0.26" stop-color="#6230dd"/><stop offset="0.319" stop-color="#6f30d0"/><stop offset="0.467" stop-color="#8030c0"/><stop offset="0.68" stop-color="#8930bb"/><stop offset="1" stop-color="#8e30c0"/></linearGradient><linearGradient id="g2_7" gradientUnits="userSpaceOnUse" x1="229.3" x2="311.1" y1="0" y2="0"><stop offset="0" stop-color="#8fcafb"/><stop offset="0.0165" stop-color="#82c4fb"/><stop offset="0.033" stop-color="#6fbafb"/><stop offset="0.0711" stop-color="#669bfc"/><stop offset="0.0873" stop-color="#6088fd"/><stop offset="0.0927" stop-color="#586efe"/><stop offset="0.0982" stop-color="#5972fd"/><stop offset="0.126" stop-color="#5157fe"/><stop offset="0.159" stop-color="#4c44ff"/><stop offset="0.221" stop-color="#5d30e8"/><stop offset="0.326" stop-color="#7330cf"/><stop offset="0.474" stop-color="#8130c0"/><stop offset="0.681" stop-color="#8930bc"/><stop offset="1" stop-color="#8d30c2"/></linearGradient><linearGradient id="g2_6" gradientUnits="userSpaceOnUse" x1="228.4" x2="310.6" y1="0" y2="0"><stop offset="0" stop-color="#91cafb"/><stop offset="0.0219" stop-color="#7fc2fb"/><stop offset="0.0383" stop-color="#6eb7fb"/><stop offset="0.06" stop-color="#6aa7fc"/><stop offset="0.0655" stop-color="#6ea3fc"/><stop offset="0.0709" stop-color="#6494fc"/><stop offset="0.0873" stop-color="#5e81fd"/><stop offset="0.137" stop-color="#535afe"/><stop offset="0.17" stop-color="#5647fe"/><stop offset="0.204" stop-color="#5d3af1"/><stop offset="0.249" stop-color="#6930e1"/><stop offset="0.356" stop-color="#7930cc"/><stop offset="0.497" stop-color="#8330c1"/><stop offset="0.703" stop-color="#8930be"/><stop offset="1" stop-color="#8d30c4"/></linearGradient><linearGradient id="g2_5" gradientUnits="userSpaceOnUse" x1="227.9" x2="310.1" y1="0" y2="0"><stop offset="0" stop-color="#8fc9fb"/><stop offset="0.0274" stop-color="#7abdfb"/><stop offset="0.0329" stop-color="#8cbcfb"/><stop offset="0.0384" stop-color="#78b0fc"/><stop offset="0.0438" stop-color="#74aafc"/><stop offset="0.0603" stop-color="#71a1fc"/><stop offset="0.0877" stop-color="#6488fd"/><stop offset="0.121" stop-color="#5e6efe"/><stop offset="0.171" stop-color="#604eff"/><stop offset="0.193" stop-color="#6244f6"/><stop offset="0.268" stop-color="#7032de"/><stop offset="0.375" stop-color="#7d30cb"/><stop offset="0.517" stop-color="#8530c2"/><stop offset="0.717" stop-color="#8a30c1"/><stop offset="1" stop-color="#8c32c7"/></linearGradient><linearGradient id="g2_4" gradientUnits="userSpaceOnUse" x1="227.4" x2="309.6" y1="0" y2="0"><stop offset="0" stop-color="#8ec8fb"/><stop offset="0.0055" stop-color="#91c6fb"/><stop offset="0.055" stop-color="#7aa9fc"/><stop offset="0.0881" stop-color="#6e90fd"/><stop offset="0.121" stop-color="#6976fd"/><stop offset="0.177" stop-color="#6a53fe"/><stop offset="0.194" stop-color="#6b4bf8"/><stop offset="0.229" stop-color="#6e40ec"/><stop offset="0.275" stop-color="#7537df"/><stop offset="0.334" stop-color="#7c30d3"/><stop offset="0.382" stop-color="#8030cd"/><stop offset="0.525" stop-color="#8630c5"/><stop offset="0.83" stop-color="#8b30c6"/><stop offset="1" stop-color="#8c35cb"/></linearGradient><linearGradient id="g2_3" gradientUnits="userSpaceOnUse" x1="226.9" x2="309.1" y1="0" y2="0"><stop offset="0" stop-color="#93c8fb"/><stop offset="0.0386" stop-color="#86b8fb"/><stop offset="0.0939" stop-color="#7794fc"/><stop offset="0.144" stop-color="#7270fe"/><stop offset="0.184" stop-color="#735afe"/><stop offset="0.235" stop-color="#7647ed"/><stop offset="0.294" stop-color="#7b3bdf"/><stop offset="0.402" stop-color="#8332d0"/><stop offset="0.538" stop-color="#8730c9"/><stop offset="0.731" stop-color="#8a32ca"/><stop offset="1" stop-color="#8c3bd1"/></linearGradient><linearGradient id="g2_2" gradientUnits="userSpaceOnUse" x1="226.4" x2="308.6" y1="0" y2="0"><stop offset="0" stop-color="#95c9fb"/><stop offset="0.0443" stop-color="#8ab9fb"/><stop offset="0.0943" stop-color="#809cfc"/><stop offset="0.15" stop-color="#7c78fd"/><stop offset="0.196" stop-color="#7c61fe"/><stop offset="0.248" stop-color="#7e4fef"/><stop offset="0.313" stop-color="#8041e1"/><stop offset="0.421" stop-color="#8539d5"/><stop offset="0.558" stop-color="#8837d0"/><stop offset="1" stop-color="#8d43d8"/></linearGradient><linearGradient id="g2_1" gradientUnits="userSpaceOnUse" x1="226.4" x2="308.2" y1="0" y2="0"><stop offset="0" stop-color="#96c9fb"/><stop offset="0.0558" stop-color="#8cb6fb"/><stop offset="0.163" stop-color="#857cfd"/><stop offset="0.21" stop-color="#8568fe"/><stop offset="0.268" stop-color="#8656f1"/><stop offset="0.34" stop-color="#864ae5"/><stop offset="0.444" stop-color="#8843dc"/><stop offset="0.582" stop-color="#8a41d9"/><stop offset="1" stop-color="#904fe2"/></linearGradient><linearGradient id="g2_0" gradientUnits="userSpaceOnUse" x1="226.3" x2="307.7" y1="0" y2="0"><stop offset="0" stop-color="#97cafb"/><stop offset="0.062" stop-color="#90b8fb"/><stop offset="0.171" stop-color="#8d87fd"/><stop offset="0.224" stop-color="#8d73fd"/><stop offset="0.247" stop-color="#8d6cfe"/><stop offset="0.283" stop-color="#8d64f8"/><stop offset="0.355" stop-color="#8d59ee"/><stop offset="0.46" stop-color="#8e52e7"/><stop offset="0.593" stop-color="#8f51e4"/><stop offset="1" stop-color="#955fee"/></linearGradient></defs>
<g><path d="M328.4,124.2 329.9,124.7 330.8,123.5 329.2,123Z" fill="url(#g2_51)"/>
<path d="M321.1,122.9 329.3,125.4 330.1,124.4 322,121.7Z" fill="url(#g2_50)"/>
<path d="M314.8,122 328.7,126.1 329.5,125.2 321.3,122.7 315.7,120.8Z" fill="url(#g2_49)"/>
<path d="M309.1,121.2 328.1,126.7 328.9,125.9 315.1,121.7 310.1,120Z" fill="url(#g2_48)"/>
<path d="M303.9,120.6 327.5,127.2 328.3,126.5 309.4,121 304.9,119.4Z" fill="url(#g2_47)"/>
<path d="M298.8,120 307.2,122.4 326.9,127.6 327.7,127 305.2,120.7 299.8,118.8Z" fill="url(#g2_46)"/>
<path d="M294.1,119.6 303,122 326.3,127.9 327.1,127.5 302.5,120.8 299,119.8 295.1,118.4Z" fill="url(#g2_45)"/>
<path d="M290,119.4 299.3,121.8 325.7,128 326.5,127.8 299.8,120.9 294.9,119.5 291,118.2Z" fill="url(#g2_44)"/>
<path d="M285.8,119.1 290.2,120.3 295.6,121.5 315.5,125.8 325.1,128 325.9,128 297.1,121 290.2,119.1 286.9,117.9Z" fill="url(#g2_43)"/>
<path d="M281.7,118.9 286.5,120.1 291.9,121.3 313.3,125.4 324.6,127.8 325.3,128 316.8,126 293.9,120.9 286.1,118.9 282.8,117.7Z" fill="url(#g2_42)"/>
<path d="M278,118.8 282.8,120 288.2,121.1 311.1,124.9 317.5,126.1 324,127.4 324.8,127.9 314.6,125.7 297.1,122.2 290.7,120.8 282.9,118.9 279.1,117.6Z" fill="url(#g2_41)"/>
<path d="M274.4,118.7 279.2,119.9 284.5,120.9 289.9,121.7 302.6,123.3 309.4,124.3 316.4,125.4 323.4,126.8 324.2,127.6 312.4,125.2 293.9,122 287.5,120.8 279.8,118.9 278.3,118.5 275.5,117.5Z" fill="url(#g2_40)"/>
<path d="M270.7,118.6 275.5,119.8 280.8,120.7 286.1,121.3 299.8,122.6 307.2,123.4 315.2,124.6 322.9,126 323.6,127 317.1,125.7 310.1,124.5 290.2,121.6 284.3,120.7 280.4,119.9 276.6,119 274.7,118.5 271.8,117.5Z" fill="url(#g2_39)"/>
<path d="M268.9,118.6 274.1,119.8 279.4,120.7 284.8,121.2 298.4,122.2 305.8,122.9 314.4,124.1 322.6,125.5 323,126.2 315.3,124.8 307.3,123.6 300.4,122.8 286.8,121.4 280.9,120.6 274.7,119.5 271.4,118.7 269.5,118Z" fill="url(#g2_38)"/>
<path d="M267.6,118.7 272.3,119.8 277.5,120.6 282.9,121.1 297,121.8 304.9,122.4 313.5,123.5 322.4,125 322.7,125.7 314.5,124.2 306.4,123.1 299.1,122.4 284.9,121.2 279.5,120.6 276.2,120.1 273.3,119.6 270,118.8 268.1,118.2Z" fill="url(#g2_37)"/>
<path d="M265.7,118.7 270.4,119.8 275.7,120.5 281,120.9 296.1,121.4 304,121.9 308.9,122.4 313.2,122.9 322.1,124.4 322.5,125.2 314.2,123.7 305.5,122.6 297.7,122 283.5,121.1 277.7,120.6 274.3,120.1 271.5,119.5 268.2,118.7 266.3,118.1Z" fill="url(#g2_36)"/>
<path d="M263.9,118.7 266.7,119.4 269.1,119.9 274.3,120.5 279.6,120.8 294.2,120.9 302.6,121.3 307.5,121.7 312.4,122.2 316.8,122.9 321.9,123.7 322.2,124.6 313.3,123.1 309,122.6 304.2,122.1 296.3,121.5 281.6,121 275.8,120.5 272.5,120 269.6,119.5 266.4,118.7 264.5,118.1Z" fill="url(#g2_35)"/>
<path d="M262.6,118.8 265.4,119.5 268.2,120 271,120.4 273.9,120.6 279.2,120.7 294.9,120.4 299.6,120.5 304.4,120.8 308.8,121.2 312.6,121.6 317.1,122.3 321.6,123.1 321.9,124 316.9,123.1 312.5,122.4 308.1,121.9 303.3,121.5 294.9,121.1 279.8,120.8 274.4,120.5 271.6,120.2 268.8,119.7 265.5,118.9 263.1,118.2Z" fill="url(#g2_34)"/>
<path d="M260.7,118.8 263.5,119.5 266.3,120 269.2,120.3 272.5,120.5 277.8,120.5 293.5,119.8 298.7,119.9 303.6,120 307.9,120.4 312.3,120.9 316.8,121.5 321.3,122.3 321.7,123.3 316.6,122.4 312.2,121.8 307.3,121.2 302.4,120.9 294,120.6 278.4,120.7 272.6,120.4 269.7,120.1 266.9,119.7 263.6,118.9 261.3,118.2Z" fill="url(#g2_33)"/>
<path d="M259.4,118.9 262.2,119.6 265,120.1 267.8,120.4 271.1,120.5 276.4,120.3 286.9,119.5 292.1,119.2 297.3,119.1 302.2,119.2 307.1,119.6 311.5,120 316,120.6 321.1,121.5 321.4,122.6 315.8,121.6 310.8,120.9 305.9,120.4 301,120.2 296.8,120 292.6,120.1 276.5,120.6 271.2,120.4 268.4,120.2 265.6,119.7 262.7,119.1 260,118.3Z" fill="url(#g2_32)"/>
<path d="M258,119 260.8,119.7 263.6,120.1 266.4,120.4 269.7,120.4 275,120.1 285.5,119 290.6,118.6 295.9,118.4 301.3,118.4 306.2,118.7 310.6,119.1 315.7,119.8 320.8,120.7 321.2,121.8 315.5,120.8 310.5,120.2 305.5,119.7 300.1,119.4 295.9,119.4 291.1,119.5 275.1,120.5 272.2,120.5 269.4,120.4 266.5,120.2 263.7,119.7 260.9,119.1 258.6,118.4Z" fill="url(#g2_31)"/>
<path d="M256.2,119 259,119.7 261.8,120.2 264.6,120.4 267.9,120.4 273.1,120 284,118.5 289.2,118 294.5,117.6 299.8,117.5 304.8,117.7 309.8,118.1 314.9,118.8 320.6,119.8 320.9,121 315.2,120 309.6,119.3 304.7,118.9 299.2,118.7 295.5,118.7 291.3,118.8 286.1,119.2 274.7,120.3 271.3,120.4 268,120.4 265.2,120.2 262.3,119.8 259.6,119.2 256.8,118.4Z" fill="url(#g2_30)"/>
<path d="M254.8,119.1 257.6,119.8 260.4,120.2 263.2,120.4 266.5,120.4 271.7,119.8 282.6,118 287.8,117.3 293.6,116.8 299,116.6 303.9,116.8 309.5,117.2 314.6,117.9 320.3,118.9 320.7,120.1 315.5,119.2 310.4,118.5 305.4,118.1 301.1,117.9 295.7,117.9 290.4,118.1 285.2,118.6 273.3,120.1 268,120.4 264.7,120.4 261.4,120 258.7,119.5 255.4,118.5Z" fill="url(#g2_29)"/>
<path d="M253.5,119.2 256.2,119.9 259,120.3 261.8,120.5 265.1,120.4 267.4,120.1 270.3,119.7 281.2,117.5 286.3,116.6 292.1,115.9 297.5,115.7 303,115.8 308.6,116.2 314.3,117 320.1,118 320.4,119.3 314.7,118.2 309.6,117.5 304.6,117.1 299.6,116.9 294.2,117.1 288.4,117.5 283.3,118.2 271.9,119.9 266.6,120.4 263.3,120.4 260.5,120.2 257.3,119.6 254.1,118.7Z" fill="url(#g2_28)"/>
<path d="M251.6,119.2 254.9,120 257.6,120.4 260.4,120.5 263.2,120.4 265.6,120.1 268.4,119.6 279.7,116.9 285.4,115.8 291.2,115 296.6,114.7 302.1,114.7 307.7,115.1 313.4,115.9 319.8,117.1 320.1,118.4 314.4,117.3 309.3,116.6 303.7,116.1 298.7,116 293.3,116.2 287.5,116.8 281.8,117.6 270.5,119.8 267.6,120.2 264.8,120.4 261.5,120.4 258.7,120.2 255.5,119.6 252.2,118.6Z" fill="url(#g2_27)"/>
<path d="M250.3,119.3 253.5,120.1 256.3,120.5 259,120.6 261.8,120.4 264.2,120 267,119.4 278.3,116.4 283.4,115.2 289.2,114.2 291.9,113.9 295.1,113.7 300.7,113.6 306.8,114.1 313.1,114.9 319.5,116.2 319.9,117.4 314.1,116.3 308.4,115.5 302.8,115.1 297.3,115 291.9,115.3 286.1,116 280.4,117.1 269.1,119.6 266.2,120.1 263.4,120.4 260.1,120.5 257.3,120.3 254.1,119.7 250.9,118.8Z" fill="url(#g2_26)"/>
<path d="M248.9,119.5 252.1,120.3 254.9,120.6 257.6,120.7 260.4,120.4 262.7,120 265.6,119.3 276.8,115.8 282,114.4 287.7,113.3 291,112.9 293.7,112.7 296.4,112.6 299.8,112.6 302.6,112.7 306,113 312.3,113.9 319.3,115.3 319.6,116.5 313.2,115.3 307,114.4 301.3,114 295.8,114 289.9,114.5 284.1,115.4 278.4,116.6 267.6,119.4 264.8,120 262,120.4 258.7,120.6 256,120.4 252.7,119.8 249.5,118.9Z" fill="url(#g2_25)"/>
<path d="M247.5,119.6 250.7,120.4 253.5,120.7 256.2,120.7 259,120.4 261.3,119.9 264.2,119.1 275.4,115.2 281,113.6 284.1,112.8 286.8,112.3 290,111.9 292.7,111.6 295.5,111.5 298.8,111.5 301.6,111.6 305.1,111.9 308.5,112.4 312,112.9 319,114.5 319.3,115.6 312.9,114.3 306.6,113.4 300.4,113 294.9,113 291.6,113.2 288.9,113.5 283.1,114.5 277.5,115.9 265.7,119.4 262.9,120.1 260.6,120.4 257.3,120.7 254.6,120.5 251.4,119.9 248.2,119Z" fill="url(#g2_24)"/>
<path d="M246.2,119.7 249.4,120.5 252.1,120.9 254.9,120.8 257.6,120.5 259.9,119.9 262.7,119 273.4,114.9 279,113 282.1,112.1 285.3,111.5 288,111 291.3,110.7 294.6,110.5 297.4,110.5 300.7,110.6 304.1,110.9 307.6,111.4 311.1,112 314.6,112.7 318.7,113.8 319.1,114.8 312.1,113.3 305.7,112.3 302.3,112 299.5,111.9 296.2,111.9 293.4,112 290.7,112.2 287.5,112.6 284.8,113.1 281.7,113.8 276,115.4 264.3,119.3 261.5,120 259.2,120.5 256,120.8 253.2,120.6 250,120.1 246.8,119.1Z" fill="url(#g2_23)"/>
<path d="M244.8,119.8 248,120.7 250.7,121 253.5,120.9 256.2,120.5 258.5,119.9 261.3,118.9 272.4,114.2 278,112.1 281.2,111.2 284.4,110.5 287.6,109.9 290.3,109.6 293.1,109.5 296.4,109.4 299.8,109.6 303.2,109.9 306.7,110.4 310.7,111.2 314.3,112 318.4,113.1 318.8,114 311.8,112.4 308.3,111.8 304.8,111.3 301.4,111 298,110.8 294.7,110.8 291.9,111 289.2,111.3 286,111.7 282.8,112.4 279.7,113.2 274.1,115 262.9,119.2 260.1,120 257.8,120.5 254.6,120.8 251.8,120.8 248.6,120.2 245.4,119.3Z" fill="url(#g2_22)"/>
<path d="M243.9,120.1 246.6,120.8 249.4,121.1 252.1,121.1 254.8,120.6 257.1,119.9 259.9,118.8 271,113.6 274,112.4 276.5,111.4 279.7,110.5 282.8,109.7 285.5,109.1 288.8,108.7 292.1,108.5 295.5,108.5 298.9,108.7 302.3,109 305.7,109.6 309.8,110.4 313.9,111.5 318.1,112.7 318.5,113.3 314.4,112.2 310.9,111.4 307.4,110.8 303.9,110.3 300.5,110 297.1,109.8 294.3,109.8 291,110 287.7,110.3 285,110.8 281.8,111.5 278.7,112.3 273.1,114.3 261.5,119 258.7,120 256.4,120.5 254.5,120.8 253.2,121 250.4,120.9 247.7,120.5 244.5,119.6Z" fill="url(#g2_21)"/>
<path d="M242.5,120.3 245.2,121 248,121.3 250.7,121.2 253.4,120.7 255.7,119.9 258,119 269.5,113.2 272.5,111.8 275,110.8 278.2,109.7 281.3,108.9 284.6,108.2 287.8,107.8 291.2,107.6 295.1,107.7 298.5,107.9 302.5,108.5 307.1,109.4 311.2,110.5 315.9,112 317.7,113 318.2,112.8 314,111.6 310.5,110.7 306.5,109.9 303,109.4 299.6,109 296.2,108.8 292.8,108.8 289.5,109 286.8,109.3 283.5,109.9 280.4,110.7 277.2,111.6 274.7,112.5 271.6,113.8 260.1,119 257.3,120 255,120.6 253.2,120.9 251.8,121.1 249.1,121 246.3,120.6 243.1,119.7Z" fill="url(#g2_20)"/>
<path d="M241.1,120.4 243.9,121.1 246.6,121.5 249.3,121.3 252,120.8 254.3,120 256.6,119 268,112.8 271,111.3 274.1,110 277.7,108.8 280.9,107.9 284.1,107.3 287.4,107 291.9,106.9 295.8,107.1 300.4,107.8 304.4,108.7 309.6,111.3 317.2,115.4 317.8,112.6 313.7,111.3 309.6,110.1 305.5,109.2 302.1,108.6 298.6,108.2 294.7,107.9 291.3,107.9 288,108.1 285.3,108.5 282,109.1 278.9,109.9 275.7,111 272.7,112.2 269.6,113.5 258.6,118.9 255.9,120 253.6,120.7 250.9,121.2 248.1,121.2 246.8,121.1 245,120.7 241.8,119.8Z" fill="url(#g2_19)"/>
<path d="M239.8,120.5 242.5,121.3 245.2,121.6 246.6,121.6 247.9,121.5 250.6,120.9 252.9,120.1 255.1,119 266.5,112.4 270,110.6 273.1,109.3 276.7,108 279.9,107.2 283.1,106.7 287,106.4 289.2,106.4 291.5,106.5 293.7,106.7 294.8,106.9 299.9,109.3 305.1,111.8 316.6,117.8 317.3,114.5 308.6,109.8 305.1,108.9 300.5,107.9 296.5,107.4 292,107.1 288.1,107.2 284.8,107.6 281.6,108.1 278.4,108.9 274.7,110.2 271.7,111.4 268.7,112.8 257.2,118.9 254.5,120.1 252.2,120.8 249.5,121.3 246.8,121.4 244,121 240.4,120Z" fill="url(#g2_18)"/>
<path d="M238.8,120.8 241.6,121.5 244.3,121.8 246.5,121.7 247.9,121.5 249.2,121.1 251.5,120.2 253.7,119.1 265,112.2 268,110.5 271,109.1 274.7,107.8 277.8,106.9 281.1,106.4 284.3,106.1 286,106.2 291,108.1 296,110.2 304.6,114.3 316.1,120.2 316.8,116.9 306.4,111.5 301.8,109.2 297.8,107.4 295.6,107 292.7,106.6 289.9,106.5 287.1,106.5 283.3,106.9 280.1,107.5 276.9,108.3 273.2,109.6 270.2,111 267.2,112.5 255.8,118.9 253,120.2 250.8,121 248.1,121.5 246.7,121.6 245.4,121.6 242.7,121.2 239.5,120.2Z" fill="url(#g2_17)"/>
<path d="M237.5,121 240.2,121.7 242.9,122 244.2,122 245.6,121.9 246.9,121.6 248.3,121.1 250.5,120.2 252.7,118.9 262.6,112.6 265,111.1 267.5,109.8 270.6,108.5 273.1,107.6 275.8,106.9 277.9,106.6 280.6,107.2 285,108.6 288.9,110 293.3,111.8 297.8,113.8 302.9,116.3 315.6,122.7 316.3,119.4 304.7,113.4 299.6,110.9 295.1,108.8 288.9,106.3 288.4,106.2 285.6,106.2 282.3,106.4 278.5,107 275.4,107.9 271.7,109.2 268.7,110.6 265.7,112.1 256.6,117.6 253.9,119.2 251.6,120.3 249.4,121.1 248,121.5 246.7,121.7 245.3,121.8 244,121.7 241.3,121.3 238.1,120.4Z" fill="url(#g2_16)"/>
<path d="M236.5,121.3 239.3,122 240.6,122.2 242,122.3 243.3,122.2 244.6,122 246,121.7 247.3,121.2 249.5,120.1 251.8,118.8 260.1,113.2 264,110.8 267.5,109.1 269.6,108.3 271.1,107.9 274.8,108.4 279.1,109.4 283.5,110.8 288.4,112.6 294,114.9 299.6,117.5 306.4,120.8 315,125.2 315.7,121.8 304.2,115.9 295.7,111.9 291.8,110.2 287.9,108.7 285.2,107.7 280.8,106.3 278.1,106.6 275.4,107.1 272.3,108.1 269.2,109.3 266.7,110.6 263.7,112.2 252.9,119.1 250.7,120.3 248.4,121.2 247.1,121.6 245.7,121.8 244.4,122 243.1,122 240.4,121.6 237.2,120.7Z" fill="url(#g2_15)"/>
<path d="M235.6,121.6 238.3,122.3 240.6,122.5 242.8,122.4 245,121.8 247.2,120.9 249.5,119.6 251.7,118.2 258.6,113.3 261.1,111.8 263,110.8 265,109.9 268.6,110 272.8,110.6 277.1,111.5 281.9,113 286.8,114.7 292.4,117 298.5,119.8 305.9,123.3 314.5,127.7 315.2,124.3 307.1,120.2 300.9,117.1 295.2,114.5 290.2,112.3 285.8,110.6 281.4,109.2 277.1,108 273.4,107.4 271.8,107.7 269.7,108.4 267.7,109.2 265.2,110.5 260.8,113.1 252,119 249.7,120.2 247.5,121.2 246.1,121.7 244.8,122 243.5,122.2 242.1,122.2 240.8,122.1 239.4,121.9 236.3,121Z" fill="url(#g2_14)"/>
<path d="M234.2,121.7 236.9,122.5 239.2,122.7 241.4,122.6 243.2,122.3 245.4,121.4 248,120 250.3,118.5 256.2,114.3 259.1,112.6 259.6,112.4 260.6,112.3 263.1,112.2 265.6,112.2 268.2,112.4 272.4,113 276.6,114.1 281.5,115.6 286.4,117.4 291.9,119.6 298,122.4 305.4,125.9 314,130.2 314.7,126.8 305.5,122.2 298.1,118.6 291.4,115.6 285.9,113.4 281,111.7 276.1,110.4 271.9,109.6 267.2,109.1 264.7,110.1 261.7,111.7 258.4,113.8 250.5,119.2 248.3,120.5 246.1,121.5 244.7,121.9 243.4,122.2 242.1,122.4 240.7,122.4 239.4,122.3 238,122 234.9,121.1Z" fill="url(#g2_13)"/>
<path d="M233.3,122 235.6,122.7 237.4,123 239.1,123 240.9,122.8 243.1,122.2 245.8,120.9 248,119.5 254.3,115.2 257.2,114.7 260.7,114.4 263.7,114.4 267.3,114.7 271.5,115.4 275.7,116.5 280.5,118 285.4,119.8 290.9,122 297,124.8 304.3,128.2 313.4,132.7 314.1,129.3 305.6,125 298.2,121.5 292.1,118.7 286.5,116.4 281.6,114.6 276.8,113.2 272.5,112.2 268.4,111.6 264.8,111.4 261.2,111.5 259.3,112.6 257.4,113.8 250.9,118.3 248.2,120 245.6,121.4 243.4,122.2 241.1,122.6 238.9,122.6 236.7,122.2 234,121.4Z" fill="url(#g2_12)"/>
<path d="M232.4,122.3 234.6,123 236.9,123.3 238.6,123.3 240.4,123 242.2,122.4 244.4,121.4 249.7,118 251.6,117.5 254.4,116.9 257.3,116.6 260.3,116.5 263.3,116.6 266.9,117.1 271.1,117.9 275.3,119 280.1,120.6 284.9,122.4 290.4,124.7 296.5,127.4 312.9,135.2 313.6,131.8 304.5,127.3 297.2,123.9 291,121.1 285.5,118.9 280.7,117.1 275.8,115.6 271.6,114.5 268,113.9 264.4,113.6 261.3,113.6 258.4,113.9 255.9,114.3 253.6,115.8 248.6,119.3 246.4,120.7 243.7,122 241.5,122.7 239.8,122.9 237.5,122.8 235.3,122.4 233,121.7Z" fill="url(#g2_11)"/>
<path d="M231.4,122.6 233.7,123.3 235.5,123.6 237.3,123.6 238.6,123.5 239.9,123.2 241.7,122.5 243.4,121.7 245.6,120.5 246.1,120.3 250.7,119.2 254.5,118.7 257.5,118.6 260.4,118.7 263.4,119 266.5,119.4 270.1,120.2 274.3,121.4 279.1,123 284,124.8 289.4,127.1 295.5,129.7 312.4,137.6 313.1,134.3 296.7,126.5 290.6,123.8 285.1,121.5 280.2,119.7 275.4,118.1 271.2,117 267,116.2 263,115.8 259,115.8 255.5,116.1 251.7,116.9 251.2,117.1 246.7,120.1 244.1,121.6 241.9,122.5 239.7,123.1 237.9,123.2 236.1,123.1 234.3,122.7 232.1,122Z" fill="url(#g2_10)"/>
<path d="M230.5,122.9 232.3,123.5 233.7,123.8 235.4,123.9 236.8,123.9 239,123.5 242,122.4 246.1,121.5 249.8,120.9 253.7,120.6 256.6,120.6 259.5,120.8 262.6,121.2 265.6,121.7 269.7,122.7 273.9,124 278.7,125.6 283.5,127.4 288.9,129.7 295,132.3 311.9,140.1 312.6,136.8 295.6,128.8 289.6,126.2 284.1,123.9 279.3,122.1 274.5,120.5 270.3,119.4 266.6,118.6 262.6,118 259.1,117.9 255.6,118 252.3,118.4 249.9,118.9 247.1,119.6 244,121.4 242.3,122.3 240.1,123.1 238.3,123.4 237,123.5 235.2,123.4 233.4,123 231.2,122.3Z" fill="url(#g2_9)"/>
<path d="M229.6,123.3 232.7,124.1 234.1,124.3 235.4,124.3 236.7,124.2 238.5,123.9 247.1,122.7 250.4,122.5 253.3,122.5 256.2,122.6 259.2,122.9 262.2,123.4 265.2,124.1 268.8,125 273,126.3 277.7,128 282.5,129.8 294.5,134.9 311.3,142.5 312,139.2 295.2,131.4 289.1,128.8 283.7,126.5 278.8,124.7 274.1,123.1 269.9,121.9 265.7,120.9 262.7,120.4 259.7,120 256.7,119.9 254.3,119.9 250,120.4 245.8,121.2 243.1,121.9 241.3,122.7 239.6,123.3 237.4,123.8 236.1,123.8 234.3,123.7 232.5,123.3 230.2,122.6Z" fill="url(#g2_8)"/>
<path d="M229.1,123.7 231.8,124.4 234,124.7 238,124.7 247.6,124.2 250.5,124.2 252.9,124.3 255.3,124.5 258.3,125 261.3,125.6 264.3,126.3 268.4,127.4 272.6,128.8 277.3,130.5 282.1,132.3 293.5,137.1 310.8,144.8 311.5,141.6 294.7,134 283.2,129.1 278.4,127.3 273.7,125.6 269.5,124.3 265.4,123.3 262.3,122.6 259.3,122.2 256.3,121.9 253.4,121.8 250.1,121.9 246.8,122.3 240,123.4 237.8,123.9 236,124.1 234.7,124.2 232.9,123.9 229.7,123.1Z" fill="url(#g2_7)"/>
<path d="M228.1,124 230.8,124.8 234.9,125.4 238,125.5 246.8,125.6 249.6,125.8 252.5,126.1 257.9,127 263.9,128.5 267.5,129.6 271.7,131 281.1,134.5 293,139.5 310.3,147.1 311,144 293.7,136.2 282.3,131.4 277.5,129.6 272.7,127.9 268.6,126.6 264.5,125.5 261.4,124.8 258.4,124.2 255.5,123.9 253,123.7 250.1,123.6 247.3,123.6 239.1,124.3 234.6,124.5 233.3,124.5 231.9,124.3 228.8,123.4Z" fill="url(#g2_6)"/>
<path d="M227.6,124.5 231.3,125.5 234.4,126.1 237.6,126.4 245.9,127.1 251.6,127.8 257,128.9 263.1,130.6 271.3,133.3 280.7,136.9 292,141.6 309.8,149.2 310.5,146.3 293.2,138.7 281.8,133.9 272.3,130.3 268.2,129 264.1,127.7 258,126.3 252.6,125.5 249.8,125.2 246.9,125.1 238.2,125.2 235,125.1 231.5,124.7 228.3,123.9Z" fill="url(#g2_5)"/>
<path d="M227.2,125 230.3,126 233.9,126.8 245,128.4 250.8,129.4 256.7,130.8 262.7,132.6 270.3,135.3 279.8,138.9 291.6,143.8 309.3,151.3 310,148.5 292.7,141 280.9,136.1 271.4,132.5 267.3,131.1 263.2,129.8 257.2,128.2 251.8,127.2 246.1,126.6 237.7,126.1 234.6,125.8 231.4,125.3 227.8,124.4Z" fill="url(#g2_4)"/>
<path d="M226.7,125.5 229.8,126.5 233,127.4 244.6,129.7 250.4,131 255.8,132.5 261.8,134.4 269.4,137.1 278.8,140.8 290.6,145.6 308.9,153.2 309.5,150.6 291.7,143 279.9,138.1 270.5,134.5 262.8,131.9 256.8,130.2 251.4,128.9 245.6,128 234.1,126.5 230.5,125.8 227.3,124.8Z" fill="url(#g2_3)"/>
<path d="M226.2,126 229.4,127.1 232.6,128 243.7,130.8 249.5,132.3 254.9,134 260.9,136 268.5,138.8 277.9,142.5 308.4,155 309,152.6 290.7,144.9 279,140.1 269.6,136.4 261.9,133.7 255.9,131.9 250.5,130.5 244.8,129.2 233.2,127.1 230,126.3 226.8,125.3Z" fill="url(#g2_2)"/>
<path d="M226.1,126.7 232.1,128.7 248.1,133.4 254,135.3 260,137.4 267.6,140.3 276.9,144 307.9,156.6 308.6,154.4 278,141.8 268.6,138.2 261,135.4 255,133.4 249.6,131.8 243.9,130.4 232.7,127.8 229.5,126.9 226.8,126Z" fill="url(#g2_1)"/>
<path d="M226.1,127.4 307.4,159.3 308.1,156 277.1,143.4 267.7,139.7 260.1,136.9 254.1,134.8 248.3,132.9 243,131.4 232.2,128.4 226.8,126.7Z" fill="url(#g2_0)"/></g>
<path d="M217,123.9 220.2,120.8M221.8,119.3 270.5,72.7M215.7,118 220,119.6M222.1,120.5 227.5,122.5 230,123.4 232.2,124 234,124.3 235.4,124.3 236.4,124.2 238.6,123.8 247.3,122.7 249.9,122.5 252.2,122.5 255.7,122.6 258.9,122.9 262.1,123.4 265.7,124.2 269.4,125.2 273.6,126.5 278.3,128.2 283,130 288.6,132.3 294.7,135 311.3,142.5M222.4,126 229.5,119.1M231,117.6 275.3,74.1M219.7,114.3 229.2,117.9M231.3,118.7 235.7,120.4 238.2,121.2 240.4,121.8 242.5,122M274.8,107.1 276.5,106.8 278.2,106.6 283.5,108.1 288.8,109.9 294.1,112.1 300,114.8 306.8,118.2 315.6,122.7M227.9,128.1 228.2,127.7 230.8,124.9 234.7,121.3 238.6,117.4M240.1,115.9 280.1,75.6M223.5,110.8 238.3,116.2M240.5,117 247.4,119.5M233.5,130.3 233.7,129.5 234.9,127.6 236.9,124.4 237.7,123.8 240.6,122.2 242.1,121.1 244.3,119.1 247.7,115.7M249.1,114.2 285,77.1M227.3,107.3 247.3,114.5M249.5,115.3 252.4,116.4M239.2,132.5 239.3,131.2 240.7,128.1 243,122.1 243.2,121.8 243.5,121.7M258,112.6 289.9,78.6M230.9,103.8 256.2,112.9M244.9,134.8 245,133 245.7,131.1 246.6,128.2 249.1,118.6 249.3,118.3M268.9,108.6 294.9,80.1M234.5,100.5 263.2,110.6M324.6,127.8 325.4,128M250.7,137.1 250.8,134.9 251.5,132.7 252.3,129.3 255.4,114.6M277.8,106.5 300,81.6M237.9,97.3 269.6,108.2M322.8,125.5 327.8,127M256.6,139.4 256.8,137 257.6,133.7 258.5,129.7 261.7,111.5M285.3,106.1 305.1,83.1M241.3,94.1 277.8,106.5M321.2,121.3 330.2,124.3M262.6,141.7 262.8,139.2 263.4,136.7 264.3,132.6 268.3,109.1 268.5,108.7M292.4,106.1 310.3,84.7M244.6,91 290.7,106.5M319.5,116.1 332.8,120.5M268.7,144.1 268.9,141.6 269.8,138 270.7,133.5 275,107.3 275.2,107M298.6,107.3 299.7,105.9M300.8,104.6 315.6,86.3M247.9,88 299.1,104.9M301.4,105.6 335.2,116.8M274.9,146.6 275.1,144.1 276,140.4 276.9,135.9 281.7,107.5 281.9,106.2 282.2,106.3M304.6,108.7 308,104.4M309.1,103 320.9,87.9M251,85.1 307.4,103.3M309.7,104.1 337.6,113.1M281.2,149 281.5,146.6 282.4,142.9 283.5,137.2 288.1,111.1 288.8,107.1 289,106.3M310.7,110.2 316.2,102.8M317.2,101.5 326.3,89.5M254.1,82.2 315.6,101.8M317.9,102.5 339.9,109.6M287.6,151.5 287.9,149.2 289,144.5 290.2,138.6 296,107.1 296.3,107.1M316.5,112.1 324.4,101.3M325.3,100 331.8,91.2M257.1,79.4 323.7,100.3M326,101 342.2,106.1M294.1,154.1 294.4,151.8 295.6,147.2 297.1,140.2 303.1,109 303.3,108.4 303.6,108.6M320,117.5 332.4,99.8M333.3,98.5 337.3,92.8M260.1,76.6 331.7,98.8M334,99.5 344.4,102.7M300.7,156.6 301,154.5 302.2,150 303.8,143.2 310.3,111.2 310.5,110.3 310.7,110.4M322.2,124.6 323.6,123 340.4,98.3M341.2,97 343,94.5M263,73.9 339.7,97.3M341.9,98 346.5,99.4" stroke="#0b1f4a" stroke-opacity="0.32" stroke-width="0.4" fill="none"/>
<line x1="211.7" y1="121.8" x2="307.4" y2="159.3" stroke="#c2c2c2" stroke-width="0.5"/>
<line x1="307.4" y1="159.3" x2="348.6" y2="96.2" stroke="#c2c2c2" stroke-width="0.5"/>
<line x1="211.7" y1="121.8" x2="206.2" y2="87.3" stroke="#c2c2c2" stroke-width="0.5"/>
<line x1="307.4" y1="159.3" x2="309.5" y2="123.2" stroke="#ffffff" stroke-width="0.4" stroke-opacity="0.1"/>
<line x1="206.2" y1="87.3" x2="309.5" y2="123.2" stroke="#ffffff" stroke-width="0.4" stroke-opacity="0.1"/>
<line x1="309.5" y1="123.2" x2="353.1" y2="63.3" stroke="#ffffff" stroke-width="0.4" stroke-opacity="0.1"/>
<text x="209.5" y="129.5" text-anchor="middle" class="t3">0</text>
<text x="311.6" y="162.1" text-anchor="middle" class="t3">0</text>
<text x="238.6" y="140.9" text-anchor="middle" class="t3">1</text>
<text x="327.1" y="138.9" text-anchor="middle" class="t3">1</text>
<text x="270.1" y="153.2" text-anchor="middle" class="t3">2</text>
<text x="340.4" y="119.4" text-anchor="middle" class="t3">2</text>
<text x="302.6" y="166.7" text-anchor="middle" class="t3">3</text>
<text x="351.9" y="101.5" text-anchor="middle" class="t3">3</text>
<text x="247.3" y="153.0" text-anchor="middle" class="al"><tspan font-style="italic">u</tspan><tspan dy="1" font-size="3.9">1</tspan></text>
<text x="342.3" y="131.6" text-anchor="middle" class="al"><tspan font-style="italic">u</tspan><tspan dy="1" font-size="3.9">2</tspan></text>
<text x="209.2" y="121.2" text-anchor="end" class="t3">0.0</text>
<text x="207.5" y="110.7" text-anchor="end" class="t3">0.1</text>
<text x="205.8" y="99.7" text-anchor="end" class="t3">0.2</text>
<text x="204.0" y="88.2" text-anchor="end" class="t3">0.3</text>
<text x="233.4" y="37.7" class="tt"><tspan font-style="italic">β</tspan><tspan class="sb" dy="1.4">0</tspan><tspan dy="-1.4">=</tspan>2</text><text x="252.2" y="37.7" class="tt"><tspan font-style="italic">β</tspan><tspan class="sb" dy="1.4">1</tspan><tspan dy="-1.4">=</tspan><tspan font-style="italic">β</tspan><tspan class="sb" dy="1.4">2</tspan><tspan dy="-1.4">=</tspan>4</text><text x="285.6" y="37.7" class="tt"><tspan font-style="italic">α</tspan><tspan class="sb" dy="1.4">0</tspan><tspan dy="-1.4">=</tspan><tspan font-style="italic">α</tspan><tspan class="sb" dy="1.4">1</tspan><tspan dy="-1.4">=</tspan><tspan font-style="italic">α</tspan><tspan class="sb" dy="1.4">2</tspan><tspan dy="-1.4">=</tspan>5</text></g>
<g id="s3"><line x1="393.9" y1="120.6" x2="487.1" y2="157.2" stroke="#d6d6d6" stroke-width="0.5"/>
<line x1="487.1" y1="157.2" x2="527.3" y2="95.7" stroke="#d6d6d6" stroke-width="0.5"/>
<line x1="527.3" y1="95.7" x2="446.6" y2="71.4" stroke="#d6d6d6" stroke-width="0.5"/>
<line x1="446.6" y1="71.4" x2="393.9" y2="120.6" stroke="#d6d6d6" stroke-width="0.5"/>
<line x1="393.9" y1="120.6" x2="388.6" y2="87.1" stroke="#d6d6d6" stroke-width="0.5"/>
<line x1="446.6" y1="71.4" x2="445.5" y2="41.1" stroke="#d6d6d6" stroke-width="0.5"/>
<line x1="527.3" y1="95.7" x2="531.7" y2="63.6" stroke="#d6d6d6" stroke-width="0.5"/>
<line x1="388.6" y1="87.1" x2="445.5" y2="41.1" stroke="#d6d6d6" stroke-width="0.5"/>
<line x1="445.5" y1="41.1" x2="531.7" y2="63.6" stroke="#d6d6d6" stroke-width="0.5"/>
<line x1="487.1" y1="157.2" x2="489.2" y2="122.0" stroke="#d6d6d6" stroke-width="0.5"/>
<line x1="388.6" y1="87.1" x2="489.2" y2="122.0" stroke="#d6d6d6" stroke-width="0.5"/>
<line x1="489.2" y1="122.0" x2="531.7" y2="63.6" stroke="#d6d6d6" stroke-width="0.5"/>
<path d="M393.9,120.6 487.1,157.2 487.2,157.1 436.5,137.2 423.7,132 421.4,130.4 420.3,129.4 419.6,128.5 419,127.6 418.7,126.6 418.6,125.7 418.6,125.4 418.7,125.2 419.6,124.7 420.9,124.1 424.1,123.1 428.1,122.1 432.7,121.3 437.5,120.7 443.5,120.2 449.6,119.8 455.6,119.7 462.2,119.7 468.3,119.8 474.7,120.1 481.4,120.6 487.9,121.2 494.5,121.9 501.6,122.9 508.8,124 527.3,95.7 446.6,71.4 393.9,120.6Z" fill="#9dd0fb" fill-rule="evenodd"/>
<line x1="393.9" y1="120.6" x2="527.3" y2="95.7" stroke="#fff" stroke-width="1.5"/>
<defs><linearGradient id="g3_51" gradientUnits="userSpaceOnUse" x1="504.8" x2="509.4" y1="0" y2="0"><stop offset="0" stop-color="#9dd0fb"/><stop offset="0.11" stop-color="#9cd3fa"/><stop offset="0.221" stop-color="#8fd4fa"/><stop offset="1" stop-color="#8dd4fa"/></linearGradient><linearGradient id="g3_50" gradientUnits="userSpaceOnUse" x1="499.2" x2="508.8" y1="0" y2="0"><stop offset="0" stop-color="#9dd0fb"/><stop offset="0.0519" stop-color="#8ed3fa"/><stop offset="1" stop-color="#88d5fa"/></linearGradient><linearGradient id="g3_49" gradientUnits="userSpaceOnUse" x1="493.7" x2="508.2" y1="0" y2="0"><stop offset="0" stop-color="#9dd0fb"/><stop offset="0.0337" stop-color="#9dd0fb"/><stop offset="0.0676" stop-color="#8dd3fa"/><stop offset="1" stop-color="#83d5fa"/></linearGradient><linearGradient id="g3_48" gradientUnits="userSpaceOnUse" x1="489.1" x2="507.6" y1="0" y2="0"><stop offset="0" stop-color="#9dd0fb"/><stop offset="0.0263" stop-color="#8dd2fa"/><stop offset="1" stop-color="#7dd4fa"/></linearGradient><linearGradient id="g3_47" gradientUnits="userSpaceOnUse" x1="484.1" x2="507.0" y1="0" y2="0"><stop offset="0" stop-color="#9dd0fb"/><stop offset="0.021" stop-color="#9cd3fa"/><stop offset="0.0421" stop-color="#8cd2fa"/><stop offset="0.601" stop-color="#7dd3fa"/><stop offset="1" stop-color="#77d3fa"/></linearGradient><linearGradient id="g3_46" gradientUnits="userSpaceOnUse" x1="480.0" x2="506.4" y1="0" y2="0"><stop offset="0" stop-color="#9dd0fb"/><stop offset="0.0182" stop-color="#8cd2fb"/><stop offset="0.294" stop-color="#80d2fb"/><stop offset="0.594" stop-color="#76d1fb"/><stop offset="0.825" stop-color="#76d0fb"/><stop offset="1" stop-color="#76d0f5"/></linearGradient><linearGradient id="g3_45" gradientUnits="userSpaceOnUse" x1="475.5" x2="505.8" y1="0" y2="0"><stop offset="0" stop-color="#9dd0fb"/><stop offset="0.0157" stop-color="#8cd1fb"/><stop offset="0.415" stop-color="#76d0fb"/><stop offset="0.645" stop-color="#75cefb"/><stop offset="1" stop-color="#75ccec"/></linearGradient><linearGradient id="g3_44" gradientUnits="userSpaceOnUse" x1="471.4" x2="505.3" y1="0" y2="0"><stop offset="0" stop-color="#9dd0fb"/><stop offset="0.014" stop-color="#8cd1fb"/><stop offset="0.327" stop-color="#76cffb"/><stop offset="0.531" stop-color="#75ccfa"/><stop offset="0.892" stop-color="#74c9e7"/><stop offset="0.907" stop-color="#432b5c"/><stop offset="1" stop-color="#432b5c"/></linearGradient><linearGradient id="g3_43" gradientUnits="userSpaceOnUse" x1="467.9" x2="504.7" y1="0" y2="0"><stop offset="0" stop-color="#9cd2fa"/><stop offset="0.0128" stop-color="#8cd1fb"/><stop offset="0.246" stop-color="#76cefb"/><stop offset="0.431" stop-color="#74cafb"/><stop offset="0.69" stop-color="#73c6e8"/><stop offset="0.704" stop-color="#432b5c"/><stop offset="1" stop-color="#432b5c"/></linearGradient><linearGradient id="g3_42" gradientUnits="userSpaceOnUse" x1="464.3" x2="504.2" y1="0" y2="0"><stop offset="0" stop-color="#8dd0fb"/><stop offset="0.202" stop-color="#75cdfb"/><stop offset="0.372" stop-color="#74c8fb"/><stop offset="0.546" stop-color="#72c3eb"/><stop offset="0.559" stop-color="#432b5c"/><stop offset="1" stop-color="#432b5c"/></linearGradient><linearGradient id="g3_41" gradientUnits="userSpaceOnUse" x1="460.8" x2="503.6" y1="0" y2="0"><stop offset="0" stop-color="#8ed0fb"/><stop offset="0.175" stop-color="#75ccfb"/><stop offset="0.321" stop-color="#73c6fb"/><stop offset="0.458" stop-color="#71c1ec"/><stop offset="0.47" stop-color="#432b5c"/><stop offset="1" stop-color="#432b5c"/></linearGradient><linearGradient id="g3_40" gradientUnits="userSpaceOnUse" x1="457.2" x2="503.1" y1="0" y2="0"><stop offset="0" stop-color="#8fd0fb"/><stop offset="0.153" stop-color="#75cbfb"/><stop offset="0.288" stop-color="#72c4fb"/><stop offset="0.394" stop-color="#71beed"/><stop offset="0.404" stop-color="#432b5c"/><stop offset="1" stop-color="#432b5c"/></linearGradient><linearGradient id="g3_39" gradientUnits="userSpaceOnUse" x1="453.6" x2="502.6" y1="0" y2="0"><stop offset="0" stop-color="#90d0fb"/><stop offset="0.142" stop-color="#74cbfb"/><stop offset="0.258" stop-color="#72c2fb"/><stop offset="0.347" stop-color="#70bced"/><stop offset="0.357" stop-color="#432b5c"/><stop offset="1" stop-color="#432b5c"/></linearGradient><linearGradient id="g3_38" gradientUnits="userSpaceOnUse" x1="452.1" x2="502.2" y1="0" y2="0"><stop offset="0" stop-color="#8ecffb"/><stop offset="0.12" stop-color="#74cafb"/><stop offset="0.233" stop-color="#71c0fb"/><stop offset="0.3" stop-color="#6fbaef"/><stop offset="0.31" stop-color="#432b5c"/><stop offset="1" stop-color="#432b5c"/></linearGradient><linearGradient id="g3_37" gradientUnits="userSpaceOnUse" x1="450.3" x2="502.0" y1="0" y2="0"><stop offset="0" stop-color="#8fcffb"/><stop offset="0.116" stop-color="#74cafb"/><stop offset="0.226" stop-color="#71bffb"/><stop offset="0.281" stop-color="#6fbaf0"/><stop offset="0.29" stop-color="#432b5c"/><stop offset="1" stop-color="#432b5c"/></linearGradient><linearGradient id="g3_36" gradientUnits="userSpaceOnUse" x1="449.0" x2="501.7" y1="0" y2="0"><stop offset="0" stop-color="#8ecffb"/><stop offset="0.105" stop-color="#74c9fb"/><stop offset="0.212" stop-color="#71bffb"/><stop offset="0.266" stop-color="#6fb8f0"/><stop offset="0.275" stop-color="#432b5c"/><stop offset="1" stop-color="#432b5c"/></linearGradient><linearGradient id="g3_35" gradientUnits="userSpaceOnUse" x1="447.2" x2="501.5" y1="0" y2="0"><stop offset="0" stop-color="#8fcffb"/><stop offset="0.102" stop-color="#74c9fb"/><stop offset="0.205" stop-color="#71befb"/><stop offset="0.258" stop-color="#6fb7f0"/><stop offset="0.266" stop-color="#432b5c"/><stop offset="1" stop-color="#432b5c"/></linearGradient><linearGradient id="g3_34" gradientUnits="userSpaceOnUse" x1="445.9" x2="501.2" y1="0" y2="0"><stop offset="0" stop-color="#8fcffb"/><stop offset="0.0996" stop-color="#74c9fb"/><stop offset="0.192" stop-color="#70bdfb"/><stop offset="0.243" stop-color="#6eb6f0"/><stop offset="0.252" stop-color="#432b5c"/><stop offset="1" stop-color="#432b5c"/></linearGradient><linearGradient id="g3_33" gradientUnits="userSpaceOnUse" x1="444.1" x2="501.0" y1="0" y2="0"><stop offset="0" stop-color="#91cffb"/><stop offset="0.0967" stop-color="#74c9fb"/><stop offset="0.195" stop-color="#70bbfb"/><stop offset="0.236" stop-color="#6eb5f1"/><stop offset="0.244" stop-color="#432b5c"/><stop offset="1" stop-color="#432b5c"/></linearGradient><linearGradient id="g3_32" gradientUnits="userSpaceOnUse" x1="442.8" x2="500.7" y1="0" y2="0"><stop offset="0" stop-color="#90cffb"/><stop offset="0.0947" stop-color="#74c8fb"/><stop offset="0.183" stop-color="#70bbfb"/><stop offset="0.223" stop-color="#6eb4f1"/><stop offset="0.231" stop-color="#432b5c"/><stop offset="1" stop-color="#432b5c"/></linearGradient><linearGradient id="g3_31" gradientUnits="userSpaceOnUse" x1="441.5" x2="500.5" y1="0" y2="0"><stop offset="0" stop-color="#90cffb"/><stop offset="0.0851" stop-color="#75c8fb"/><stop offset="0.179" stop-color="#6fb9fb"/><stop offset="0.211" stop-color="#6db4f2"/><stop offset="0.219" stop-color="#432b5c"/><stop offset="1" stop-color="#432b5c"/></linearGradient><linearGradient id="g3_30" gradientUnits="userSpaceOnUse" x1="440.1" x2="500.2" y1="0" y2="0"><stop offset="0" stop-color="#90cffb"/><stop offset="0.0834" stop-color="#73c8fb"/><stop offset="0.168" stop-color="#6fb9fb"/><stop offset="0.199" stop-color="#6db3f3"/><stop offset="0.207" stop-color="#432b5c"/><stop offset="1" stop-color="#432b5c"/></linearGradient><linearGradient id="g3_29" gradientUnits="userSpaceOnUse" x1="438.4" x2="500.0" y1="0" y2="0"><stop offset="0" stop-color="#92cffb"/><stop offset="0.0885" stop-color="#73c7fb"/><stop offset="0.171" stop-color="#6fb8fb"/><stop offset="0.201" stop-color="#6db1f3"/><stop offset="0.208" stop-color="#432b5c"/><stop offset="1" stop-color="#432b5c"/></linearGradient><linearGradient id="g3_28" gradientUnits="userSpaceOnUse" x1="437.0" x2="499.7" y1="0" y2="0"><stop offset="0" stop-color="#92cffb"/><stop offset="0.0869" stop-color="#73c7fb"/><stop offset="0.167" stop-color="#6eb6fb"/><stop offset="0.19" stop-color="#6db1f4"/><stop offset="0.197" stop-color="#432b5c"/><stop offset="1" stop-color="#432b5c"/></linearGradient><linearGradient id="g3_27" gradientUnits="userSpaceOnUse" x1="435.7" x2="499.5" y1="0" y2="0"><stop offset="0" stop-color="#93cffb"/><stop offset="0.0853" stop-color="#73c6fb"/><stop offset="0.164" stop-color="#6eb5fb"/><stop offset="0.186" stop-color="#6caff4"/><stop offset="0.193" stop-color="#432b5c"/><stop offset="1" stop-color="#432b5c"/></linearGradient><linearGradient id="g3_26" gradientUnits="userSpaceOnUse" x1="434.4" x2="499.2" y1="0" y2="0"><stop offset="0" stop-color="#93cffb"/><stop offset="0.0837" stop-color="#73c6fb"/><stop offset="0.161" stop-color="#6db3fb"/><stop offset="0.183" stop-color="#6caef4"/><stop offset="0.19" stop-color="#432b5c"/><stop offset="1" stop-color="#432b5c"/></linearGradient><linearGradient id="g3_25" gradientUnits="userSpaceOnUse" x1="433.0" x2="499.0" y1="0" y2="0"><stop offset="0" stop-color="#93cffb"/><stop offset="0.0823" stop-color="#73c5fb"/><stop offset="0.158" stop-color="#6db2fb"/><stop offset="0.179" stop-color="#6bacf4"/><stop offset="0.186" stop-color="#432b5c"/><stop offset="1" stop-color="#432b5c"/></linearGradient><linearGradient id="g3_24" gradientUnits="userSpaceOnUse" x1="432.2" x2="498.7" y1="0" y2="0"><stop offset="0" stop-color="#92cefb"/><stop offset="0.0746" stop-color="#73c5fb"/><stop offset="0.15" stop-color="#6db1fb"/><stop offset="0.171" stop-color="#6babf4"/><stop offset="0.177" stop-color="#432b5c"/><stop offset="1" stop-color="#432b5c"/></linearGradient><linearGradient id="g3_23" gradientUnits="userSpaceOnUse" x1="430.8" x2="498.4" y1="0" y2="0"><stop offset="0" stop-color="#92cefb"/><stop offset="0.0734" stop-color="#73c5fb"/><stop offset="0.147" stop-color="#6cb0fc"/><stop offset="0.168" stop-color="#6aaaf4"/><stop offset="0.174" stop-color="#432b5c"/><stop offset="1" stop-color="#432b5c"/></linearGradient><linearGradient id="g3_22" gradientUnits="userSpaceOnUse" x1="429.5" x2="498.1" y1="0" y2="0"><stop offset="0" stop-color="#93cefb"/><stop offset="0.0327" stop-color="#87cbfb"/><stop offset="0.0722" stop-color="#73c5fb"/><stop offset="0.145" stop-color="#6caffc"/><stop offset="0.165" stop-color="#6aa8f5"/><stop offset="0.171" stop-color="#432b5c"/><stop offset="1" stop-color="#432b5c"/></linearGradient><linearGradient id="g3_21" gradientUnits="userSpaceOnUse" x1="428.1" x2="497.6" y1="0" y2="0"><stop offset="0" stop-color="#94cefb"/><stop offset="0.0711" stop-color="#73c4fb"/><stop offset="0.149" stop-color="#6bacfb"/><stop offset="0.162" stop-color="#6aa8f6"/><stop offset="0.169" stop-color="#432b5c"/><stop offset="0.901" stop-color="#432b5c"/><stop offset="0.909" stop-color="#72c3ed"/><stop offset="0.926" stop-color="#74c8fb"/><stop offset="0.934" stop-color="#76c9fb"/><stop offset="0.943" stop-color="#803ddd"/><stop offset="0.951" stop-color="#8f30b6"/><stop offset="0.959" stop-color="#8b30c7"/><stop offset="0.967" stop-color="#9034c6"/><stop offset="0.992" stop-color="#8f34c7"/><stop offset="1" stop-color="#5930d0"/></linearGradient><linearGradient id="g3_20" gradientUnits="userSpaceOnUse" x1="427.2" x2="497.1" y1="0" y2="0"><stop offset="0" stop-color="#93cefb"/><stop offset="0.0707" stop-color="#72c3fb"/><stop offset="0.142" stop-color="#6bacfc"/><stop offset="0.155" stop-color="#6aa7f8"/><stop offset="0.161" stop-color="#432b5c"/><stop offset="0.79" stop-color="#432b5c"/><stop offset="0.798" stop-color="#6db3f2"/><stop offset="0.806" stop-color="#6eb6fa"/><stop offset="0.814" stop-color="#6babfc"/><stop offset="0.822" stop-color="#5930e5"/><stop offset="0.83" stop-color="#8a30b5"/><stop offset="0.838" stop-color="#8430c8"/><stop offset="0.846" stop-color="#8930c8"/><stop offset="0.992" stop-color="#8f33c6"/><stop offset="1" stop-color="#8130c9"/></linearGradient><linearGradient id="g3_19" gradientUnits="userSpaceOnUse" x1="425.9" x2="496.6" y1="0" y2="0"><stop offset="0" stop-color="#94cefb"/><stop offset="0.0697" stop-color="#72c3fb"/><stop offset="0.146" stop-color="#6aa9fc"/><stop offset="0.159" stop-color="#69a4f7"/><stop offset="0.165" stop-color="#432b5c"/><stop offset="0.7" stop-color="#432b5c"/><stop offset="0.707" stop-color="#68a0fc"/><stop offset="0.715" stop-color="#5868fe"/><stop offset="0.723" stop-color="#8830be"/><stop offset="0.731" stop-color="#8030ca"/><stop offset="0.738" stop-color="#8330ca"/><stop offset="0.754" stop-color="#7f30cb"/><stop offset="0.984" stop-color="#8e32c5"/><stop offset="0.992" stop-color="#8e32c5"/><stop offset="1" stop-color="#8830c7"/></linearGradient><linearGradient id="g3_18" gradientUnits="userSpaceOnUse" x1="425.0" x2="496.1" y1="0" y2="0"><stop offset="0" stop-color="#93cefb"/><stop offset="0.063" stop-color="#73c3fb"/><stop offset="0.145" stop-color="#69a6fc"/><stop offset="0.158" stop-color="#68a1f7"/><stop offset="0.164" stop-color="#432b5c"/><stop offset="0.603" stop-color="#432b5c"/><stop offset="0.611" stop-color="#6494f9"/><stop offset="0.619" stop-color="#6392fc"/><stop offset="0.626" stop-color="#7d33d6"/><stop offset="0.634" stop-color="#7230cf"/><stop offset="0.649" stop-color="#7b30cd"/><stop offset="0.672" stop-color="#7d30cd"/><stop offset="0.928" stop-color="#8c30c5"/><stop offset="0.992" stop-color="#8e31c4"/><stop offset="1" stop-color="#8a30c5"/></linearGradient><linearGradient id="g3_17" gradientUnits="userSpaceOnUse" x1="423.7" x2="495.6" y1="0" y2="0"><stop offset="0" stop-color="#94cefb"/><stop offset="0.0311" stop-color="#88cafb"/><stop offset="0.0684" stop-color="#72c2fb"/><stop offset="0.143" stop-color="#69a6fc"/><stop offset="0.162" stop-color="#679ef7"/><stop offset="0.168" stop-color="#432b5c"/><stop offset="0.529" stop-color="#432b5c"/><stop offset="0.536" stop-color="#5f83fd"/><stop offset="0.543" stop-color="#4b36f9"/><stop offset="0.55" stop-color="#6e30d1"/><stop offset="0.565" stop-color="#7430d2"/><stop offset="0.58" stop-color="#7030d2"/><stop offset="0.624" stop-color="#7830cf"/><stop offset="0.79" stop-color="#8430c7"/><stop offset="1" stop-color="#8b30c4"/></linearGradient><linearGradient id="g3_16" gradientUnits="userSpaceOnUse" x1="422.8" x2="495.1" y1="0" y2="0"><stop offset="0" stop-color="#93cdfb"/><stop offset="0.0309" stop-color="#87cafb"/><stop offset="0.068" stop-color="#71c1fb"/><stop offset="0.149" stop-color="#68a1fc"/><stop offset="0.161" stop-color="#669cf7"/><stop offset="0.167" stop-color="#432b5c"/><stop offset="0.455" stop-color="#432b5c"/><stop offset="0.461" stop-color="#5c79fb"/><stop offset="0.468" stop-color="#4b3bff"/><stop offset="0.476" stop-color="#6730d3"/><stop offset="0.483" stop-color="#6330d9"/><stop offset="0.49" stop-color="#6730d9"/><stop offset="0.504" stop-color="#6c30d7"/><stop offset="0.746" stop-color="#8230c7"/><stop offset="1" stop-color="#8c30c4"/></linearGradient><linearGradient id="g3_15" gradientUnits="userSpaceOnUse" x1="421.9" x2="494.6" y1="0" y2="0"><stop offset="0" stop-color="#93cdfb"/><stop offset="0.0307" stop-color="#86c9fb"/><stop offset="0.0614" stop-color="#72c1fb"/><stop offset="0.148" stop-color="#679ffc"/><stop offset="0.16" stop-color="#669af9"/><stop offset="0.166" stop-color="#432b5c"/><stop offset="0.39" stop-color="#432b5c"/><stop offset="0.397" stop-color="#586dfd"/><stop offset="0.404" stop-color="#6334e9"/><stop offset="0.41" stop-color="#5c30e3"/><stop offset="0.508" stop-color="#6d30d6"/><stop offset="0.63" stop-color="#7a30cc"/><stop offset="0.816" stop-color="#8630c5"/><stop offset="1" stop-color="#8c30c3"/></linearGradient><linearGradient id="g3_14" gradientUnits="userSpaceOnUse" x1="421.0" x2="494.1" y1="0" y2="0"><stop offset="0" stop-color="#92cdfb"/><stop offset="0.0305" stop-color="#85c8fb"/><stop offset="0.0611" stop-color="#71c0fb"/><stop offset="0.153" stop-color="#669afc"/><stop offset="0.165" stop-color="#6495f9"/><stop offset="0.171" stop-color="#432b5c"/><stop offset="0.328" stop-color="#432b5c"/><stop offset="0.335" stop-color="#586df9"/><stop offset="0.341" stop-color="#5259fe"/><stop offset="0.348" stop-color="#5630ea"/><stop offset="0.512" stop-color="#6f30d5"/><stop offset="0.633" stop-color="#7b30cb"/><stop offset="0.795" stop-color="#8630c5"/><stop offset="1" stop-color="#8c30c3"/></linearGradient><linearGradient id="g3_13" gradientUnits="userSpaceOnUse" x1="420.1" x2="493.6" y1="0" y2="0"><stop offset="0" stop-color="#92cdfb"/><stop offset="0.0607" stop-color="#71bffb"/><stop offset="0.176" stop-color="#628ef9"/><stop offset="0.182" stop-color="#432b5c"/><stop offset="0.269" stop-color="#432b5c"/><stop offset="0.275" stop-color="#5a73fa"/><stop offset="0.282" stop-color="#5971fd"/><stop offset="0.288" stop-color="#535dfe"/><stop offset="0.294" stop-color="#5739f3"/><stop offset="0.307" stop-color="#4f35f4"/><stop offset="0.34" stop-color="#5531ee"/><stop offset="0.467" stop-color="#6b30d9"/><stop offset="0.607" stop-color="#7a30cc"/><stop offset="0.782" stop-color="#8530c5"/><stop offset="1" stop-color="#8c30c3"/></linearGradient><linearGradient id="g3_12" gradientUnits="userSpaceOnUse" x1="419.2" x2="493.1" y1="0" y2="0"><stop offset="0" stop-color="#92ccfb"/><stop offset="0.0302" stop-color="#84c7fb"/><stop offset="0.0603" stop-color="#71bffb"/><stop offset="0.163" stop-color="#6391fd"/><stop offset="0.23" stop-color="#5c79fd"/><stop offset="0.236" stop-color="#5b76fd"/><stop offset="0.243" stop-color="#4f44ff"/><stop offset="0.249" stop-color="#4c46ff"/><stop offset="0.268" stop-color="#4b40fe"/><stop offset="0.319" stop-color="#5536f2"/><stop offset="0.371" stop-color="#5f30e7"/><stop offset="0.444" stop-color="#6b30db"/><stop offset="0.589" stop-color="#7a30cd"/><stop offset="0.776" stop-color="#8530c5"/><stop offset="1" stop-color="#8c30c3"/></linearGradient><linearGradient id="g3_11" gradientUnits="userSpaceOnUse" x1="418.2" x2="492.6" y1="0" y2="0"><stop offset="0" stop-color="#92ccfb"/><stop offset="0.03" stop-color="#85c7fb"/><stop offset="0.06" stop-color="#71befb"/><stop offset="0.192" stop-color="#5f84fd"/><stop offset="0.198" stop-color="#6162fe"/><stop offset="0.204" stop-color="#535bfe"/><stop offset="0.242" stop-color="#4e4cff"/><stop offset="0.267" stop-color="#5044ff"/><stop offset="0.324" stop-color="#5a38f1"/><stop offset="0.402" stop-color="#6830e2"/><stop offset="0.593" stop-color="#7c30cc"/><stop offset="0.778" stop-color="#8630c5"/><stop offset="1" stop-color="#8c30c3"/></linearGradient><linearGradient id="g3_10" gradientUnits="userSpaceOnUse" x1="417.3" x2="492.1" y1="0" y2="0"><stop offset="0" stop-color="#93ccfb"/><stop offset="0.0656" stop-color="#70bbfb"/><stop offset="0.143" stop-color="#6597fc"/><stop offset="0.149" stop-color="#6493fc"/><stop offset="0.155" stop-color="#5c7bfd"/><stop offset="0.161" stop-color="#5971fe"/><stop offset="0.21" stop-color="#535dfe"/><stop offset="0.266" stop-color="#5649ff"/><stop offset="0.329" stop-color="#5f3bf0"/><stop offset="0.426" stop-color="#6e30de"/><stop offset="0.589" stop-color="#7d30cd"/><stop offset="0.766" stop-color="#8630c5"/><stop offset="1" stop-color="#8c30c4"/></linearGradient><linearGradient id="g3_9" gradientUnits="userSpaceOnUse" x1="416.4" x2="491.6" y1="0" y2="0"><stop offset="0" stop-color="#93ccfb"/><stop offset="0.0297" stop-color="#86c6fb"/><stop offset="0.0652" stop-color="#70bbfb"/><stop offset="0.101" stop-color="#6babfc"/><stop offset="0.113" stop-color="#69a4fc"/><stop offset="0.119" stop-color="#628ffd"/><stop offset="0.125" stop-color="#618afd"/><stop offset="0.137" stop-color="#6288fd"/><stop offset="0.179" stop-color="#5b71fd"/><stop offset="0.271" stop-color="#5d4cff"/><stop offset="0.347" stop-color="#663bed"/><stop offset="0.457" stop-color="#7430da"/><stop offset="0.599" stop-color="#7f30cc"/><stop offset="0.775" stop-color="#8630c6"/><stop offset="1" stop-color="#8c30c5"/></linearGradient><linearGradient id="g3_8" gradientUnits="userSpaceOnUse" x1="415.5" x2="491.1" y1="0" y2="0"><stop offset="0" stop-color="#94ccfb"/><stop offset="0.059" stop-color="#78bdfb"/><stop offset="0.0826" stop-color="#6caffc"/><stop offset="0.0885" stop-color="#71a3fc"/><stop offset="0.0945" stop-color="#74a5fc"/><stop offset="0.166" stop-color="#657ffd"/><stop offset="0.227" stop-color="#6262fe"/><stop offset="0.276" stop-color="#6450ff"/><stop offset="0.358" stop-color="#6b3dec"/><stop offset="0.488" stop-color="#7931d7"/><stop offset="0.609" stop-color="#8030cd"/><stop offset="0.783" stop-color="#8730c7"/><stop offset="1" stop-color="#8c31c7"/></linearGradient><linearGradient id="g3_7" gradientUnits="userSpaceOnUse" x1="415.0" x2="490.6" y1="0" y2="0"><stop offset="0" stop-color="#93cbfb"/><stop offset="0.0413" stop-color="#81c1fb"/><stop offset="0.0532" stop-color="#86bbfb"/><stop offset="0.119" stop-color="#749cfc"/><stop offset="0.173" stop-color="#6c81fd"/><stop offset="0.277" stop-color="#6b55fe"/><stop offset="0.365" stop-color="#7040eb"/><stop offset="0.482" stop-color="#7b34d9"/><stop offset="0.617" stop-color="#8230ce"/><stop offset="0.784" stop-color="#8730c8"/><stop offset="1" stop-color="#8b33c9"/></linearGradient><linearGradient id="g3_6" gradientUnits="userSpaceOnUse" x1="414.6" x2="490.1" y1="0" y2="0"><stop offset="0" stop-color="#93cbfb"/><stop offset="0.0177" stop-color="#92c6fb"/><stop offset="0.0711" stop-color="#84b5fb"/><stop offset="0.179" stop-color="#7383fd"/><stop offset="0.284" stop-color="#7259fe"/><stop offset="0.385" stop-color="#7642e9"/><stop offset="0.497" stop-color="#7d37d9"/><stop offset="0.631" stop-color="#8432cf"/><stop offset="0.798" stop-color="#8832cb"/><stop offset="1" stop-color="#8b35cb"/></linearGradient><linearGradient id="g3_5" gradientUnits="userSpaceOnUse" x1="414.1" x2="489.6" y1="0" y2="0"><stop offset="0" stop-color="#96cafb"/><stop offset="0.0653" stop-color="#89bafb"/><stop offset="0.143" stop-color="#7d9afc"/><stop offset="0.229" stop-color="#7874fd"/><stop offset="0.291" stop-color="#785dfe"/><stop offset="0.406" stop-color="#7b44e8"/><stop offset="0.517" stop-color="#803ada"/><stop offset="0.646" stop-color="#8536d2"/><stop offset="1" stop-color="#8b39cf"/></linearGradient><linearGradient id="g3_4" gradientUnits="userSpaceOnUse" x1="413.6" x2="489.2" y1="0" y2="0"><stop offset="0" stop-color="#97cbfb"/><stop offset="0.0475" stop-color="#90c1fb"/><stop offset="0.0954" stop-color="#89b3fb"/><stop offset="0.186" stop-color="#818dfd"/><stop offset="0.304" stop-color="#7f61fe"/><stop offset="0.42" stop-color="#804ae9"/><stop offset="0.518" stop-color="#8240de"/><stop offset="0.66" stop-color="#863bd5"/><stop offset="1" stop-color="#8c3dd4"/></linearGradient><linearGradient id="g3_3" gradientUnits="userSpaceOnUse" x1="413.6" x2="488.7" y1="0" y2="0"><stop offset="0" stop-color="#98cbfb"/><stop offset="0.0963" stop-color="#8db5fb"/><stop offset="0.25" stop-color="#867bfd"/><stop offset="0.32" stop-color="#8566fe"/><stop offset="0.43" stop-color="#8551ec"/><stop offset="0.536" stop-color="#8646e1"/><stop offset="0.659" stop-color="#8841db"/><stop offset="1" stop-color="#8d44da"/></linearGradient><linearGradient id="g3_2" gradientUnits="userSpaceOnUse" x1="413.6" x2="488.3" y1="0" y2="0"><stop offset="0" stop-color="#98cbfb"/><stop offset="0.0971" stop-color="#91b7fb"/><stop offset="0.259" stop-color="#8c81fd"/><stop offset="0.342" stop-color="#8b6bfe"/><stop offset="0.447" stop-color="#8b59f0"/><stop offset="0.548" stop-color="#8b50e8"/><stop offset="0.671" stop-color="#8c4be2"/><stop offset="1" stop-color="#904fe2"/></linearGradient><linearGradient id="g3_1" gradientUnits="userSpaceOnUse" x1="414.0" x2="487.8" y1="0" y2="0"><stop offset="0" stop-color="#99cafb"/><stop offset="0.0987" stop-color="#94b9fb"/><stop offset="0.322" stop-color="#917cfd"/><stop offset="0.394" stop-color="#916efd"/><stop offset="0.461" stop-color="#9065f7"/><stop offset="0.563" stop-color="#905def"/><stop offset="0.688" stop-color="#9158eb"/><stop offset="1" stop-color="#945cec"/></linearGradient><linearGradient id="g3_0" gradientUnits="userSpaceOnUse" x1="414.4" x2="487.4" y1="0" y2="0"><stop offset="0" stop-color="#9acbfb"/><stop offset="0.1" stop-color="#97bcfb"/><stop offset="0.334" stop-color="#9788fd"/><stop offset="0.475" stop-color="#9675fd"/><stop offset="0.699" stop-color="#966af6"/><stop offset="1" stop-color="#986df8"/></linearGradient></defs>
<g><path d="M504.5,122 509.1,123.4 509.9,122.3 505.4,120.8Z" fill="url(#g3_51)"/>
<path d="M498.9,121.2 508.5,124 509.3,123.1 504.7,121.7 499.8,120.1Z" fill="url(#g3_50)"/>
<path d="M493.4,120.5 507.9,124.6 508.7,123.8 499.1,121 494.2,119.3Z" fill="url(#g3_49)"/>
<path d="M488.8,120.1 496.7,122.3 507.3,125.1 508.1,124.4 493.6,120.2 489.7,118.9Z" fill="url(#g3_48)"/>
<path d="M483.7,119.5 493,122.1 506.7,125.5 507.5,125 491.5,120.5 488.5,119.7 484.7,118.3Z" fill="url(#g3_47)"/>
<path d="M479.7,119.2 490.4,122.1 506.1,125.8 506.9,125.4 489.8,120.9 484,119.3 480.6,118.1Z" fill="url(#g3_46)"/>
<path d="M475.1,118.9 480.9,120.4 486.8,121.9 505.6,126 506.3,125.7 494.6,122.9 487.2,121 479.9,119 476.1,117.7Z" fill="url(#g3_45)"/>
<path d="M471.1,118.6 477.3,120.3 483.6,121.8 505,126 505.8,125.9 492.5,123 484.5,121.1 476.3,118.9 472.1,117.4Z" fill="url(#g3_44)"/>
<path d="M467.5,118.5 473.7,120.2 480.5,121.6 486.9,122.8 504.5,125.8 505.2,126 489.8,122.9 481.9,121.2 473.7,119 471.3,118.4 468.5,117.4Z" fill="url(#g3_43)"/>
<path d="M463.9,118.4 470.6,120.2 477.8,121.6 483.7,122.5 503.9,125.4 504.6,125.9 487.2,122.8 479.3,121.2 471.1,119.2 467.3,118.1 465,117.3Z" fill="url(#g3_42)"/>
<path d="M460.4,118.4 464.1,119.4 467.4,120.2 474.6,121.5 480.6,122.2 495.4,123.9 503.4,124.9 504.1,125.6 484,122.5 476.6,121.2 472.2,120.3 468.4,119.4 463.7,118 461.4,117.2Z" fill="url(#g3_41)"/>
<path d="M456.8,118.3 460.5,119.3 463.8,120.1 467.6,120.8 471.5,121.3 478.4,122 494.8,123.3 502.9,124.1 503.6,125.1 496.1,124.1 481.3,122.3 473.9,121.2 469.6,120.4 465.3,119.4 460.6,118.1 457.9,117.1Z" fill="url(#g3_40)"/>
<path d="M453.2,118.2 456.9,119.3 460.7,120.1 464.5,120.7 468.3,121.2 475.2,121.7 492.6,122.3 497.5,122.7 502.4,123.1 503,124.4 494.5,123.4 477.6,122 470.8,121.1 466.5,120.4 462.2,119.4 457.5,118.2 454.3,117.1Z" fill="url(#g3_39)"/>
<path d="M451.9,118.3 455.6,119.4 459.4,120.2 463.1,120.8 467,121.2 473.8,121.5 491.8,121.8 497.2,122.1 502.1,122.5 502.4,123.3 493.3,122.5 475.3,121.7 468.4,121.2 464.1,120.6 460.3,119.9 456.6,119 452.5,117.8Z" fill="url(#g3_38)"/>
<path d="M450.1,118.3 453.8,119.3 457.5,120.1 461.3,120.7 465.1,121.1 472,121.4 485.2,121.3 491,121.3 496.4,121.5 501.9,121.9 502.2,122.7 497.3,122.3 492.5,122 473.9,121.6 466.6,121.1 462.3,120.6 458.5,119.9 454.8,119 450.7,117.8Z" fill="url(#g3_37)"/>
<path d="M448.8,118.4 452.5,119.4 456.2,120.2 460,120.8 463.8,121.1 470.6,121.2 483.8,120.8 489.6,120.7 495.6,120.9 501.6,121.2 501.9,122.1 496.5,121.7 491.1,121.5 472.6,121.4 468.7,121.3 465.3,121.1 461,120.6 457.2,120 453.5,119.1 449.4,117.9Z" fill="url(#g3_36)"/>
<path d="M447,118.4 451.2,119.5 454.9,120.3 458.6,120.8 462.4,121 465.8,121.1 469.2,121 482.4,120.3 488.8,120.1 495.3,120.2 501.4,120.5 501.7,121.5 496.2,121.1 490.3,120.9 484.5,121 471.2,121.2 467.3,121.2 463.9,121.1 459.6,120.7 455.9,120 451.7,119.1 447.6,117.9Z" fill="url(#g3_35)"/>
<path d="M445.7,118.5 449.8,119.6 453.5,120.4 457.3,120.8 461.1,121 464.5,121 467.9,120.9 481.6,119.8 487.9,119.5 494.5,119.4 501.1,119.8 501.4,120.8 495.4,120.4 489.4,120.3 483.1,120.5 469.4,121.1 466,121.1 462.6,121 458.3,120.7 454.5,120.1 450.4,119.2 446.3,118Z" fill="url(#g3_34)"/>
<path d="M443.9,118.5 448,119.6 451.7,120.4 455.5,120.8 459.3,121 462.6,120.9 466,120.7 480.2,119.3 487.1,118.8 494.2,118.7 500.9,119 501.2,120 495.1,119.7 488.6,119.7 482.2,120 468,120.9 464.1,121 460.7,121 456.5,120.7 452.7,120.1 448.6,119.2 444.5,117.9Z" fill="url(#g3_33)"/>
<path d="M442.6,118.6 446.7,119.8 450.4,120.5 454.1,120.9 457.9,121 461.2,120.8 464.6,120.6 478.8,118.8 485.7,118.1 489.5,117.9 493.4,117.9 497.2,117.9 500.6,118.1 501,119.2 494.3,118.9 487.2,119.1 480.8,119.5 466.6,120.8 462.7,121 459.4,121 455.1,120.7 451.4,120.2 447.3,119.3 443.2,118.1Z" fill="url(#g3_32)"/>
<path d="M441.3,118.7 445.4,119.9 449,120.6 452.8,120.9 456.5,121 459.9,120.8 463.3,120.4 478,118.2 484.9,117.4 488.7,117.1 492.5,117 496.4,117.1 500.4,117.3 500.7,118.4 497.3,118.2 493.5,118.1 486.4,118.4 479.5,118.9 464.8,120.7 461.4,120.9 458,121 453.8,120.8 450.1,120.3 445.9,119.4 441.8,118.2Z" fill="url(#g3_31)"/>
<path d="M439.9,118.9 443.6,119.9 447.2,120.6 450.9,121 454.7,121 458,120.7 461.4,120.3 476.6,117.6 484,116.6 488.4,116.3 492.2,116.2 496.2,116.2 500.1,116.4 500.5,117.6 497.1,117.4 493.2,117.3 489.3,117.4 485.5,117.6 478.6,118.3 463.4,120.5 460,120.8 456.7,121 452.4,120.9 448.7,120.4 444.6,119.5 440.5,118.3Z" fill="url(#g3_30)"/>
<path d="M438.1,118.8 442.2,120 445.9,120.7 449.6,121 453.3,121 456.7,120.7 460,120.2 475.1,117.1 479.4,116.4 483.1,115.9 487.5,115.5 491.4,115.3 495.9,115.3 499.9,115.5 500.2,116.7 496.3,116.5 492.3,116.5 488.5,116.6 484.7,116.9 477.2,117.8 462,120.4 458.2,120.8 454.8,121 450.6,120.9 446.9,120.4 443.3,119.6 438.7,118.3Z" fill="url(#g3_29)"/>
<path d="M436.8,119 440.9,120.1 444.6,120.8 448.2,121.1 452,121 455.3,120.6 458.6,120.1 474.3,116.5 478.5,115.7 482.3,115.1 486.6,114.6 491.1,114.4 495,114.4 499.6,114.6 500,115.8 496,115.6 491.5,115.6 487.6,115.8 483.3,116.2 479.5,116.7 475.8,117.3 460.7,120.2 456.8,120.8 453.5,121 449.3,121 445.6,120.5 441.9,119.8 437.4,118.4Z" fill="url(#g3_28)"/>
<path d="M435.5,119.1 439.6,120.2 443.2,120.9 446.4,121.2 450.1,121.1 453.4,120.7 456.8,120.1 460.7,119.1 472.8,115.9 477.1,115 481.4,114.3 485.8,113.8 490.2,113.5 494.8,113.5 499.4,113.8 499.7,114.9 495.1,114.7 491.2,114.7 486.8,114.9 482.4,115.4 478.6,115.9 474.4,116.7 462.7,119.4 458.8,120.2 455.4,120.7 452.1,121 447.9,121 444.2,120.7 440.6,119.9 436.1,118.5Z" fill="url(#g3_27)"/>
<path d="M434.2,119.2 438.2,120.4 441.9,121 445.1,121.3 448.8,121.1 452.1,120.7 455.4,120 459.3,118.9 471.4,115.4 475.6,114.4 480,113.6 484.9,112.9 489.4,112.7 494.5,112.7 499.1,113 499.4,114.1 494.9,113.8 490.3,113.8 485.9,114.1 481.5,114.6 477.7,115.2 473.5,116.1 457.4,120.1 454.1,120.7 450.8,121.1 448.4,121.2 446.6,121.1 442.9,120.8 439.3,120 434.7,118.6Z" fill="url(#g3_26)"/>
<path d="M432.8,119.4 436.9,120.5 440.5,121.2 443.7,121.4 447.4,121.2 450.7,120.7 454,119.9 457.4,118.9 466.4,116 470.5,114.8 474.7,113.7 479.1,112.8 484,112.1 489.1,111.8 494.2,111.9 498.8,112.3 499.2,113.3 494.6,113 490,112.9 485.6,113.2 480.6,113.8 476.3,114.6 472.1,115.6 459.4,119.1 456,120 452.2,120.7 448.9,121.1 445.2,121.2 441.6,120.9 437.9,120.1 433.4,118.8Z" fill="url(#g3_25)"/>
<path d="M431.9,119.6 435.5,120.7 439.2,121.3 442.4,121.5 446,121.3 449.3,120.7 452.6,119.9 456,118.8 464.9,115.7 469.1,114.3 473.8,113 478.2,112.1 483.1,111.4 488.2,111.1 493.3,111.1 498.5,111.6 498.9,112.5 494.3,112.1 489.2,112.1 484.7,112.4 479.7,113 475.4,113.9 471.2,114.9 467,116.1 458,118.9 454.2,120 450.8,120.7 447.6,121.2 443.9,121.3 440.2,121 436.6,120.3 432.5,119.1Z" fill="url(#g3_24)"/>
<path d="M430.6,119.8 434.2,120.8 437.8,121.5 441,121.6 444.2,121.4 447.5,120.9 450.7,120 454.6,118.7 463.5,115.4 468.2,113.8 472.9,112.4 477.3,111.4 480,111 482.8,110.7 487.9,110.4 493,110.6 498.2,111.2 498.6,111.8 493.4,111.4 488.3,111.3 483.2,111.7 478.3,112.4 474,113.3 469.7,114.5 465.6,115.8 456.6,118.8 452.8,120 449.5,120.8 446.2,121.3 442.5,121.5 438.9,121.2 435.2,120.4 431.2,119.2Z" fill="url(#g3_23)"/>
<path d="M429.3,119.9 433.3,121 436.5,121.6 439.6,121.8 442.8,121.5 446.1,120.9 449.4,120 453.2,118.6 462.1,115.1 466.7,113.4 471.5,112 476.3,110.8 479.1,110.4 481.9,110.1 484.7,109.9 487.5,109.9 490.4,110 492.7,110.2 495.6,110.6 497.9,111.1 498.3,111.3 493.1,110.8 488,110.6 482.9,110.9 480.1,111.2 477.4,111.7 473.1,112.7 468.3,114 464.2,115.4 455.2,118.7 451.4,119.9 448.1,120.8 444.8,121.4 443,121.5 441.2,121.6 438,121.4 434.4,120.7 429.9,119.3Z" fill="url(#g3_22)"/>
<path d="M427.9,120 432,121.2 435.6,121.8 437.4,121.9 439.2,121.9 441,121.7 442.8,121.5 446.1,120.7 449.4,119.5 462.2,114.3 467.9,112.2 471.1,111.3 473.8,110.7 476.5,110.2 479.3,109.8 482.1,109.6 484.3,109.6 487.2,109.7 488.9,109.9 492.8,111.3 497.4,113.2 498,111.1 492.8,110.3 489.9,110.1 487.1,110.1 482,110.3 479.2,110.6 476.5,111.1 471.6,112.2 466.9,113.7 462.2,115.3 453.3,118.8 449.5,120.1 446.2,121 443,121.5 439.8,121.7 438,121.7 436.2,121.4 432.6,120.7 428.5,119.4Z" fill="url(#g3_21)"/>
<path d="M427,120.3 431.1,121.5 432.9,121.8 434.7,122 437.8,122.1 439.6,121.9 441.5,121.6 444.7,120.8 448,119.6 460.2,114.3 465.9,112.2 469.1,111.2 471.8,110.6 475,110 477.8,109.7 480.6,109.6 483.9,110.6 490.1,112.7 496.9,115.5 497.6,112.5 492.4,110.3 491.3,110.1 488.4,109.8 485.6,109.7 482.8,109.7 480,109.9 477.2,110.3 473.9,110.9 471.2,111.5 468,112.5 462.3,114.5 450,119.5 446.7,120.6 443.5,121.4 441.2,121.7 439.3,121.9 437.5,121.9 435.7,121.7 432.1,121.1 427.6,119.7Z" fill="url(#g3_20)"/>
<path d="M425.7,120.5 429.7,121.6 431.5,122 433.3,122.2 436.5,122.3 438.3,122.1 440.1,121.8 443.3,120.9 446.6,119.7 458.3,114.5 463.4,112.5 466,111.6 468.7,110.9 471.3,110.4 473,110.2 478.4,111.4 484,113 490.1,115.1 496.4,117.7 497,114.7 490.2,111.9 483.5,109.6 481.3,109.5 479,109.6 476.3,109.9 473,110.5 470.3,111.1 467.1,112 463.9,113.1 460.9,114.3 451.5,118.4 448.1,119.7 444.9,120.8 441.6,121.6 439.8,121.9 438,122 436.2,122 434.4,121.9 430.8,121.2 426.3,119.9Z" fill="url(#g3_19)"/>
<path d="M424.8,120.7 428.8,121.9 430.6,122.2 432.4,122.4 435.6,122.4 437.4,122.2 439.2,121.9 441.9,121.1 445.2,119.9 455.8,115 459.8,113.3 463.5,112.1 465.6,111.6 466.1,111.5 469.3,111.8 472.5,112.3 476.3,113.1 479.6,114 483.5,115.2 487.4,116.6 491.3,118.1 495.8,120 496.5,116.9 490.9,114.6 485.3,112.5 480.3,111 475.3,109.9 473.1,110.1 470.4,110.6 467.7,111.3 464.6,112.3 458.9,114.4 450.1,118.4 446.7,119.8 443.5,121 440.7,121.7 438.9,122 437.1,122.2 435.3,122.2 433.5,122.1 431.7,121.9 429.9,121.5 425.4,120.2Z" fill="url(#g3_18)"/>
<path d="M423.4,120.9 427.5,122.1 430.6,122.6 433.7,122.7 435.5,122.5 437.4,122.2 440.1,121.5 442.8,120.5 445.6,119.3 455.4,114.8 458.4,113.6 459.4,113.3 459.9,113.2 464.1,113.4 467.8,113.7 471.5,114.4 475.9,115.3 480.3,116.6 485.2,118.2 490.3,120.1 495.3,122.3 496,119.2 488.7,116.2 484.8,114.8 481.4,113.7 478.1,112.8 474.9,112 471.6,111.4 468.4,111 467.3,111.1 465.2,111.7 461,113 456.5,114.9 448.6,118.5 445.3,119.9 442.1,121.1 439.3,121.9 437.5,122.2 435.7,122.4 433.9,122.4 432.1,122.3 430.3,122 428.5,121.6 424.1,120.3Z" fill="url(#g3_17)"/>
<path d="M422.5,121.2 425.7,122.1 428.8,122.7 431.9,122.9 434.6,122.7 437.8,122 441,120.9 444.2,119.5 450.9,116.5 453.9,115.3 457.5,115.1 461.1,115.2 464.7,115.5 468.4,116 472.2,116.7 476.5,117.8 480.9,119.2 485.3,120.7 489.8,122.4 494.8,124.6 495.5,121.5 490.4,119.3 486,117.6 481.5,116.1 477.7,115 473.3,113.9 469.6,113.3 465.8,112.8 462.2,112.6 461.6,112.6 460.1,113.1 456.5,114.4 446.3,119.1 443,120.5 440.2,121.5 437.5,122.2 435.7,122.5 433.9,122.6 430.8,122.5 429,122.2 427.2,121.8 423.2,120.6Z" fill="url(#g3_16)"/>
<path d="M421.6,121.5 424.8,122.4 427.4,122.9 430.1,123.2 432.8,123 435.5,122.5 438.7,121.6 441.5,120.5 448.6,117.4 452,117.1 454.5,117 457.6,116.9 460.6,117.1 464.3,117.5 468,118.1 471.7,118.9 476,120 480.4,121.4 484.8,123 489.3,124.7 494.3,126.9 495,123.8 489.9,121.6 485.5,119.9 481.1,118.4 476.7,117 472.9,116.1 469.1,115.3 465.4,114.8 461.7,114.5 458.1,114.5 455.6,114.6 452.1,116 444.9,119.4 441.6,120.8 438.4,121.9 435.2,122.6 432.5,122.8 429.4,122.7 426.3,122.1 422.3,120.9Z" fill="url(#g3_15)"/>
<path d="M420.7,121.8 423.4,122.6 426.1,123.1 428.8,123.4 431,123.4 433.2,123.1 436,122.4 438.7,121.5 443.8,119.5 448.1,119 452.1,118.7 456.1,118.7 460.2,119 463.9,119.5 467.6,120.2 471.3,121.1 475.6,122.3 479.9,123.7 484.3,125.3 488.8,127 493.8,129.2 494.5,126.1 489.4,123.9 485,122.2 480.6,120.6 476.2,119.3 471.9,118.1 468.1,117.3 464.4,116.8 460.8,116.4 458.2,116.3 455.2,116.3 452.6,116.5 450.2,116.7 442.1,120.3 439.3,121.4 436.1,122.4 433.4,122.9 430.7,123.1 427.6,122.8 424.9,122.3 421.4,121.2Z" fill="url(#g3_14)"/>
<path d="M419.8,122.1 422.5,122.9 424.7,123.4 427,123.6 429.2,123.7 431.4,123.5 433.7,123 435.9,122.4 439.1,121.4 444.8,120.7 448.7,120.4 452.2,120.4 455.7,120.6 459.3,120.9 462.9,121.5 466.6,122.2 470.3,123.1 474.6,124.3 478.9,125.8 483.3,127.4 488.3,129.3 493.3,131.5 494,128.4 488.9,126.2 484.5,124.5 480.1,122.9 475.7,121.5 471.4,120.3 467.7,119.5 464,118.8 460.4,118.3 456.8,118.1 453.2,118.1 449.8,118.3 445.4,118.8 439.8,121.1 437,122.1 433.9,122.9 431.2,123.3 428.9,123.3 426.3,123 423.6,122.4 420.4,121.5Z" fill="url(#g3_13)"/>
<path d="M418.9,122.4 421.2,123.1 423.4,123.6 425.6,123.9 427.4,124 429.2,123.9 431,123.7 435,122.9 440.6,122.3 444.9,122.1 448.3,122 451.8,122.1 455.3,122.4 458.9,122.9 462.5,123.5 466.2,124.3 469.9,125.3 474.1,126.6 478.5,128 482.8,129.6 492.8,133.7 493.5,130.7 484,126.8 479.6,125.2 475.3,123.7 471,122.5 467.3,121.6 463.6,120.8 460,120.3 456.4,120 452.3,119.8 448.9,119.9 445,120.2 440.7,120.7 437,122.1 434.3,122.9 431.6,123.4 429.4,123.6 427.1,123.5 424.9,123.2 422.2,122.6 419.5,121.8Z" fill="url(#g3_12)"/>
<path d="M418,122.7 422,123.8 423.8,124.1 425.6,124.3 427.8,124.3 430.9,124 439.7,123.6 445.5,123.5 448.9,123.7 451.9,123.9 454.9,124.3 458.5,124.8 462.1,125.5 465.7,126.4 469.4,127.4 473.7,128.8 482.4,131.9 492.3,136 493,132.9 483,128.8 478.6,127.2 474.3,125.8 470,124.5 466.3,123.6 462.6,122.8 459,122.2 455.5,121.8 451.9,121.5 448.5,121.5 445.1,121.6 441.2,121.9 436.6,122.4 431.6,123.6 429.8,123.8 428,123.9 425.8,123.8 423.5,123.4 421.3,122.9 418.6,122.1Z" fill="url(#g3_11)"/>
<path d="M417.1,123 420.7,124 422.4,124.4 424.2,124.6 430.1,124.8 440.3,124.9 445.6,125.1 452,125.7 458.1,126.8 461.7,127.6 465.3,128.5 473.2,131 481.9,134.1 491.8,138.2 492.5,135.2 482.5,131.1 473.8,128 469.6,126.7 465.9,125.7 462.2,124.8 458.6,124.1 455,123.6 452,123.3 448.6,123.1 445.1,123 438.5,123.3 432.5,123.7 428.9,124.1 426.2,124.2 424.4,124 422.2,123.7 420,123.1 417.7,122.4Z" fill="url(#g3_10)"/>
<path d="M416.2,123.3 418.4,124 420.6,124.5 425.1,125.2 429.2,125.6 439.9,126.1 445.2,126.6 451.1,127.4 457.1,128.6 464.4,130.4 472.3,133 480.9,136.1 491.3,140.4 492,137.4 482.1,133.4 473.4,130.2 469.1,128.8 465.5,127.8 461.8,126.9 458.2,126.1 452.1,125.1 449.1,124.8 445.7,124.5 440.9,124.4 426.6,124.6 424.4,124.5 422.6,124.2 420.8,123.9 416.8,122.7Z" fill="url(#g3_9)"/>
<path d="M415.3,123.6 419.3,124.8 424.2,125.8 428.8,126.4 439,127.4 444.3,128 450.7,129.1 456.7,130.5 463.9,132.5 471.8,135.1 480.4,138.3 490.8,142.5 491.5,139.6 481.6,135.6 473,132.4 465,129.9 457.8,128 451.7,126.9 445.3,126.1 440,125.7 428.9,125.3 423,124.8 419.9,124.2 415.9,123Z" fill="url(#g3_8)"/>
<path d="M414.8,124.1 419.3,125.4 423.8,126.5 427.9,127.2 438.6,128.6 443.9,129.5 450.3,130.8 456.3,132.3 463.5,134.4 471.4,137.1 479.9,140.4 490.3,144.6 491,141.8 480.6,137.5 472,134.3 464.1,131.8 456.9,129.8 450.8,128.5 444.9,127.6 439.1,126.9 428.9,126.1 424.4,125.6 419.5,124.6 415.4,123.4Z" fill="url(#g3_7)"/>
<path d="M414.3,124.5 418.8,126 422.9,127 427.4,128 437.7,129.8 443,130.8 449.4,132.3 455.4,133.9 462.6,136.2 470.4,138.9 479.5,142.4 489.9,146.6 490.5,143.9 480.1,139.7 471.5,136.4 463.7,133.8 456.5,131.7 450.4,130.2 444,129 438.7,128.2 428,126.9 423.9,126.2 419.4,125.2 415,123.9Z" fill="url(#g3_6)"/>
<path d="M413.9,125 418.4,126.5 422.4,127.7 442.6,132.2 448.5,133.7 454.5,135.5 462.1,138 470,140.8 479,144.3 489.4,148.5 490,145.9 479.7,141.7 470.6,138.3 462.7,135.5 455.5,133.3 449.5,131.7 443.6,130.4 437.8,129.4 427.6,127.7 423,126.8 419,125.8 414.5,124.4Z" fill="url(#g3_5)"/>
<path d="M413.4,125.5 417.4,126.9 421.5,128.2 441.7,133.4 448.1,135.2 454.1,137.1 461.2,139.6 469.5,142.6 478.6,146.2 488.9,150.3 489.6,147.9 479.2,143.7 470.1,140.2 462.3,137.4 455.1,135.1 449.1,133.3 442.7,131.7 437.4,130.6 426.7,128.4 422.6,127.4 418.5,126.3 414,124.9Z" fill="url(#g3_4)"/>
<path d="M413.4,126.2 421.1,128.8 440.8,134.5 447.2,136.5 453.2,138.5 460.3,141 468.6,144.1 488.5,152 489.1,149.7 478.7,145.5 469.7,142 461.4,139 454.2,136.6 448.2,134.7 441.8,132.9 422.1,128.1 418,126.9 414,125.5Z" fill="url(#g3_3)"/>
<path d="M413.3,126.9 421.5,129.7 441.4,136 452.2,139.7 467.6,145.5 488,153.6 488.6,151.4 468.7,143.6 460.4,140.5 453.3,138 447.3,136 440.9,134.1 421.7,128.7 414,126.2Z" fill="url(#g3_2)"/>
<path d="M413.8,127.7 421.1,130.3 440,136.7 450.8,140.6 466.7,146.7 487.6,155 488.2,153 467.8,144.9 452.4,139.2 441.5,135.6 422.1,129.6 414.4,127Z" fill="url(#g3_1)"/>
<path d="M414.2,128.6 487.1,157.2 487.8,154.5 466.8,146.2 451.5,140.4 440.1,136.3 421.7,130.2 414.8,127.8Z" fill="url(#g3_0)"/></g>
<path d="M399.1,122.7 402.2,119.7M403.7,118.2 451.1,72.8M397.8,117 401.9,118.5M404,119.3 412.1,122.4 415.6,123.7 418.5,124.6 421.7,125.3 424.6,125.9 427.5,126.3 439.8,127.5 445.5,128.2 449.1,128.8 452.3,129.4 458.8,131 465.8,133.1 473,135.5 481.2,138.6 490.8,142.5M404.3,124.7 411.2,118M412.7,116.5 455.8,74.2M401.6,113.4 410.9,116.9M413,117.7 422.2,121.1 424.7,121.8 426.8,122.4 429.3,122.8 431.5,122.9 433.6,122.8 435.8,122.5M450,116.9 452.3,115.9 453.9,115.3 457.6,115.1 461.3,115.2 464.6,115.4 468.4,116 471.4,116.6 474.4,117.3 477.5,118.1 480.6,119 487.2,121.4 494.8,124.6M409.7,126.8 420.1,116.3M421.5,114.9 460.5,75.6M405.4,109.9 419.8,115.2M421.9,116 429,118.6 432.6,119.8 435.8,120.7 439.1,121.3M415.1,129 418.6,124.9 423.5,120.2 428.9,114.7M430.3,113.3 465.3,77.1M409,106.5 428.5,113.6M430.7,114.4 440.3,117.9 444.3,119.1M420.6,131.1 420.8,130.6 424.9,124.8 428.6,122 430.5,120.4 432.9,118.1 437.6,113.1M438.9,111.6 470.1,78.5M412.6,103.2 437.2,112M439.3,112.7 450.1,116.6M426.2,133.3 426.4,132.5 427.8,130.1 431,123.9 432,123.3 434.3,122.5 435.5,121.9 436.7,121.1 437.8,120.2 440.3,117.9 446.2,111.4M447.5,110.1 475,80M416.1,99.9 445.8,110.4M447.9,111.1 456.6,114.2M431.9,135.5 432.1,134.5 433,132.6 433.9,130.5 437,122.4 437.2,122 438,121.8M447.5,117.9 454.7,109.9M455.9,108.5 479.9,81.5M419.4,96.8 454.2,108.8M456.4,109.5 463.6,112M503.3,124.4 507,125.3M437.6,137.8 437.8,136.5 438.7,134.3 439.6,131.8 443.3,119.7 443.5,119.5 443.8,119.5M458.5,113.6 463.1,108.3M464.3,106.9 484.9,83M422.7,93.7 462.6,107.2M464.8,108 471.7,110.3M501.4,120.4 505.3,121.8 509.4,123M443.5,140.1 443.7,138.6 444.6,136.1 445.7,132.5 449.5,117.4 449.7,116.9 450,116.9M467.8,111.1 471.4,106.7M472.5,105.4 490,84.5M426,90.7 470.9,105.7M473,106.4 482.6,109.6M500,115.5 511.8,119.4M449.4,142.4 449.6,140.8 450.5,138.1 451.6,134.1 455.9,115.2 456.2,114.4 456.4,114.4M475.9,109.7 479.6,105.2M480.7,103.9 495.1,86M429.1,87.7 479,104.2M481.2,104.9 514.2,115.8M455.5,144.8 455.7,143.1 456.8,139.4 458.1,134 462.6,113.2 462.8,112.3 463,112.3M483.1,109.5 487.7,103.7M488.7,102.4 500.3,87.6M432.2,84.9 487.1,102.7M489.3,103.4 516.5,112.2M461.6,147.2 461.8,145.4 462.5,143.3 463.2,140.8 464.5,134.9 469.4,111.6 469.6,110.7 469.8,110.7M489.9,109.8 495.7,102.2M496.7,100.9 505.6,89.2M435.2,82 495.1,101.2M497.3,101.9 518.8,108.7M467.8,149.6 468.1,147.9 469.4,143.1 470.8,137.1 476.3,110.4 476.6,109.8 476.8,109.8M496.3,110.7 503.6,100.7M504.6,99.4 510.9,90.8M438.1,79.3 503,99.7M505.2,100.4 521,105.4M474.2,152.1 474.4,150.4 475.6,146.5 477,140.6 483,112.2 483.5,109.8 483.7,109.6M499.8,115.7 511.5,99.2M512.4,98 516.3,92.4M441,76.6 510.8,98.3M513,98.9 523.1,102.1M480.6,154.6 480.9,152.9 482.3,148.1 483.7,142 490.5,110.9 490.7,110 490.9,110M502.2,122.5 503.2,121.4 519.2,97.8M520.1,96.5 521.7,94.1M443.8,74 518.5,96.8M520.7,97.5 525.2,98.9" stroke="#0b1f4a" stroke-opacity="0.32" stroke-width="0.4" fill="none"/>
<line x1="393.9" y1="120.6" x2="487.1" y2="157.2" stroke="#c2c2c2" stroke-width="0.5"/>
<line x1="487.1" y1="157.2" x2="527.3" y2="95.7" stroke="#c2c2c2" stroke-width="0.5"/>
<line x1="393.9" y1="120.6" x2="388.6" y2="87.1" stroke="#c2c2c2" stroke-width="0.5"/>
<line x1="487.1" y1="157.2" x2="489.2" y2="122.0" stroke="#ffffff" stroke-width="0.4" stroke-opacity="0.1"/>
<line x1="388.6" y1="87.1" x2="489.2" y2="122.0" stroke="#ffffff" stroke-width="0.4" stroke-opacity="0.1"/>
<line x1="489.2" y1="122.0" x2="531.7" y2="63.6" stroke="#ffffff" stroke-width="0.4" stroke-opacity="0.1"/>
<text x="391.7" y="128.3" text-anchor="middle" class="t3">0</text>
<text x="491.3" y="160.0" text-anchor="middle" class="t3">0</text>
<text x="420.0" y="139.4" text-anchor="middle" class="t3">1</text>
<text x="506.4" y="137.4" text-anchor="middle" class="t3">1</text>
<text x="450.7" y="151.5" text-anchor="middle" class="t3">2</text>
<text x="519.3" y="118.5" text-anchor="middle" class="t3">2</text>
<text x="482.3" y="164.6" text-anchor="middle" class="t3">3</text>
<text x="530.6" y="101.0" text-anchor="middle" class="t3">3</text>
<text x="428.3" y="151.4" text-anchor="middle" class="al"><tspan font-style="italic">u</tspan><tspan dy="1" font-size="3.9">1</tspan></text>
<text x="521.4" y="130.3" text-anchor="middle" class="al"><tspan font-style="italic">u</tspan><tspan dy="1" font-size="3.9">2</tspan></text>
<text x="391.4" y="120.0" text-anchor="end" class="t3">0.00</text>
<text x="390.2" y="112.9" text-anchor="end" class="t3">0.05</text>
<text x="389.1" y="105.6" text-anchor="end" class="t3">0.10</text>
<text x="387.9" y="98.0" text-anchor="end" class="t3">0.15</text>
<text x="386.6" y="90.2" text-anchor="end" class="t3">0.20</text>
<text x="413.7" y="37.7" class="tt"><tspan font-style="italic">β</tspan><tspan class="sb" dy="1.4">0</tspan><tspan dy="-1.4">=</tspan>2</text><text x="432.5" y="37.7" class="tt"><tspan font-style="italic">β</tspan><tspan class="sb" dy="1.4">1</tspan><tspan dy="-1.4">=</tspan><tspan font-style="italic">β</tspan><tspan class="sb" dy="1.4">2</tspan><tspan dy="-1.4">=</tspan>5</text><text x="465.9" y="37.7" class="tt"><tspan font-style="italic">α</tspan><tspan class="sb" dy="1.4">0</tspan><tspan dy="-1.4">=</tspan><tspan font-style="italic">α</tspan><tspan class="sb" dy="1.4">1</tspan><tspan dy="-1.4">=</tspan><tspan font-style="italic">α</tspan><tspan class="sb" dy="1.4">2</tspan><tspan dy="-1.4">=</tspan>5</text></g>
</svg></body></html>
